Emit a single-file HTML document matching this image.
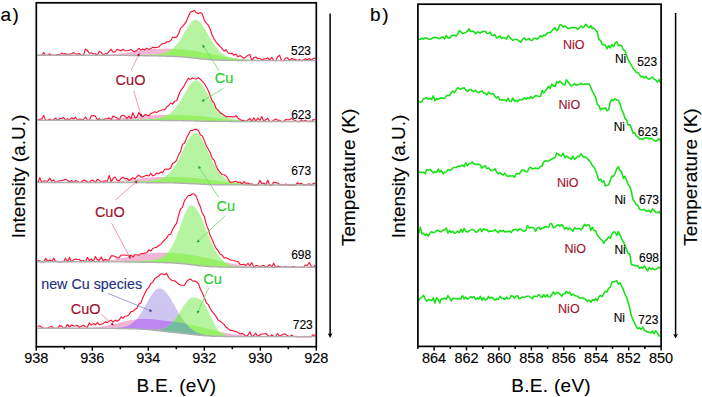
<!DOCTYPE html>
<html><head><meta charset="utf-8"><style>
html,body{margin:0;padding:0;background:#fff;}
svg{display:block;}
text{font-family:"Liberation Sans", sans-serif;stroke:currentColor;stroke-width:0.12px;}
</style></head><body>
<svg width="702" height="397" viewBox="0 0 702 397">
<defs><pattern id="dots" width="3" height="3" patternUnits="userSpaceOnUse" patternTransform="rotate(30)"><circle cx="1" cy="1" r="0.55" fill="#d89a98" fill-opacity="0.55"/></pattern></defs>
<rect width="702" height="397" fill="#fff"/>
<polygon points="88.4,55.3 89.4,55.3 90.3,55.3 91.2,55.2 92.2,55.2 93.1,55.2 94,55.2 94.9,55.2 95.9,55.2 96.8,55.2 97.7,55.1 98.7,55.1 99.6,55.1 100.5,55.1 101.5,55 102.4,55 103.3,54.9 104.2,54.9 105.2,54.9 106.1,54.8 107,54.8 108,54.7 108.9,54.6 109.8,54.6 110.8,54.5 111.7,54.4 112.6,54.3 113.5,54.2 114.5,54.2 115.4,54.1 116.3,54 117.3,53.9 118.2,53.8 119.1,53.6 120,53.5 121,53.4 121.9,53.3 122.8,53.1 123.8,53 124.7,52.9 125.6,52.7 126.6,52.6 127.5,52.5 128.4,52.3 129.3,52.2 130.3,52 131.2,51.9 132.1,51.7 133.1,51.6 134,51.4 134.9,51.3 135.9,51.1 136.8,51 137.7,50.9 138.6,50.7 139.6,50.6 140.5,50.5 141.4,50.3 142.4,50.2 143.3,50.1 144.2,50 145.2,49.9 146.1,49.8 147,49.7 147.9,49.6 148.9,49.5 149.8,49.4 150.7,49.3 151.7,49.2 152.6,49.2 153.5,49.1 154.5,49 155.4,49 156.3,48.9 157.2,48.9 158.2,48.9 159.1,48.8 160,48.8 161,48.8 161.9,48.8 162.8,48.7 163.7,48.7 164.7,48.7 165.6,48.7 166.5,48.7 167.5,48.8 168.4,48.8 169.3,48.8 170.3,48.8 171.2,48.8 172.1,48.9 173,48.9 174,48.9 174.9,49 175.8,49 176.8,49.1 177.7,49.1 178.6,49.2 179.6,49.2 180.5,49.3 181.4,49.3 182.3,49.4 183.3,49.5 184.2,49.6 185.1,49.7 186.1,49.7 187,49.8 187.9,49.9 188.9,50.1 189.8,50.2 190.7,50.3 191.6,50.4 192.6,50.6 193.5,50.7 194.4,50.8 195.4,51 196.3,51.2 197.2,51.3 198.1,51.5 199.1,51.6 200,51.8 200.9,52 201.9,52.2 202.8,52.3 203.7,52.5 204.7,52.7 205.6,52.9 206.5,53 207.4,53.2 208.4,53.4 209.3,53.6 210.2,53.8 211.2,54 212.1,54.1 213,54.3 214,54.5 214.9,54.7 215.8,54.9 216.7,55.1 217.7,55.3 218.6,55.5 219.5,55.6 220.5,55.8 221.4,56 222.3,56.2 223.3,56.4 224.2,56.5 225.1,56.7 226,56.9 227,57.1 227.9,57.2 228.8,57.4 229.8,57.6 230.7,57.7 231.6,57.9 232.6,58 233.5,58.2 234.4,58.3 235.3,58.5 236.3,58.6 237.2,58.7 238.1,58.9 239.1,59 240,59.1 240.9,59.2 241.8,59.3 242.8,59.4 243.7,59.5 244.6,59.6 245.6,59.7 246.5,59.7 247.4,59.8 248.4,59.9 249.3,60 250.2,60 251.1,60.1 252.1,60.1 253,60.2 253.9,60.2 254.9,60.2 255.8,60.3 256.7,60.3 257.7,60.3 258.6,60.4 259.5,60.4 260.4,60.4 261.4,60.4 262.3,60.4 263.2,60.5 264.2,60.5 265.1,60.5 266,60.5 267,60.5 267,60.6 266,60.6 265.1,60.6 264.2,60.6 263.2,60.6 262.3,60.6 261.4,60.6 260.4,60.5 259.5,60.5 258.6,60.5 257.7,60.5 256.7,60.5 255.8,60.5 254.9,60.5 253.9,60.5 253,60.5 252.1,60.5 251.1,60.5 250.2,60.5 249.3,60.5 248.4,60.5 247.4,60.5 246.5,60.5 245.6,60.5 244.6,60.5 243.7,60.5 242.8,60.5 241.8,60.5 240.9,60.5 240,60.5 239.1,60.5 238.1,60.5 237.2,60.5 236.3,60.4 235.3,60.4 234.4,60.4 233.5,60.4 232.6,60.4 231.6,60.4 230.7,60.4 229.8,60.4 228.8,60.4 227.9,60.3 227,60.3 226,60.3 225.1,60.3 224.2,60.3 223.3,60.2 222.3,60.2 221.4,60.2 220.5,60.2 219.5,60.1 218.6,60.1 217.7,60.1 216.7,60 215.8,60 214.9,60 214,59.9 213,59.9 212.1,59.8 211.2,59.7 210.2,59.7 209.3,59.6 208.4,59.5 207.4,59.5 206.5,59.4 205.6,59.3 204.7,59.2 203.7,59.1 202.8,59.1 201.9,59 200.9,58.9 200,58.8 199.1,58.7 198.1,58.5 197.2,58.4 196.3,58.3 195.4,58.2 194.4,58.1 193.5,58 192.6,57.9 191.6,57.8 190.7,57.7 189.8,57.6 188.9,57.5 187.9,57.4 187,57.3 186.1,57.2 185.1,57.1 184.2,57.1 183.3,57 182.3,56.9 181.4,56.8 180.5,56.8 179.6,56.7 178.6,56.7 177.7,56.6 176.8,56.6 175.8,56.5 174.9,56.5 174,56.4 173,56.4 172.1,56.4 171.2,56.3 170.3,56.3 169.3,56.3 168.4,56.2 167.5,56.2 166.5,56.2 165.6,56.1 164.7,56.1 163.7,56.1 162.8,56.1 161.9,56 161,56 160,56 159.1,56 158.2,55.9 157.2,55.9 156.3,55.9 155.4,55.9 154.5,55.9 153.5,55.8 152.6,55.8 151.7,55.8 150.7,55.8 149.8,55.8 148.9,55.8 147.9,55.7 147,55.7 146.1,55.7 145.2,55.7 144.2,55.7 143.3,55.7 142.4,55.6 141.4,55.6 140.5,55.6 139.6,55.6 138.6,55.6 137.7,55.6 136.8,55.6 135.9,55.5 134.9,55.5 134,55.5 133.1,55.5 132.1,55.5 131.2,55.5 130.3,55.5 129.3,55.5 128.4,55.5 127.5,55.5 126.6,55.4 125.6,55.4 124.7,55.4 123.8,55.4 122.8,55.4 121.9,55.4 121,55.4 120,55.4 119.1,55.4 118.2,55.4 117.3,55.4 116.3,55.4 115.4,55.4 114.5,55.4 113.5,55.4 112.6,55.4 111.7,55.4 110.8,55.4 109.8,55.4 108.9,55.3 108,55.3 107,55.3 106.1,55.3 105.2,55.3 104.2,55.3 103.3,55.3 102.4,55.3 101.5,55.3 100.5,55.3 99.6,55.3 98.7,55.3 97.7,55.3 96.8,55.3 95.9,55.3 94.9,55.3 94,55.3 93.1,55.3 92.2,55.3 91.2,55.3 90.3,55.3 89.4,55.3 88.4,55.3" fill="#f2b6d4" />
<polygon points="37.3,55.2 38.2,55.2 39.2,55.2 40.1,55.2 41,55.2 41.9,55.2 42.9,55.2 43.8,55.2 44.7,55.2 45.7,55.2 46.6,55.2 47.5,55.2 48.5,55.2 49.4,55.2 50.3,55.2 51.2,55.2 52.2,55.2 53.1,55.2 54,55.2 55,55.2 55.9,55.2 56.8,55.2 57.8,55.2 58.7,55.2 59.6,55.2 60.5,55.2 61.5,55.2 62.4,55.2 63.3,55.2 64.3,55.2 65.2,55.2 66.1,55.2 67.1,55.2 68,55.2 68.9,55.2 69.8,55.2 70.8,55.2 71.7,55.2 72.6,55.2 73.6,55.2 74.5,55.2 75.4,55.1 76.4,55.1 77.3,55.1 78.2,55.1 79.1,55.1 80.1,55.1 81,55.1 81.9,55.1 82.9,55.1 83.8,55.1 84.7,55.1 85.6,55.1 86.6,55.1 87.5,55.1 88.4,55.1 89.4,55.1 90.3,55.1 91.2,55.1 92.2,55.1 93.1,55.1 94,55.1 94.9,55.1 95.9,55.1 96.8,55.1 97.7,55.1 98.7,55.1 99.6,55.1 100.5,55.1 101.5,55.1 102.4,55.1 103.3,55.1 104.2,55.1 105.2,55.1 106.1,55 107,55 108,55 108.9,55 109.8,55 110.8,55 111.7,55 112.6,55 113.5,55 114.5,55 115.4,55 116.3,55 117.3,55 118.2,55 119.1,55 120,55 121,55 121.9,55 122.8,55 123.8,55 124.7,55 125.6,55 126.6,55 127.5,55 128.4,55 129.3,54.9 130.3,54.9 131.2,54.9 132.1,54.9 133.1,54.9 134,54.9 134.9,54.9 135.9,54.9 136.8,54.9 137.7,54.9 138.6,54.9 139.6,54.9 140.5,54.9 141.4,54.9 142.4,54.9 143.3,54.8 144.2,54.8 145.2,54.8 146.1,54.8 147,54.8 147.9,54.8 148.9,54.7 149.8,54.7 150.7,54.7 151.7,54.7 152.6,54.6 153.5,54.6 154.5,54.5 155.4,54.5 156.3,54.4 157.2,54.3 158.2,54.2 159.1,54.1 160,54 161,53.9 161.9,53.7 162.8,53.5 163.7,53.3 164.7,53 165.6,52.7 166.5,52.4 167.5,52 168.4,51.5 169.3,51 170.3,50.5 171.2,49.8 172.1,49.1 173,48.3 174,47.5 174.9,46.5 175.8,45.5 176.8,44.4 177.7,43.2 178.6,42 179.6,40.6 180.5,39.2 181.4,37.7 182.3,36.2 183.3,34.7 184.2,33.1 185.1,31.5 186.1,29.9 187,28.3 187.9,26.8 188.9,25.4 189.8,24.1 190.7,22.9 191.6,21.9 192.6,21 193.5,20.4 194.4,20 195.4,19.8 196.3,19.8 197.2,20.1 198.1,20.6 199.1,21.3 200,22.2 200.9,23.3 201.9,24.5 202.8,25.8 203.7,27.2 204.7,28.7 205.6,30.3 206.5,31.9 207.4,33.5 208.4,35.2 209.3,36.8 210.2,38.4 211.2,40 212.1,41.5 213,42.9 214,44.3 214.9,45.7 215.8,46.9 216.7,48.1 217.7,49.2 218.6,50.2 219.5,51.2 220.5,52.1 221.4,52.9 222.3,53.6 223.3,54.3 224.2,54.9 225.1,55.4 226,55.9 227,56.3 227.9,56.7 228.8,57 229.8,57.4 230.7,57.6 231.6,57.9 232.6,58.1 233.5,58.3 234.4,58.4 235.3,58.6 236.3,58.7 237.2,58.8 238.1,58.9 239.1,59 240,59.1 240.9,59.2 241.8,59.2 242.8,59.3 243.7,59.4 244.6,59.4 245.6,59.5 246.5,59.5 247.4,59.5 248.4,59.6 249.3,59.6 250.2,59.6 251.1,59.7 252.1,59.7 253,59.7 253.9,59.8 254.9,59.8 255.8,59.8 256.7,59.8 257.7,59.9 258.6,59.9 259.5,59.9 260.4,59.9 261.4,59.9 262.3,60 263.2,60 264.2,60 265.1,60 266,60 267,60 267.9,60 268.8,60.1 269.7,60.1 270.7,60.1 271.6,60.1 272.5,60.1 273.5,60.1 274.4,60.1 275.3,60.1 276.2,60.2 277.2,60.2 278.1,60.2 279,60.2 280,60.2 280.9,60.2 281.8,60.2 282.8,60.2 283.7,60.2 284.6,60.2 285.5,60.2 286.5,60.3 287.4,60.3 288.3,60.3 289.3,60.3 290.2,60.3 291.1,60.3 292.1,60.3 293,60.3 293.9,60.3 294.8,60.3 295.8,60.3 296.7,60.3 297.6,60.3 298.6,60.3 299.5,60.3 300.4,60.3 301.4,60.3 302.3,60.4 303.2,60.4 304.1,60.4 305.1,60.4 306,60.4 306.9,60.4 307.9,60.4 308.8,60.4 309.7,60.4 310.7,60.4 311.6,60.4 312.5,60.4 313.4,60.4 314.4,60.4 315.3,60.4 315.3,60.6 314.4,60.6 313.4,60.6 312.5,60.6 311.6,60.6 310.7,60.6 309.7,60.6 308.8,60.6 307.9,60.6 306.9,60.6 306,60.6 305.1,60.6 304.1,60.6 303.2,60.6 302.3,60.6 301.4,60.6 300.4,60.6 299.5,60.6 298.6,60.6 297.6,60.6 296.7,60.6 295.8,60.6 294.8,60.6 293.9,60.6 293,60.6 292.1,60.6 291.1,60.6 290.2,60.6 289.3,60.6 288.3,60.6 287.4,60.6 286.5,60.6 285.5,60.6 284.6,60.6 283.7,60.6 282.8,60.6 281.8,60.6 280.9,60.6 280,60.6 279,60.6 278.1,60.6 277.2,60.6 276.2,60.6 275.3,60.6 274.4,60.6 273.5,60.6 272.5,60.6 271.6,60.6 270.7,60.6 269.7,60.6 268.8,60.6 267.9,60.6 267,60.6 266,60.6 265.1,60.6 264.2,60.6 263.2,60.6 262.3,60.6 261.4,60.6 260.4,60.5 259.5,60.5 258.6,60.5 257.7,60.5 256.7,60.5 255.8,60.5 254.9,60.5 253.9,60.5 253,60.5 252.1,60.5 251.1,60.5 250.2,60.5 249.3,60.5 248.4,60.5 247.4,60.5 246.5,60.5 245.6,60.5 244.6,60.5 243.7,60.5 242.8,60.5 241.8,60.5 240.9,60.5 240,60.5 239.1,60.5 238.1,60.5 237.2,60.5 236.3,60.4 235.3,60.4 234.4,60.4 233.5,60.4 232.6,60.4 231.6,60.4 230.7,60.4 229.8,60.4 228.8,60.4 227.9,60.3 227,60.3 226,60.3 225.1,60.3 224.2,60.3 223.3,60.2 222.3,60.2 221.4,60.2 220.5,60.2 219.5,60.1 218.6,60.1 217.7,60.1 216.7,60 215.8,60 214.9,60 214,59.9 213,59.9 212.1,59.8 211.2,59.7 210.2,59.7 209.3,59.6 208.4,59.5 207.4,59.5 206.5,59.4 205.6,59.3 204.7,59.2 203.7,59.1 202.8,59.1 201.9,59 200.9,58.9 200,58.8 199.1,58.7 198.1,58.5 197.2,58.4 196.3,58.3 195.4,58.2 194.4,58.1 193.5,58 192.6,57.9 191.6,57.8 190.7,57.7 189.8,57.6 188.9,57.5 187.9,57.4 187,57.3 186.1,57.2 185.1,57.1 184.2,57.1 183.3,57 182.3,56.9 181.4,56.8 180.5,56.8 179.6,56.7 178.6,56.7 177.7,56.6 176.8,56.6 175.8,56.5 174.9,56.5 174,56.4 173,56.4 172.1,56.4 171.2,56.3 170.3,56.3 169.3,56.3 168.4,56.2 167.5,56.2 166.5,56.2 165.6,56.1 164.7,56.1 163.7,56.1 162.8,56.1 161.9,56 161,56 160,56 159.1,56 158.2,55.9 157.2,55.9 156.3,55.9 155.4,55.9 154.5,55.9 153.5,55.8 152.6,55.8 151.7,55.8 150.7,55.8 149.8,55.8 148.9,55.8 147.9,55.7 147,55.7 146.1,55.7 145.2,55.7 144.2,55.7 143.3,55.7 142.4,55.6 141.4,55.6 140.5,55.6 139.6,55.6 138.6,55.6 137.7,55.6 136.8,55.6 135.9,55.5 134.9,55.5 134,55.5 133.1,55.5 132.1,55.5 131.2,55.5 130.3,55.5 129.3,55.5 128.4,55.5 127.5,55.5 126.6,55.4 125.6,55.4 124.7,55.4 123.8,55.4 122.8,55.4 121.9,55.4 121,55.4 120,55.4 119.1,55.4 118.2,55.4 117.3,55.4 116.3,55.4 115.4,55.4 114.5,55.4 113.5,55.4 112.6,55.4 111.7,55.4 110.8,55.4 109.8,55.4 108.9,55.3 108,55.3 107,55.3 106.1,55.3 105.2,55.3 104.2,55.3 103.3,55.3 102.4,55.3 101.5,55.3 100.5,55.3 99.6,55.3 98.7,55.3 97.7,55.3 96.8,55.3 95.9,55.3 94.9,55.3 94,55.3 93.1,55.3 92.2,55.3 91.2,55.3 90.3,55.3 89.4,55.3 88.4,55.3 87.5,55.3 86.6,55.3 85.6,55.3 84.7,55.3 83.8,55.3 82.9,55.3 81.9,55.3 81,55.3 80.1,55.3 79.1,55.3 78.2,55.3 77.3,55.3 76.4,55.3 75.4,55.3 74.5,55.3 73.6,55.3 72.6,55.3 71.7,55.3 70.8,55.3 69.8,55.3 68.9,55.3 68,55.3 67.1,55.3 66.1,55.3 65.2,55.3 64.3,55.3 63.3,55.3 62.4,55.3 61.5,55.3 60.5,55.3 59.6,55.3 58.7,55.3 57.8,55.3 56.8,55.3 55.9,55.3 55,55.3 54,55.3 53.1,55.3 52.2,55.3 51.2,55.3 50.3,55.3 49.4,55.3 48.5,55.3 47.5,55.3 46.6,55.3 45.7,55.3 44.7,55.3 43.8,55.3 42.9,55.3 41.9,55.3 41,55.3 40.1,55.3 39.2,55.3 38.2,55.3 37.3,55.3" fill="#b6f4a2" />
<polygon points="88.4,55.3 89.4,55.3 90.3,55.3 91.2,55.2 92.2,55.2 93.1,55.2 94,55.2 94.9,55.2 95.9,55.2 96.8,55.2 97.7,55.1 98.7,55.1 99.6,55.1 100.5,55.1 101.5,55.1 102.4,55.1 103.3,55.1 104.2,55.1 105.2,55.1 106.1,55 107,55 108,55 108.9,55 109.8,55 110.8,55 111.7,55 112.6,55 113.5,55 114.5,55 115.4,55 116.3,55 117.3,55 118.2,55 119.1,55 120,55 121,55 121.9,55 122.8,55 123.8,55 124.7,55 125.6,55 126.6,55 127.5,55 128.4,55 129.3,54.9 130.3,54.9 131.2,54.9 132.1,54.9 133.1,54.9 134,54.9 134.9,54.9 135.9,54.9 136.8,54.9 137.7,54.9 138.6,54.9 139.6,54.9 140.5,54.9 141.4,54.9 142.4,54.9 143.3,54.8 144.2,54.8 145.2,54.8 146.1,54.8 147,54.8 147.9,54.8 148.9,54.7 149.8,54.7 150.7,54.7 151.7,54.7 152.6,54.6 153.5,54.6 154.5,54.5 155.4,54.5 156.3,54.4 157.2,54.3 158.2,54.2 159.1,54.1 160,54 161,53.9 161.9,53.7 162.8,53.5 163.7,53.3 164.7,53 165.6,52.7 166.5,52.4 167.5,52 168.4,51.5 169.3,51 170.3,50.5 171.2,49.8 172.1,49.1 173,48.9 174,48.9 174.9,49 175.8,49 176.8,49.1 177.7,49.1 178.6,49.2 179.6,49.2 180.5,49.3 181.4,49.3 182.3,49.4 183.3,49.5 184.2,49.6 185.1,49.7 186.1,49.7 187,49.8 187.9,49.9 188.9,50.1 189.8,50.2 190.7,50.3 191.6,50.4 192.6,50.6 193.5,50.7 194.4,50.8 195.4,51 196.3,51.2 197.2,51.3 198.1,51.5 199.1,51.6 200,51.8 200.9,52 201.9,52.2 202.8,52.3 203.7,52.5 204.7,52.7 205.6,52.9 206.5,53 207.4,53.2 208.4,53.4 209.3,53.6 210.2,53.8 211.2,54 212.1,54.1 213,54.3 214,54.5 214.9,54.7 215.8,54.9 216.7,55.1 217.7,55.3 218.6,55.5 219.5,55.6 220.5,55.8 221.4,56 222.3,56.2 223.3,56.4 224.2,56.5 225.1,56.7 226,56.9 227,57.1 227.9,57.2 228.8,57.4 229.8,57.6 230.7,57.7 231.6,57.9 232.6,58.1 233.5,58.3 234.4,58.4 235.3,58.6 236.3,58.7 237.2,58.8 238.1,58.9 239.1,59 240,59.1 240.9,59.2 241.8,59.3 242.8,59.4 243.7,59.5 244.6,59.6 245.6,59.7 246.5,59.7 247.4,59.8 248.4,59.9 249.3,60 250.2,60 251.1,60.1 252.1,60.1 253,60.2 253.9,60.2 254.9,60.2 255.8,60.3 256.7,60.3 257.7,60.3 258.6,60.4 259.5,60.4 260.4,60.4 261.4,60.4 262.3,60.4 263.2,60.5 264.2,60.5 265.1,60.5 266,60.5 267,60.5 267,60.6 266,60.6 265.1,60.6 264.2,60.6 263.2,60.6 262.3,60.6 261.4,60.6 260.4,60.5 259.5,60.5 258.6,60.5 257.7,60.5 256.7,60.5 255.8,60.5 254.9,60.5 253.9,60.5 253,60.5 252.1,60.5 251.1,60.5 250.2,60.5 249.3,60.5 248.4,60.5 247.4,60.5 246.5,60.5 245.6,60.5 244.6,60.5 243.7,60.5 242.8,60.5 241.8,60.5 240.9,60.5 240,60.5 239.1,60.5 238.1,60.5 237.2,60.5 236.3,60.4 235.3,60.4 234.4,60.4 233.5,60.4 232.6,60.4 231.6,60.4 230.7,60.4 229.8,60.4 228.8,60.4 227.9,60.3 227,60.3 226,60.3 225.1,60.3 224.2,60.3 223.3,60.2 222.3,60.2 221.4,60.2 220.5,60.2 219.5,60.1 218.6,60.1 217.7,60.1 216.7,60 215.8,60 214.9,60 214,59.9 213,59.9 212.1,59.8 211.2,59.7 210.2,59.7 209.3,59.6 208.4,59.5 207.4,59.5 206.5,59.4 205.6,59.3 204.7,59.2 203.7,59.1 202.8,59.1 201.9,59 200.9,58.9 200,58.8 199.1,58.7 198.1,58.5 197.2,58.4 196.3,58.3 195.4,58.2 194.4,58.1 193.5,58 192.6,57.9 191.6,57.8 190.7,57.7 189.8,57.6 188.9,57.5 187.9,57.4 187,57.3 186.1,57.2 185.1,57.1 184.2,57.1 183.3,57 182.3,56.9 181.4,56.8 180.5,56.8 179.6,56.7 178.6,56.7 177.7,56.6 176.8,56.6 175.8,56.5 174.9,56.5 174,56.4 173,56.4 172.1,56.4 171.2,56.3 170.3,56.3 169.3,56.3 168.4,56.2 167.5,56.2 166.5,56.2 165.6,56.1 164.7,56.1 163.7,56.1 162.8,56.1 161.9,56 161,56 160,56 159.1,56 158.2,55.9 157.2,55.9 156.3,55.9 155.4,55.9 154.5,55.9 153.5,55.8 152.6,55.8 151.7,55.8 150.7,55.8 149.8,55.8 148.9,55.8 147.9,55.7 147,55.7 146.1,55.7 145.2,55.7 144.2,55.7 143.3,55.7 142.4,55.6 141.4,55.6 140.5,55.6 139.6,55.6 138.6,55.6 137.7,55.6 136.8,55.6 135.9,55.5 134.9,55.5 134,55.5 133.1,55.5 132.1,55.5 131.2,55.5 130.3,55.5 129.3,55.5 128.4,55.5 127.5,55.5 126.6,55.4 125.6,55.4 124.7,55.4 123.8,55.4 122.8,55.4 121.9,55.4 121,55.4 120,55.4 119.1,55.4 118.2,55.4 117.3,55.4 116.3,55.4 115.4,55.4 114.5,55.4 113.5,55.4 112.6,55.4 111.7,55.4 110.8,55.4 109.8,55.4 108.9,55.3 108,55.3 107,55.3 106.1,55.3 105.2,55.3 104.2,55.3 103.3,55.3 102.4,55.3 101.5,55.3 100.5,55.3 99.6,55.3 98.7,55.3 97.7,55.3 96.8,55.3 95.9,55.3 94.9,55.3 94,55.3 93.1,55.3 92.2,55.3 91.2,55.3 90.3,55.3 89.4,55.3 88.4,55.3" fill="#98f066" />
<polyline points="37.8,55.4 39.8,55.4 41.8,55.4 43.7,52.6 45.7,55.4 47.7,55.4 49.7,53.8 51.7,55.4 53.7,55.3 55.6,55.1 57.6,54.6 59.6,55.4 61.6,53.2 63.6,54.1 65.5,53.5 67.5,55.4 69.5,54.4 71.5,53.7 73.5,52.8 75.5,53.7 77.4,54.1 79.4,53.5 81.4,55.4 83.4,55.4 85.4,49.1 87.4,50.4 89.3,53.3 91.3,52.8 93.3,53.8 95.3,53.7 97.3,55.4 99.2,51.2 101.2,52.4 103.2,55.4 105.2,53.8 107.2,53.7 109.2,51.4 111.1,49.2 113.1,52.2 115.1,51.9 117.1,49.3 119.1,50.1 121,51 123,49.3 125,50.6 127,50.8 129,50.5 131,49.4 132.9,51.2 134.9,51.6 136.9,50.4 138.9,48.3 140.9,50.1 142.9,48.9 144.8,49.9 146.8,48.1 148.8,49.5 150.8,48.5 152.8,47.2 154.7,47.6 156.7,47.5 158.7,47 160.7,44.9 162.7,43.5 164.7,43.5 166.6,42 168.6,41.6 170.6,40.8 172.6,37.2 174.6,37.4 176.6,37.1 178.5,34 180.5,28.4 182.5,26.6 184.5,24.1 186.5,21.1 188.4,16.5 190.4,12 192.4,11.4 194.4,10.4 196.4,12.8 198.4,13.6 200.3,12.5 202.3,13.9 204.3,19.9 206.3,23.2 208.3,25.2 210.2,29.3 212.2,35.4 214.2,39 216.2,42.3 218.2,44.5 220.2,46.7 222.1,48.5 224.1,51.2 226.1,49.7 228.1,52.7 230.1,53.7 232.1,53.1 234,55.3 236,54 238,56.9 240,55.4 242,57.1 243.9,58.3 245.9,57.1 247.9,55.2 249.9,54.5 251.9,60.6 253.9,57.7 255.8,57 257.8,58.7 259.8,58.3 261.8,60.2 263.8,58.9 265.7,59 267.7,57.8 269.7,60 271.7,57.4 273.7,60.5 275.7,60.7 277.6,56.8 279.6,55.3 281.6,60.7 283.6,60.7 285.6,58 287.6,57.7 289.5,60.7 291.5,58.5 293.5,59.1 295.5,59.5 297.5,60.7 299.4,59.4 301.4,60.7 303.4,59.9 305.4,58.8 307.4,59.7 309.4,58.6 311.3,60.3 313.3,58.3 315.3,58.4" fill="none" stroke="#f81438" stroke-width="1.15" stroke-linejoin="round"/>
<polyline points="37.3,55.3 38.2,55.3 39.2,55.3 40.1,55.3 41,55.3 41.9,55.3 42.9,55.3 43.8,55.3 44.7,55.3 45.7,55.3 46.6,55.3 47.5,55.3 48.5,55.3 49.4,55.3 50.3,55.3 51.2,55.3 52.2,55.3 53.1,55.3 54,55.3 55,55.3 55.9,55.3 56.8,55.3 57.8,55.3 58.7,55.3 59.6,55.3 60.5,55.3 61.5,55.3 62.4,55.3 63.3,55.3 64.3,55.3 65.2,55.3 66.1,55.3 67.1,55.3 68,55.3 68.9,55.3 69.8,55.3 70.8,55.3 71.7,55.3 72.6,55.3 73.6,55.3 74.5,55.3 75.4,55.3 76.4,55.3 77.3,55.3 78.2,55.3 79.1,55.3 80.1,55.3 81,55.3 81.9,55.3 82.9,55.3 83.8,55.3 84.7,55.3 85.6,55.3 86.6,55.3 87.5,55.3 88.4,55.3 89.4,55.3 90.3,55.3 91.2,55.3 92.2,55.3 93.1,55.3 94,55.3 94.9,55.3 95.9,55.3 96.8,55.3 97.7,55.3 98.7,55.3 99.6,55.3 100.5,55.3 101.5,55.3 102.4,55.3 103.3,55.3 104.2,55.3 105.2,55.3 106.1,55.3 107,55.3 108,55.3 108.9,55.3 109.8,55.4 110.8,55.4 111.7,55.4 112.6,55.4 113.5,55.4 114.5,55.4 115.4,55.4 116.3,55.4 117.3,55.4 118.2,55.4 119.1,55.4 120,55.4 121,55.4 121.9,55.4 122.8,55.4 123.8,55.4 124.7,55.4 125.6,55.4 126.6,55.4 127.5,55.5 128.4,55.5 129.3,55.5 130.3,55.5 131.2,55.5 132.1,55.5 133.1,55.5 134,55.5 134.9,55.5 135.9,55.5 136.8,55.6 137.7,55.6 138.6,55.6 139.6,55.6 140.5,55.6 141.4,55.6 142.4,55.6 143.3,55.7 144.2,55.7 145.2,55.7 146.1,55.7 147,55.7 147.9,55.7 148.9,55.8 149.8,55.8 150.7,55.8 151.7,55.8 152.6,55.8 153.5,55.8 154.5,55.9 155.4,55.9 156.3,55.9 157.2,55.9 158.2,55.9 159.1,56 160,56 161,56 161.9,56 162.8,56.1 163.7,56.1 164.7,56.1 165.6,56.1 166.5,56.2 167.5,56.2 168.4,56.2 169.3,56.3 170.3,56.3 171.2,56.3 172.1,56.4 173,56.4 174,56.4 174.9,56.5 175.8,56.5 176.8,56.6 177.7,56.6 178.6,56.7 179.6,56.7 180.5,56.8 181.4,56.8 182.3,56.9 183.3,57 184.2,57.1 185.1,57.1 186.1,57.2 187,57.3 187.9,57.4 188.9,57.5 189.8,57.6 190.7,57.7 191.6,57.8 192.6,57.9 193.5,58 194.4,58.1 195.4,58.2 196.3,58.3 197.2,58.4 198.1,58.5 199.1,58.7 200,58.8 200.9,58.9 201.9,59 202.8,59.1 203.7,59.1 204.7,59.2 205.6,59.3 206.5,59.4 207.4,59.5 208.4,59.5 209.3,59.6 210.2,59.7 211.2,59.7 212.1,59.8 213,59.9 214,59.9 214.9,60 215.8,60 216.7,60 217.7,60.1 218.6,60.1 219.5,60.1 220.5,60.2 221.4,60.2 222.3,60.2 223.3,60.2 224.2,60.3 225.1,60.3 226,60.3 227,60.3 227.9,60.3 228.8,60.4 229.8,60.4 230.7,60.4 231.6,60.4 232.6,60.4 233.5,60.4 234.4,60.4 235.3,60.4 236.3,60.4 237.2,60.5 238.1,60.5 239.1,60.5 240,60.5 240.9,60.5 241.8,60.5 242.8,60.5 243.7,60.5 244.6,60.5 245.6,60.5 246.5,60.5 247.4,60.5 248.4,60.5 249.3,60.5 250.2,60.5 251.1,60.5 252.1,60.5 253,60.5 253.9,60.5 254.9,60.5 255.8,60.5 256.7,60.5 257.7,60.5 258.6,60.5 259.5,60.5 260.4,60.5 261.4,60.6 262.3,60.6 263.2,60.6 264.2,60.6 265.1,60.6 266,60.6 267,60.6 267.9,60.6 268.8,60.6 269.7,60.6 270.7,60.6 271.6,60.6 272.5,60.6 273.5,60.6 274.4,60.6 275.3,60.6 276.2,60.6 277.2,60.6 278.1,60.6 279,60.6 280,60.6 280.9,60.6 281.8,60.6 282.8,60.6 283.7,60.6 284.6,60.6 285.5,60.6 286.5,60.6 287.4,60.6 288.3,60.6 289.3,60.6 290.2,60.6 291.1,60.6 292.1,60.6 293,60.6 293.9,60.6 294.8,60.6 295.8,60.6 296.7,60.6 297.6,60.6 298.6,60.6 299.5,60.6 300.4,60.6 301.4,60.6 302.3,60.6 303.2,60.6 304.1,60.6 305.1,60.6 306,60.6 306.9,60.6 307.9,60.6 308.8,60.6 309.7,60.6 310.7,60.6 311.6,60.6 312.5,60.6 313.4,60.6 314.4,60.6 315.3,60.6" fill="none" stroke="#b0b0b0" stroke-width="1.4"/>
<text x="311" y="54.9" font-size="12" text-anchor="end">523</text>
<polygon points="83.8,120.3 84.7,120.3 85.6,120.2 86.6,120.2 87.5,120.2 88.4,120.2 89.4,120.2 90.3,120.2 91.2,120.2 92.2,120.2 93.1,120.1 94,120.1 94.9,120.1 95.9,120.1 96.8,120 97.7,120 98.7,120 99.6,119.9 100.5,119.9 101.5,119.9 102.4,119.8 103.3,119.8 104.2,119.7 105.2,119.7 106.1,119.6 107,119.5 108,119.5 108.9,119.4 109.8,119.3 110.8,119.3 111.7,119.2 112.6,119.1 113.5,119 114.5,118.9 115.4,118.9 116.3,118.8 117.3,118.7 118.2,118.6 119.1,118.5 120,118.4 121,118.3 121.9,118.2 122.8,118.1 123.8,118 124.7,117.9 125.6,117.7 126.6,117.6 127.5,117.5 128.4,117.4 129.3,117.3 130.3,117.2 131.2,117.1 132.1,117 133.1,116.9 134,116.8 134.9,116.7 135.9,116.6 136.8,116.5 137.7,116.4 138.6,116.3 139.6,116.2 140.5,116.1 141.4,116 142.4,116 143.3,115.9 144.2,115.8 145.2,115.7 146.1,115.7 147,115.6 147.9,115.5 148.9,115.5 149.8,115.4 150.7,115.4 151.7,115.3 152.6,115.3 153.5,115.3 154.5,115.2 155.4,115.2 156.3,115.2 157.2,115.1 158.2,115.1 159.1,115.1 160,115.1 161,115 161.9,115 162.8,115 163.7,115 164.7,115 165.6,115 166.5,115 167.5,115 168.4,115 169.3,115 170.3,115 171.2,115 172.1,115 173,115 174,115 174.9,115.1 175.8,115.1 176.8,115.1 177.7,115.1 178.6,115.1 179.6,115.1 180.5,115.1 181.4,115.2 182.3,115.2 183.3,115.2 184.2,115.2 185.1,115.3 186.1,115.3 187,115.3 187.9,115.4 188.9,115.4 189.8,115.4 190.7,115.5 191.6,115.5 192.6,115.6 193.5,115.7 194.4,115.7 195.4,115.8 196.3,115.9 197.2,115.9 198.1,116 199.1,116.1 200,116.2 200.9,116.3 201.9,116.3 202.8,116.4 203.7,116.5 204.7,116.6 205.6,116.7 206.5,116.8 207.4,116.9 208.4,117.1 209.3,117.2 210.2,117.3 211.2,117.4 212.1,117.5 213,117.6 214,117.7 214.9,117.9 215.8,118 216.7,118.1 217.7,118.2 218.6,118.4 219.5,118.5 220.5,118.6 221.4,118.7 222.3,118.8 223.3,119 224.2,119.1 225.1,119.2 226,119.3 227,119.4 227.9,119.5 228.8,119.6 229.8,119.7 230.7,119.8 231.6,119.9 232.6,120 233.5,120.1 234.4,120.2 235.3,120.3 236.3,120.4 237.2,120.5 238.1,120.6 239.1,120.6 240,120.7 240.9,120.8 241.8,120.8 242.8,120.9 243.7,120.9 244.6,121 245.6,121 246.5,121.1 247.4,121.1 248.4,121.2 249.3,121.2 250.2,121.2 251.1,121.2 252.1,121.3 253,121.3 253.9,121.3 254.9,121.3 255.8,121.4 256.7,121.4 257.7,121.4 258.6,121.4 259.5,121.4 260.4,121.4 261.4,121.4 262.3,121.4 262.3,121.5 261.4,121.5 260.4,121.5 259.5,121.5 258.6,121.5 257.7,121.5 256.7,121.5 255.8,121.5 254.9,121.5 253.9,121.5 253,121.5 252.1,121.5 251.1,121.5 250.2,121.5 249.3,121.5 248.4,121.5 247.4,121.5 246.5,121.5 245.6,121.5 244.6,121.5 243.7,121.5 242.8,121.5 241.8,121.5 240.9,121.5 240,121.5 239.1,121.5 238.1,121.5 237.2,121.5 236.3,121.5 235.3,121.5 234.4,121.5 233.5,121.5 232.6,121.5 231.6,121.5 230.7,121.5 229.8,121.5 228.8,121.4 227.9,121.4 227,121.4 226,121.4 225.1,121.4 224.2,121.4 223.3,121.4 222.3,121.4 221.4,121.4 220.5,121.4 219.5,121.4 218.6,121.4 217.7,121.4 216.7,121.4 215.8,121.4 214.9,121.4 214,121.4 213,121.3 212.1,121.3 211.2,121.3 210.2,121.3 209.3,121.3 208.4,121.3 207.4,121.3 206.5,121.2 205.6,121.2 204.7,121.2 203.7,121.2 202.8,121.2 201.9,121.1 200.9,121.1 200,121.1 199.1,121.1 198.1,121 197.2,121 196.3,121 195.4,121 194.4,120.9 193.5,120.9 192.6,120.9 191.6,120.9 190.7,120.8 189.8,120.8 188.9,120.8 187.9,120.8 187,120.8 186.1,120.7 185.1,120.7 184.2,120.7 183.3,120.7 182.3,120.7 181.4,120.6 180.5,120.6 179.6,120.6 178.6,120.6 177.7,120.6 176.8,120.6 175.8,120.6 174.9,120.6 174,120.5 173,120.5 172.1,120.5 171.2,120.5 170.3,120.5 169.3,120.5 168.4,120.5 167.5,120.5 166.5,120.5 165.6,120.5 164.7,120.5 163.7,120.5 162.8,120.5 161.9,120.5 161,120.5 160,120.4 159.1,120.4 158.2,120.4 157.2,120.4 156.3,120.4 155.4,120.4 154.5,120.4 153.5,120.4 152.6,120.4 151.7,120.4 150.7,120.4 149.8,120.4 148.9,120.4 147.9,120.4 147,120.4 146.1,120.4 145.2,120.4 144.2,120.4 143.3,120.4 142.4,120.4 141.4,120.4 140.5,120.4 139.6,120.4 138.6,120.4 137.7,120.4 136.8,120.4 135.9,120.4 134.9,120.4 134,120.4 133.1,120.4 132.1,120.4 131.2,120.3 130.3,120.3 129.3,120.3 128.4,120.3 127.5,120.3 126.6,120.3 125.6,120.3 124.7,120.3 123.8,120.3 122.8,120.3 121.9,120.3 121,120.3 120,120.3 119.1,120.3 118.2,120.3 117.3,120.3 116.3,120.3 115.4,120.3 114.5,120.3 113.5,120.3 112.6,120.3 111.7,120.3 110.8,120.3 109.8,120.3 108.9,120.3 108,120.3 107,120.3 106.1,120.3 105.2,120.3 104.2,120.3 103.3,120.3 102.4,120.3 101.5,120.3 100.5,120.3 99.6,120.3 98.7,120.3 97.7,120.3 96.8,120.3 95.9,120.3 94.9,120.3 94,120.3 93.1,120.3 92.2,120.3 91.2,120.3 90.3,120.3 89.4,120.3 88.4,120.3 87.5,120.3 86.6,120.3 85.6,120.3 84.7,120.3 83.8,120.3" fill="#f2b6d4" />
<polygon points="37.3,120.2 38.2,120.2 39.2,120.2 40.1,120.2 41,120.2 41.9,120.2 42.9,120.2 43.8,120.2 44.7,120.2 45.7,120.2 46.6,120.2 47.5,120.2 48.5,120.2 49.4,120.2 50.3,120.2 51.2,120.2 52.2,120.2 53.1,120.2 54,120.2 55,120.2 55.9,120.2 56.8,120.2 57.8,120.2 58.7,120.1 59.6,120.1 60.5,120.1 61.5,120.1 62.4,120.1 63.3,120.1 64.3,120.1 65.2,120.1 66.1,120.1 67.1,120.1 68,120.1 68.9,120.1 69.8,120.1 70.8,120.1 71.7,120.1 72.6,120.1 73.6,120.1 74.5,120.1 75.4,120.1 76.4,120.1 77.3,120.1 78.2,120.1 79.1,120.1 80.1,120.1 81,120.1 81.9,120.1 82.9,120.1 83.8,120.1 84.7,120.1 85.6,120.1 86.6,120.1 87.5,120.1 88.4,120.1 89.4,120.1 90.3,120.1 91.2,120 92.2,120 93.1,120 94,120 94.9,120 95.9,120 96.8,120 97.7,120 98.7,120 99.6,120 100.5,120 101.5,120 102.4,120 103.3,120 104.2,120 105.2,120 106.1,120 107,120 108,119.9 108.9,119.9 109.8,119.9 110.8,119.9 111.7,119.9 112.6,119.9 113.5,119.9 114.5,119.9 115.4,119.9 116.3,119.9 117.3,119.9 118.2,119.9 119.1,119.9 120,119.8 121,119.8 121.9,119.8 122.8,119.8 123.8,119.8 124.7,119.8 125.6,119.8 126.6,119.8 127.5,119.8 128.4,119.7 129.3,119.7 130.3,119.7 131.2,119.7 132.1,119.7 133.1,119.7 134,119.6 134.9,119.6 135.9,119.6 136.8,119.6 137.7,119.6 138.6,119.5 139.6,119.5 140.5,119.5 141.4,119.5 142.4,119.4 143.3,119.4 144.2,119.4 145.2,119.3 146.1,119.3 147,119.3 147.9,119.2 148.9,119.2 149.8,119.1 150.7,119.1 151.7,119 152.6,118.9 153.5,118.9 154.5,118.8 155.4,118.7 156.3,118.6 157.2,118.4 158.2,118.3 159.1,118.1 160,117.9 161,117.7 161.9,117.4 162.8,117.2 163.7,116.9 164.7,116.5 165.6,116.1 166.5,115.6 167.5,115.1 168.4,114.6 169.3,113.9 170.3,113.2 171.2,112.5 172.1,111.6 173,110.7 174,109.7 174.9,108.7 175.8,107.5 176.8,106.3 177.7,105 178.6,103.7 179.6,102.2 180.5,100.7 181.4,99.2 182.3,97.6 183.3,96 184.2,94.4 185.1,92.8 186.1,91.1 187,89.6 187.9,88.1 188.9,86.6 189.8,85.3 190.7,84.1 191.6,83 192.6,82.1 193.5,81.4 194.4,80.8 195.4,80.6 196.3,80.5 197.2,80.7 198.1,81 199.1,81.6 200,82.4 200.9,83.4 201.9,84.6 202.8,85.9 203.7,87.3 204.7,88.8 205.6,90.3 206.5,92 207.4,93.6 208.4,95.3 209.3,96.9 210.2,98.6 211.2,100.2 212.1,101.7 213,103.2 214,104.7 214.9,106.1 215.8,107.4 216.7,108.6 217.7,109.7 218.6,110.8 219.5,111.8 220.5,112.7 221.4,113.5 222.3,114.3 223.3,115 224.2,115.6 225.1,116.2 226,116.7 227,117.1 227.9,117.5 228.8,117.9 229.8,118.2 230.7,118.5 231.6,118.7 232.6,119 233.5,119.2 234.4,119.3 235.3,119.5 236.3,119.6 237.2,119.7 238.1,119.8 239.1,119.9 240,120 240.9,120.1 241.8,120.1 242.8,120.2 243.7,120.3 244.6,120.3 245.6,120.4 246.5,120.4 247.4,120.4 248.4,120.5 249.3,120.5 250.2,120.6 251.1,120.6 252.1,120.6 253,120.6 253.9,120.7 254.9,120.7 255.8,120.7 256.7,120.7 257.7,120.8 258.6,120.8 259.5,120.8 260.4,120.8 261.4,120.8 262.3,120.9 263.2,120.9 264.2,120.9 265.1,120.9 266,120.9 267,120.9 267.9,120.9 268.8,121 269.7,121 270.7,121 271.6,121 272.5,121 273.5,121 274.4,121 275.3,121 276.2,121.1 277.2,121.1 278.1,121.1 279,121.1 280,121.1 280.9,121.1 281.8,121.1 282.8,121.1 283.7,121.1 284.6,121.1 285.5,121.1 286.5,121.1 287.4,121.2 288.3,121.2 289.3,121.2 290.2,121.2 291.1,121.2 292.1,121.2 293,121.2 293.9,121.2 294.8,121.2 295.8,121.2 296.7,121.2 297.6,121.2 298.6,121.2 299.5,121.2 300.4,121.2 301.4,121.2 302.3,121.2 303.2,121.2 304.1,121.3 305.1,121.3 306,121.3 306.9,121.3 307.9,121.3 308.8,121.3 309.7,121.3 310.7,121.3 311.6,121.3 312.5,121.3 313.4,121.3 314.4,121.3 315.3,121.3 315.3,121.5 314.4,121.5 313.4,121.5 312.5,121.5 311.6,121.5 310.7,121.5 309.7,121.5 308.8,121.5 307.9,121.5 306.9,121.5 306,121.5 305.1,121.5 304.1,121.5 303.2,121.5 302.3,121.5 301.4,121.5 300.4,121.5 299.5,121.5 298.6,121.5 297.6,121.5 296.7,121.5 295.8,121.5 294.8,121.5 293.9,121.5 293,121.5 292.1,121.5 291.1,121.5 290.2,121.5 289.3,121.5 288.3,121.5 287.4,121.5 286.5,121.5 285.5,121.5 284.6,121.5 283.7,121.5 282.8,121.5 281.8,121.5 280.9,121.5 280,121.5 279,121.5 278.1,121.5 277.2,121.5 276.2,121.5 275.3,121.5 274.4,121.5 273.5,121.5 272.5,121.5 271.6,121.5 270.7,121.5 269.7,121.5 268.8,121.5 267.9,121.5 267,121.5 266,121.5 265.1,121.5 264.2,121.5 263.2,121.5 262.3,121.5 261.4,121.5 260.4,121.5 259.5,121.5 258.6,121.5 257.7,121.5 256.7,121.5 255.8,121.5 254.9,121.5 253.9,121.5 253,121.5 252.1,121.5 251.1,121.5 250.2,121.5 249.3,121.5 248.4,121.5 247.4,121.5 246.5,121.5 245.6,121.5 244.6,121.5 243.7,121.5 242.8,121.5 241.8,121.5 240.9,121.5 240,121.5 239.1,121.5 238.1,121.5 237.2,121.5 236.3,121.5 235.3,121.5 234.4,121.5 233.5,121.5 232.6,121.5 231.6,121.5 230.7,121.5 229.8,121.5 228.8,121.4 227.9,121.4 227,121.4 226,121.4 225.1,121.4 224.2,121.4 223.3,121.4 222.3,121.4 221.4,121.4 220.5,121.4 219.5,121.4 218.6,121.4 217.7,121.4 216.7,121.4 215.8,121.4 214.9,121.4 214,121.4 213,121.3 212.1,121.3 211.2,121.3 210.2,121.3 209.3,121.3 208.4,121.3 207.4,121.3 206.5,121.2 205.6,121.2 204.7,121.2 203.7,121.2 202.8,121.2 201.9,121.1 200.9,121.1 200,121.1 199.1,121.1 198.1,121 197.2,121 196.3,121 195.4,121 194.4,120.9 193.5,120.9 192.6,120.9 191.6,120.9 190.7,120.8 189.8,120.8 188.9,120.8 187.9,120.8 187,120.8 186.1,120.7 185.1,120.7 184.2,120.7 183.3,120.7 182.3,120.7 181.4,120.6 180.5,120.6 179.6,120.6 178.6,120.6 177.7,120.6 176.8,120.6 175.8,120.6 174.9,120.6 174,120.5 173,120.5 172.1,120.5 171.2,120.5 170.3,120.5 169.3,120.5 168.4,120.5 167.5,120.5 166.5,120.5 165.6,120.5 164.7,120.5 163.7,120.5 162.8,120.5 161.9,120.5 161,120.5 160,120.4 159.1,120.4 158.2,120.4 157.2,120.4 156.3,120.4 155.4,120.4 154.5,120.4 153.5,120.4 152.6,120.4 151.7,120.4 150.7,120.4 149.8,120.4 148.9,120.4 147.9,120.4 147,120.4 146.1,120.4 145.2,120.4 144.2,120.4 143.3,120.4 142.4,120.4 141.4,120.4 140.5,120.4 139.6,120.4 138.6,120.4 137.7,120.4 136.8,120.4 135.9,120.4 134.9,120.4 134,120.4 133.1,120.4 132.1,120.4 131.2,120.3 130.3,120.3 129.3,120.3 128.4,120.3 127.5,120.3 126.6,120.3 125.6,120.3 124.7,120.3 123.8,120.3 122.8,120.3 121.9,120.3 121,120.3 120,120.3 119.1,120.3 118.2,120.3 117.3,120.3 116.3,120.3 115.4,120.3 114.5,120.3 113.5,120.3 112.6,120.3 111.7,120.3 110.8,120.3 109.8,120.3 108.9,120.3 108,120.3 107,120.3 106.1,120.3 105.2,120.3 104.2,120.3 103.3,120.3 102.4,120.3 101.5,120.3 100.5,120.3 99.6,120.3 98.7,120.3 97.7,120.3 96.8,120.3 95.9,120.3 94.9,120.3 94,120.3 93.1,120.3 92.2,120.3 91.2,120.3 90.3,120.3 89.4,120.3 88.4,120.3 87.5,120.3 86.6,120.3 85.6,120.3 84.7,120.3 83.8,120.3 82.9,120.3 81.9,120.3 81,120.3 80.1,120.3 79.1,120.3 78.2,120.3 77.3,120.3 76.4,120.3 75.4,120.3 74.5,120.3 73.6,120.3 72.6,120.3 71.7,120.3 70.8,120.3 69.8,120.3 68.9,120.3 68,120.3 67.1,120.3 66.1,120.3 65.2,120.3 64.3,120.3 63.3,120.3 62.4,120.3 61.5,120.3 60.5,120.3 59.6,120.3 58.7,120.3 57.8,120.3 56.8,120.3 55.9,120.3 55,120.3 54,120.3 53.1,120.3 52.2,120.3 51.2,120.3 50.3,120.3 49.4,120.3 48.5,120.3 47.5,120.3 46.6,120.3 45.7,120.3 44.7,120.3 43.8,120.3 42.9,120.3 41.9,120.3 41,120.3 40.1,120.3 39.2,120.3 38.2,120.3 37.3,120.3" fill="#b6f4a2" />
<polygon points="83.8,120.3 84.7,120.3 85.6,120.2 86.6,120.2 87.5,120.2 88.4,120.2 89.4,120.2 90.3,120.2 91.2,120.2 92.2,120.2 93.1,120.1 94,120.1 94.9,120.1 95.9,120.1 96.8,120 97.7,120 98.7,120 99.6,120 100.5,120 101.5,120 102.4,120 103.3,120 104.2,120 105.2,120 106.1,120 107,120 108,119.9 108.9,119.9 109.8,119.9 110.8,119.9 111.7,119.9 112.6,119.9 113.5,119.9 114.5,119.9 115.4,119.9 116.3,119.9 117.3,119.9 118.2,119.9 119.1,119.9 120,119.8 121,119.8 121.9,119.8 122.8,119.8 123.8,119.8 124.7,119.8 125.6,119.8 126.6,119.8 127.5,119.8 128.4,119.7 129.3,119.7 130.3,119.7 131.2,119.7 132.1,119.7 133.1,119.7 134,119.6 134.9,119.6 135.9,119.6 136.8,119.6 137.7,119.6 138.6,119.5 139.6,119.5 140.5,119.5 141.4,119.5 142.4,119.4 143.3,119.4 144.2,119.4 145.2,119.3 146.1,119.3 147,119.3 147.9,119.2 148.9,119.2 149.8,119.1 150.7,119.1 151.7,119 152.6,118.9 153.5,118.9 154.5,118.8 155.4,118.7 156.3,118.6 157.2,118.4 158.2,118.3 159.1,118.1 160,117.9 161,117.7 161.9,117.4 162.8,117.2 163.7,116.9 164.7,116.5 165.6,116.1 166.5,115.6 167.5,115.1 168.4,115 169.3,115 170.3,115 171.2,115 172.1,115 173,115 174,115 174.9,115.1 175.8,115.1 176.8,115.1 177.7,115.1 178.6,115.1 179.6,115.1 180.5,115.1 181.4,115.2 182.3,115.2 183.3,115.2 184.2,115.2 185.1,115.3 186.1,115.3 187,115.3 187.9,115.4 188.9,115.4 189.8,115.4 190.7,115.5 191.6,115.5 192.6,115.6 193.5,115.7 194.4,115.7 195.4,115.8 196.3,115.9 197.2,115.9 198.1,116 199.1,116.1 200,116.2 200.9,116.3 201.9,116.3 202.8,116.4 203.7,116.5 204.7,116.6 205.6,116.7 206.5,116.8 207.4,116.9 208.4,117.1 209.3,117.2 210.2,117.3 211.2,117.4 212.1,117.5 213,117.6 214,117.7 214.9,117.9 215.8,118 216.7,118.1 217.7,118.2 218.6,118.4 219.5,118.5 220.5,118.6 221.4,118.7 222.3,118.8 223.3,119 224.2,119.1 225.1,119.2 226,119.3 227,119.4 227.9,119.5 228.8,119.6 229.8,119.7 230.7,119.8 231.6,119.9 232.6,120 233.5,120.1 234.4,120.2 235.3,120.3 236.3,120.4 237.2,120.5 238.1,120.6 239.1,120.6 240,120.7 240.9,120.8 241.8,120.8 242.8,120.9 243.7,120.9 244.6,121 245.6,121 246.5,121.1 247.4,121.1 248.4,121.2 249.3,121.2 250.2,121.2 251.1,121.2 252.1,121.3 253,121.3 253.9,121.3 254.9,121.3 255.8,121.4 256.7,121.4 257.7,121.4 258.6,121.4 259.5,121.4 260.4,121.4 261.4,121.4 262.3,121.4 262.3,121.5 261.4,121.5 260.4,121.5 259.5,121.5 258.6,121.5 257.7,121.5 256.7,121.5 255.8,121.5 254.9,121.5 253.9,121.5 253,121.5 252.1,121.5 251.1,121.5 250.2,121.5 249.3,121.5 248.4,121.5 247.4,121.5 246.5,121.5 245.6,121.5 244.6,121.5 243.7,121.5 242.8,121.5 241.8,121.5 240.9,121.5 240,121.5 239.1,121.5 238.1,121.5 237.2,121.5 236.3,121.5 235.3,121.5 234.4,121.5 233.5,121.5 232.6,121.5 231.6,121.5 230.7,121.5 229.8,121.5 228.8,121.4 227.9,121.4 227,121.4 226,121.4 225.1,121.4 224.2,121.4 223.3,121.4 222.3,121.4 221.4,121.4 220.5,121.4 219.5,121.4 218.6,121.4 217.7,121.4 216.7,121.4 215.8,121.4 214.9,121.4 214,121.4 213,121.3 212.1,121.3 211.2,121.3 210.2,121.3 209.3,121.3 208.4,121.3 207.4,121.3 206.5,121.2 205.6,121.2 204.7,121.2 203.7,121.2 202.8,121.2 201.9,121.1 200.9,121.1 200,121.1 199.1,121.1 198.1,121 197.2,121 196.3,121 195.4,121 194.4,120.9 193.5,120.9 192.6,120.9 191.6,120.9 190.7,120.8 189.8,120.8 188.9,120.8 187.9,120.8 187,120.8 186.1,120.7 185.1,120.7 184.2,120.7 183.3,120.7 182.3,120.7 181.4,120.6 180.5,120.6 179.6,120.6 178.6,120.6 177.7,120.6 176.8,120.6 175.8,120.6 174.9,120.6 174,120.5 173,120.5 172.1,120.5 171.2,120.5 170.3,120.5 169.3,120.5 168.4,120.5 167.5,120.5 166.5,120.5 165.6,120.5 164.7,120.5 163.7,120.5 162.8,120.5 161.9,120.5 161,120.5 160,120.4 159.1,120.4 158.2,120.4 157.2,120.4 156.3,120.4 155.4,120.4 154.5,120.4 153.5,120.4 152.6,120.4 151.7,120.4 150.7,120.4 149.8,120.4 148.9,120.4 147.9,120.4 147,120.4 146.1,120.4 145.2,120.4 144.2,120.4 143.3,120.4 142.4,120.4 141.4,120.4 140.5,120.4 139.6,120.4 138.6,120.4 137.7,120.4 136.8,120.4 135.9,120.4 134.9,120.4 134,120.4 133.1,120.4 132.1,120.4 131.2,120.3 130.3,120.3 129.3,120.3 128.4,120.3 127.5,120.3 126.6,120.3 125.6,120.3 124.7,120.3 123.8,120.3 122.8,120.3 121.9,120.3 121,120.3 120,120.3 119.1,120.3 118.2,120.3 117.3,120.3 116.3,120.3 115.4,120.3 114.5,120.3 113.5,120.3 112.6,120.3 111.7,120.3 110.8,120.3 109.8,120.3 108.9,120.3 108,120.3 107,120.3 106.1,120.3 105.2,120.3 104.2,120.3 103.3,120.3 102.4,120.3 101.5,120.3 100.5,120.3 99.6,120.3 98.7,120.3 97.7,120.3 96.8,120.3 95.9,120.3 94.9,120.3 94,120.3 93.1,120.3 92.2,120.3 91.2,120.3 90.3,120.3 89.4,120.3 88.4,120.3 87.5,120.3 86.6,120.3 85.6,120.3 84.7,120.3 83.8,120.3" fill="#98f066" />
<polyline points="37.8,120.3 39.8,119 41.8,119.1 43.7,115.4 45.7,120.4 47.7,120.4 49.7,118.9 51.7,120.4 53.7,119.8 55.6,118.2 57.6,120.4 59.6,118.6 61.6,118.5 63.6,117.6 65.5,119.8 67.5,118.8 69.5,119.9 71.5,117.8 73.5,119.1 75.5,117.3 77.4,120.3 79.4,119.1 81.4,119.4 83.4,119.5 85.4,117 87.4,120.1 89.3,120.4 91.3,115.8 93.3,115.6 95.3,116 97.3,120 99.2,118.7 101.2,120.4 103.2,119.7 105.2,118.7 107.2,118.7 109.2,117.9 111.1,119.6 113.1,116 115.1,117.1 117.1,118.1 119.1,120.4 121,116.1 123,115.3 125,116.1 127,118.6 129,116.2 131,118.6 132.9,112.7 134.9,117.6 136.9,117.2 138.9,112.6 140.9,115.2 142.9,116.8 144.8,114.6 146.8,115 148.8,115.8 150.8,113.6 152.8,112.7 154.7,111.8 156.7,112.5 158.7,111.1 160.7,110.5 162.7,109.8 164.7,109.6 166.6,107.1 168.6,105.5 170.6,103 172.6,104.1 174.6,101.3 176.6,100.7 178.5,95.7 180.5,90.7 182.5,88.4 184.5,85.1 186.5,81.2 188.4,78.3 190.4,79.4 192.4,77.9 194.4,78.8 196.4,79 198.4,77.6 200.3,79.2 202.3,81.4 204.3,83.4 206.3,87 208.3,90.7 210.2,95.5 212.2,101 214.2,103.2 216.2,108.6 218.2,110 220.2,112.9 222.1,113.6 224.1,115.2 226.1,116.7 228.1,116.6 230.1,116.5 232.1,116.8 234,116.8 236,115.7 238,118.2 240,119.5 242,120.5 243.9,120.2 245.9,121.6 247.9,119.9 249.9,118.6 251.9,121.6 253.9,117.8 255.8,121.4 257.8,118.1 259.8,120.4 261.8,116.4 263.8,121.5 265.7,119.7 267.7,118.4 269.7,121.6 271.7,121.5 273.7,120.3 275.7,119 277.6,120.3 279.6,120.2 281.6,121.6 283.6,121.6 285.6,119.5 287.6,119.7 289.5,119.8 291.5,118.4 293.5,119.8 295.5,120.7 297.5,121.6 299.4,121.6 301.4,119.6 303.4,121.6 305.4,120.3 307.4,121.6 309.4,121 311.3,121.6 313.3,119.5 315.3,119.8" fill="none" stroke="#f81438" stroke-width="1.15" stroke-linejoin="round"/>
<polyline points="37.3,120.3 38.2,120.3 39.2,120.3 40.1,120.3 41,120.3 41.9,120.3 42.9,120.3 43.8,120.3 44.7,120.3 45.7,120.3 46.6,120.3 47.5,120.3 48.5,120.3 49.4,120.3 50.3,120.3 51.2,120.3 52.2,120.3 53.1,120.3 54,120.3 55,120.3 55.9,120.3 56.8,120.3 57.8,120.3 58.7,120.3 59.6,120.3 60.5,120.3 61.5,120.3 62.4,120.3 63.3,120.3 64.3,120.3 65.2,120.3 66.1,120.3 67.1,120.3 68,120.3 68.9,120.3 69.8,120.3 70.8,120.3 71.7,120.3 72.6,120.3 73.6,120.3 74.5,120.3 75.4,120.3 76.4,120.3 77.3,120.3 78.2,120.3 79.1,120.3 80.1,120.3 81,120.3 81.9,120.3 82.9,120.3 83.8,120.3 84.7,120.3 85.6,120.3 86.6,120.3 87.5,120.3 88.4,120.3 89.4,120.3 90.3,120.3 91.2,120.3 92.2,120.3 93.1,120.3 94,120.3 94.9,120.3 95.9,120.3 96.8,120.3 97.7,120.3 98.7,120.3 99.6,120.3 100.5,120.3 101.5,120.3 102.4,120.3 103.3,120.3 104.2,120.3 105.2,120.3 106.1,120.3 107,120.3 108,120.3 108.9,120.3 109.8,120.3 110.8,120.3 111.7,120.3 112.6,120.3 113.5,120.3 114.5,120.3 115.4,120.3 116.3,120.3 117.3,120.3 118.2,120.3 119.1,120.3 120,120.3 121,120.3 121.9,120.3 122.8,120.3 123.8,120.3 124.7,120.3 125.6,120.3 126.6,120.3 127.5,120.3 128.4,120.3 129.3,120.3 130.3,120.3 131.2,120.3 132.1,120.4 133.1,120.4 134,120.4 134.9,120.4 135.9,120.4 136.8,120.4 137.7,120.4 138.6,120.4 139.6,120.4 140.5,120.4 141.4,120.4 142.4,120.4 143.3,120.4 144.2,120.4 145.2,120.4 146.1,120.4 147,120.4 147.9,120.4 148.9,120.4 149.8,120.4 150.7,120.4 151.7,120.4 152.6,120.4 153.5,120.4 154.5,120.4 155.4,120.4 156.3,120.4 157.2,120.4 158.2,120.4 159.1,120.4 160,120.4 161,120.5 161.9,120.5 162.8,120.5 163.7,120.5 164.7,120.5 165.6,120.5 166.5,120.5 167.5,120.5 168.4,120.5 169.3,120.5 170.3,120.5 171.2,120.5 172.1,120.5 173,120.5 174,120.5 174.9,120.6 175.8,120.6 176.8,120.6 177.7,120.6 178.6,120.6 179.6,120.6 180.5,120.6 181.4,120.6 182.3,120.7 183.3,120.7 184.2,120.7 185.1,120.7 186.1,120.7 187,120.8 187.9,120.8 188.9,120.8 189.8,120.8 190.7,120.8 191.6,120.9 192.6,120.9 193.5,120.9 194.4,120.9 195.4,121 196.3,121 197.2,121 198.1,121 199.1,121.1 200,121.1 200.9,121.1 201.9,121.1 202.8,121.2 203.7,121.2 204.7,121.2 205.6,121.2 206.5,121.2 207.4,121.3 208.4,121.3 209.3,121.3 210.2,121.3 211.2,121.3 212.1,121.3 213,121.3 214,121.4 214.9,121.4 215.8,121.4 216.7,121.4 217.7,121.4 218.6,121.4 219.5,121.4 220.5,121.4 221.4,121.4 222.3,121.4 223.3,121.4 224.2,121.4 225.1,121.4 226,121.4 227,121.4 227.9,121.4 228.8,121.4 229.8,121.5 230.7,121.5 231.6,121.5 232.6,121.5 233.5,121.5 234.4,121.5 235.3,121.5 236.3,121.5 237.2,121.5 238.1,121.5 239.1,121.5 240,121.5 240.9,121.5 241.8,121.5 242.8,121.5 243.7,121.5 244.6,121.5 245.6,121.5 246.5,121.5 247.4,121.5 248.4,121.5 249.3,121.5 250.2,121.5 251.1,121.5 252.1,121.5 253,121.5 253.9,121.5 254.9,121.5 255.8,121.5 256.7,121.5 257.7,121.5 258.6,121.5 259.5,121.5 260.4,121.5 261.4,121.5 262.3,121.5 263.2,121.5 264.2,121.5 265.1,121.5 266,121.5 267,121.5 267.9,121.5 268.8,121.5 269.7,121.5 270.7,121.5 271.6,121.5 272.5,121.5 273.5,121.5 274.4,121.5 275.3,121.5 276.2,121.5 277.2,121.5 278.1,121.5 279,121.5 280,121.5 280.9,121.5 281.8,121.5 282.8,121.5 283.7,121.5 284.6,121.5 285.5,121.5 286.5,121.5 287.4,121.5 288.3,121.5 289.3,121.5 290.2,121.5 291.1,121.5 292.1,121.5 293,121.5 293.9,121.5 294.8,121.5 295.8,121.5 296.7,121.5 297.6,121.5 298.6,121.5 299.5,121.5 300.4,121.5 301.4,121.5 302.3,121.5 303.2,121.5 304.1,121.5 305.1,121.5 306,121.5 306.9,121.5 307.9,121.5 308.8,121.5 309.7,121.5 310.7,121.5 311.6,121.5 312.5,121.5 313.4,121.5 314.4,121.5 315.3,121.5" fill="none" stroke="#b0b0b0" stroke-width="1.4"/>
<text x="311.2" y="119.0" font-size="12" text-anchor="end">623</text>
<polygon points="90.3,182.5 91.2,182.5 92.2,182.4 93.1,182.4 94,182.4 94.9,182.4 95.9,182.4 96.8,182.4 97.7,182.4 98.7,182.3 99.6,182.3 100.5,182.3 101.5,182.3 102.4,182.2 103.3,182.2 104.2,182.2 105.2,182.1 106.1,182.1 107,182.1 108,182 108.9,182 109.8,181.9 110.8,181.8 111.7,181.8 112.6,181.7 113.5,181.6 114.5,181.6 115.4,181.5 116.3,181.4 117.3,181.3 118.2,181.2 119.1,181.1 120,181 121,180.9 121.9,180.8 122.8,180.7 123.8,180.6 124.7,180.5 125.6,180.4 126.6,180.3 127.5,180.2 128.4,180 129.3,179.9 130.3,179.8 131.2,179.7 132.1,179.6 133.1,179.4 134,179.3 134.9,179.2 135.9,179.1 136.8,179 137.7,178.8 138.6,178.7 139.6,178.6 140.5,178.5 141.4,178.4 142.4,178.3 143.3,178.2 144.2,178.1 145.2,178 146.1,177.9 147,177.8 147.9,177.7 148.9,177.6 149.8,177.6 150.7,177.5 151.7,177.4 152.6,177.4 153.5,177.3 154.5,177.2 155.4,177.2 156.3,177.1 157.2,177.1 158.2,177.1 159.1,177 160,177 161,177 161.9,177 162.8,176.9 163.7,176.9 164.7,176.9 165.6,176.9 166.5,176.9 167.5,176.9 168.4,176.9 169.3,176.9 170.3,176.9 171.2,176.9 172.1,176.9 173,177 174,177 174.9,177 175.8,177 176.8,177 177.7,177.1 178.6,177.1 179.6,177.1 180.5,177.2 181.4,177.2 182.3,177.2 183.3,177.3 184.2,177.3 185.1,177.4 186.1,177.4 187,177.5 187.9,177.5 188.9,177.6 189.8,177.6 190.7,177.7 191.6,177.8 192.6,177.8 193.5,177.9 194.4,178 195.4,178.1 196.3,178.2 197.2,178.3 198.1,178.4 199.1,178.5 200,178.6 200.9,178.7 201.9,178.8 202.8,178.9 203.7,179 204.7,179.1 205.6,179.2 206.5,179.4 207.4,179.5 208.4,179.6 209.3,179.7 210.2,179.9 211.2,180 212.1,180.1 213,180.2 214,180.4 214.9,180.5 215.8,180.6 216.7,180.8 217.7,180.9 218.6,181.1 219.5,181.2 220.5,181.3 221.4,181.5 222.3,181.6 223.3,181.7 224.2,181.9 225.1,182 226,182.1 227,182.3 227.9,182.4 228.8,182.5 229.8,182.7 230.7,182.8 231.6,182.9 232.6,183 233.5,183.1 234.4,183.2 235.3,183.4 236.3,183.5 237.2,183.6 238.1,183.7 239.1,183.7 240,183.8 240.9,183.9 241.8,184 242.8,184.1 243.7,184.2 244.6,184.2 245.6,184.3 246.5,184.3 247.4,184.4 248.4,184.5 249.3,184.5 250.2,184.5 251.1,184.6 252.1,184.6 253,184.7 253.9,184.7 254.9,184.7 255.8,184.8 256.7,184.8 257.7,184.8 258.6,184.8 259.5,184.8 260.4,184.9 261.4,184.9 262.3,184.9 263.2,184.9 264.2,184.9 265.1,184.9 266,184.9 266,185 265.1,185 264.2,185 263.2,185 262.3,185 261.4,185 260.4,185 259.5,185 258.6,185 257.7,185 256.7,185 255.8,185 254.9,185 253.9,185 253,185 252.1,185 251.1,185 250.2,185 249.3,185 248.4,185 247.4,185 246.5,185 245.6,185 244.6,184.9 243.7,184.9 242.8,184.9 241.8,184.9 240.9,184.9 240,184.9 239.1,184.9 238.1,184.9 237.2,184.9 236.3,184.9 235.3,184.9 234.4,184.9 233.5,184.9 232.6,184.9 231.6,184.9 230.7,184.9 229.8,184.9 228.8,184.9 227.9,184.9 227,184.9 226,184.9 225.1,184.9 224.2,184.8 223.3,184.8 222.3,184.8 221.4,184.8 220.5,184.8 219.5,184.8 218.6,184.8 217.7,184.8 216.7,184.7 215.8,184.7 214.9,184.7 214,184.7 213,184.7 212.1,184.6 211.2,184.6 210.2,184.6 209.3,184.5 208.4,184.5 207.4,184.5 206.5,184.4 205.6,184.4 204.7,184.4 203.7,184.3 202.8,184.3 201.9,184.2 200.9,184.2 200,184.1 199.1,184.1 198.1,184 197.2,184 196.3,183.9 195.4,183.9 194.4,183.8 193.5,183.8 192.6,183.7 191.6,183.7 190.7,183.6 189.8,183.6 188.9,183.5 187.9,183.5 187,183.4 186.1,183.4 185.1,183.3 184.2,183.3 183.3,183.3 182.3,183.2 181.4,183.2 180.5,183.2 179.6,183.1 178.6,183.1 177.7,183.1 176.8,183 175.8,183 174.9,183 174,183 173,182.9 172.1,182.9 171.2,182.9 170.3,182.9 169.3,182.9 168.4,182.9 167.5,182.9 166.5,182.8 165.6,182.8 164.7,182.8 163.7,182.8 162.8,182.8 161.9,182.8 161,182.8 160,182.8 159.1,182.8 158.2,182.7 157.2,182.7 156.3,182.7 155.4,182.7 154.5,182.7 153.5,182.7 152.6,182.7 151.7,182.7 150.7,182.7 149.8,182.7 148.9,182.7 147.9,182.7 147,182.7 146.1,182.7 145.2,182.6 144.2,182.6 143.3,182.6 142.4,182.6 141.4,182.6 140.5,182.6 139.6,182.6 138.6,182.6 137.7,182.6 136.8,182.6 135.9,182.6 134.9,182.6 134,182.6 133.1,182.6 132.1,182.6 131.2,182.6 130.3,182.6 129.3,182.6 128.4,182.6 127.5,182.6 126.6,182.6 125.6,182.6 124.7,182.6 123.8,182.6 122.8,182.6 121.9,182.5 121,182.5 120,182.5 119.1,182.5 118.2,182.5 117.3,182.5 116.3,182.5 115.4,182.5 114.5,182.5 113.5,182.5 112.6,182.5 111.7,182.5 110.8,182.5 109.8,182.5 108.9,182.5 108,182.5 107,182.5 106.1,182.5 105.2,182.5 104.2,182.5 103.3,182.5 102.4,182.5 101.5,182.5 100.5,182.5 99.6,182.5 98.7,182.5 97.7,182.5 96.8,182.5 95.9,182.5 94.9,182.5 94,182.5 93.1,182.5 92.2,182.5 91.2,182.5 90.3,182.5" fill="#f2b6d4" />
<polygon points="37.3,182.3 38.2,182.3 39.2,182.3 40.1,182.3 41,182.3 41.9,182.3 42.9,182.3 43.8,182.3 44.7,182.3 45.7,182.3 46.6,182.3 47.5,182.3 48.5,182.3 49.4,182.3 50.3,182.3 51.2,182.3 52.2,182.3 53.1,182.3 54,182.3 55,182.3 55.9,182.3 56.8,182.3 57.8,182.3 58.7,182.3 59.6,182.3 60.5,182.3 61.5,182.3 62.4,182.3 63.3,182.3 64.3,182.3 65.2,182.3 66.1,182.3 67.1,182.3 68,182.3 68.9,182.3 69.8,182.3 70.8,182.3 71.7,182.3 72.6,182.3 73.6,182.2 74.5,182.2 75.4,182.2 76.4,182.2 77.3,182.2 78.2,182.2 79.1,182.2 80.1,182.2 81,182.2 81.9,182.2 82.9,182.2 83.8,182.2 84.7,182.2 85.6,182.2 86.6,182.2 87.5,182.2 88.4,182.2 89.4,182.2 90.3,182.2 91.2,182.2 92.2,182.2 93.1,182.1 94,182.1 94.9,182.1 95.9,182.1 96.8,182.1 97.7,182.1 98.7,182.1 99.6,182.1 100.5,182.1 101.5,182.1 102.4,182.1 103.3,182.1 104.2,182.1 105.2,182.1 106.1,182 107,182 108,182 108.9,182 109.8,182 110.8,182 111.7,182 112.6,182 113.5,182 114.5,182 115.4,181.9 116.3,181.9 117.3,181.9 118.2,181.9 119.1,181.9 120,181.9 121,181.9 121.9,181.9 122.8,181.8 123.8,181.8 124.7,181.8 125.6,181.8 126.6,181.8 127.5,181.8 128.4,181.7 129.3,181.7 130.3,181.7 131.2,181.7 132.1,181.7 133.1,181.6 134,181.6 134.9,181.6 135.9,181.6 136.8,181.5 137.7,181.5 138.6,181.5 139.6,181.5 140.5,181.4 141.4,181.4 142.4,181.3 143.3,181.3 144.2,181.3 145.2,181.2 146.1,181.2 147,181.1 147.9,181 148.9,181 149.8,180.9 150.7,180.8 151.7,180.7 152.6,180.6 153.5,180.5 154.5,180.3 155.4,180.2 156.3,180 157.2,179.8 158.2,179.6 159.1,179.3 160,179 161,178.7 161.9,178.3 162.8,177.9 163.7,177.4 164.7,176.8 165.6,176.2 166.5,175.6 167.5,174.8 168.4,174 169.3,173.1 170.3,172.2 171.2,171.1 172.1,169.9 173,168.7 174,167.3 174.9,165.9 175.8,164.4 176.8,162.8 177.7,161.1 178.6,159.3 179.6,157.5 180.5,155.6 181.4,153.7 182.3,151.7 183.3,149.8 184.2,147.8 185.1,145.9 186.1,144 187,142.1 187.9,140.4 188.9,138.8 189.8,137.3 190.7,136 191.6,134.9 192.6,134 193.5,133.4 194.4,133 195.4,132.9 196.3,133 197.2,133.4 198.1,134.1 199.1,135 200,136.2 200.9,137.5 201.9,139 202.8,140.7 203.7,142.5 204.7,144.4 205.6,146.4 206.5,148.4 207.4,150.4 208.4,152.4 209.3,154.5 210.2,156.5 211.2,158.4 212.1,160.3 213,162.2 214,163.9 214.9,165.6 215.8,167.2 216.7,168.7 217.7,170.1 218.6,171.4 219.5,172.6 220.5,173.7 221.4,174.8 222.3,175.7 223.3,176.6 224.2,177.4 225.1,178.1 226,178.7 227,179.3 227.9,179.8 228.8,180.3 229.8,180.7 230.7,181 231.6,181.4 232.6,181.6 233.5,181.9 234.4,182.1 235.3,182.3 236.3,182.5 237.2,182.6 238.1,182.8 239.1,182.9 240,183 240.9,183.1 241.8,183.2 242.8,183.3 243.7,183.4 244.6,183.4 245.6,183.5 246.5,183.6 247.4,183.6 248.4,183.7 249.3,183.7 250.2,183.7 251.1,183.8 252.1,183.8 253,183.9 253.9,183.9 254.9,183.9 255.8,184 256.7,184 257.7,184 258.6,184 259.5,184.1 260.4,184.1 261.4,184.1 262.3,184.1 263.2,184.2 264.2,184.2 265.1,184.2 266,184.2 267,184.2 267.9,184.3 268.8,184.3 269.7,184.3 270.7,184.3 271.6,184.3 272.5,184.3 273.5,184.4 274.4,184.4 275.3,184.4 276.2,184.4 277.2,184.4 278.1,184.4 279,184.4 280,184.5 280.9,184.5 281.8,184.5 282.8,184.5 283.7,184.5 284.6,184.5 285.5,184.5 286.5,184.5 287.4,184.5 288.3,184.5 289.3,184.6 290.2,184.6 291.1,184.6 292.1,184.6 293,184.6 293.9,184.6 294.8,184.6 295.8,184.6 296.7,184.6 297.6,184.6 298.6,184.6 299.5,184.6 300.4,184.6 301.4,184.7 302.3,184.7 303.2,184.7 304.1,184.7 305.1,184.7 306,184.7 306.9,184.7 307.9,184.7 308.8,184.7 309.7,184.7 310.7,184.7 311.6,184.7 312.5,184.7 313.4,184.7 314.4,184.7 315.3,184.7 315.3,185 314.4,185 313.4,185 312.5,185 311.6,185 310.7,185 309.7,185 308.8,185 307.9,185 306.9,185 306,185 305.1,185 304.1,185 303.2,185 302.3,185 301.4,185 300.4,185 299.5,185 298.6,185 297.6,185 296.7,185 295.8,185 294.8,185 293.9,185 293,185 292.1,185 291.1,185 290.2,185 289.3,185 288.3,185 287.4,185 286.5,185 285.5,185 284.6,185 283.7,185 282.8,185 281.8,185 280.9,185 280,185 279,185 278.1,185 277.2,185 276.2,185 275.3,185 274.4,185 273.5,185 272.5,185 271.6,185 270.7,185 269.7,185 268.8,185 267.9,185 267,185 266,185 265.1,185 264.2,185 263.2,185 262.3,185 261.4,185 260.4,185 259.5,185 258.6,185 257.7,185 256.7,185 255.8,185 254.9,185 253.9,185 253,185 252.1,185 251.1,185 250.2,185 249.3,185 248.4,185 247.4,185 246.5,185 245.6,185 244.6,184.9 243.7,184.9 242.8,184.9 241.8,184.9 240.9,184.9 240,184.9 239.1,184.9 238.1,184.9 237.2,184.9 236.3,184.9 235.3,184.9 234.4,184.9 233.5,184.9 232.6,184.9 231.6,184.9 230.7,184.9 229.8,184.9 228.8,184.9 227.9,184.9 227,184.9 226,184.9 225.1,184.9 224.2,184.8 223.3,184.8 222.3,184.8 221.4,184.8 220.5,184.8 219.5,184.8 218.6,184.8 217.7,184.8 216.7,184.7 215.8,184.7 214.9,184.7 214,184.7 213,184.7 212.1,184.6 211.2,184.6 210.2,184.6 209.3,184.5 208.4,184.5 207.4,184.5 206.5,184.4 205.6,184.4 204.7,184.4 203.7,184.3 202.8,184.3 201.9,184.2 200.9,184.2 200,184.1 199.1,184.1 198.1,184 197.2,184 196.3,183.9 195.4,183.9 194.4,183.8 193.5,183.8 192.6,183.7 191.6,183.7 190.7,183.6 189.8,183.6 188.9,183.5 187.9,183.5 187,183.4 186.1,183.4 185.1,183.3 184.2,183.3 183.3,183.3 182.3,183.2 181.4,183.2 180.5,183.2 179.6,183.1 178.6,183.1 177.7,183.1 176.8,183 175.8,183 174.9,183 174,183 173,182.9 172.1,182.9 171.2,182.9 170.3,182.9 169.3,182.9 168.4,182.9 167.5,182.9 166.5,182.8 165.6,182.8 164.7,182.8 163.7,182.8 162.8,182.8 161.9,182.8 161,182.8 160,182.8 159.1,182.8 158.2,182.7 157.2,182.7 156.3,182.7 155.4,182.7 154.5,182.7 153.5,182.7 152.6,182.7 151.7,182.7 150.7,182.7 149.8,182.7 148.9,182.7 147.9,182.7 147,182.7 146.1,182.7 145.2,182.6 144.2,182.6 143.3,182.6 142.4,182.6 141.4,182.6 140.5,182.6 139.6,182.6 138.6,182.6 137.7,182.6 136.8,182.6 135.9,182.6 134.9,182.6 134,182.6 133.1,182.6 132.1,182.6 131.2,182.6 130.3,182.6 129.3,182.6 128.4,182.6 127.5,182.6 126.6,182.6 125.6,182.6 124.7,182.6 123.8,182.6 122.8,182.6 121.9,182.5 121,182.5 120,182.5 119.1,182.5 118.2,182.5 117.3,182.5 116.3,182.5 115.4,182.5 114.5,182.5 113.5,182.5 112.6,182.5 111.7,182.5 110.8,182.5 109.8,182.5 108.9,182.5 108,182.5 107,182.5 106.1,182.5 105.2,182.5 104.2,182.5 103.3,182.5 102.4,182.5 101.5,182.5 100.5,182.5 99.6,182.5 98.7,182.5 97.7,182.5 96.8,182.5 95.9,182.5 94.9,182.5 94,182.5 93.1,182.5 92.2,182.5 91.2,182.5 90.3,182.5 89.4,182.5 88.4,182.5 87.5,182.5 86.6,182.5 85.6,182.5 84.7,182.5 83.8,182.5 82.9,182.5 81.9,182.5 81,182.5 80.1,182.5 79.1,182.5 78.2,182.5 77.3,182.5 76.4,182.5 75.4,182.5 74.5,182.5 73.6,182.5 72.6,182.5 71.7,182.5 70.8,182.5 69.8,182.5 68.9,182.5 68,182.5 67.1,182.5 66.1,182.5 65.2,182.5 64.3,182.5 63.3,182.5 62.4,182.5 61.5,182.5 60.5,182.5 59.6,182.5 58.7,182.5 57.8,182.5 56.8,182.5 55.9,182.5 55,182.5 54,182.5 53.1,182.5 52.2,182.5 51.2,182.5 50.3,182.5 49.4,182.5 48.5,182.5 47.5,182.5 46.6,182.5 45.7,182.5 44.7,182.5 43.8,182.5 42.9,182.5 41.9,182.5 41,182.5 40.1,182.5 39.2,182.5 38.2,182.5 37.3,182.5" fill="#b6f4a2" />
<polygon points="90.3,182.5 91.2,182.5 92.2,182.4 93.1,182.4 94,182.4 94.9,182.4 95.9,182.4 96.8,182.4 97.7,182.4 98.7,182.3 99.6,182.3 100.5,182.3 101.5,182.3 102.4,182.2 103.3,182.2 104.2,182.2 105.2,182.1 106.1,182.1 107,182.1 108,182 108.9,182 109.8,182 110.8,182 111.7,182 112.6,182 113.5,182 114.5,182 115.4,181.9 116.3,181.9 117.3,181.9 118.2,181.9 119.1,181.9 120,181.9 121,181.9 121.9,181.9 122.8,181.8 123.8,181.8 124.7,181.8 125.6,181.8 126.6,181.8 127.5,181.8 128.4,181.7 129.3,181.7 130.3,181.7 131.2,181.7 132.1,181.7 133.1,181.6 134,181.6 134.9,181.6 135.9,181.6 136.8,181.5 137.7,181.5 138.6,181.5 139.6,181.5 140.5,181.4 141.4,181.4 142.4,181.3 143.3,181.3 144.2,181.3 145.2,181.2 146.1,181.2 147,181.1 147.9,181 148.9,181 149.8,180.9 150.7,180.8 151.7,180.7 152.6,180.6 153.5,180.5 154.5,180.3 155.4,180.2 156.3,180 157.2,179.8 158.2,179.6 159.1,179.3 160,179 161,178.7 161.9,178.3 162.8,177.9 163.7,177.4 164.7,176.9 165.6,176.9 166.5,176.9 167.5,176.9 168.4,176.9 169.3,176.9 170.3,176.9 171.2,176.9 172.1,176.9 173,177 174,177 174.9,177 175.8,177 176.8,177 177.7,177.1 178.6,177.1 179.6,177.1 180.5,177.2 181.4,177.2 182.3,177.2 183.3,177.3 184.2,177.3 185.1,177.4 186.1,177.4 187,177.5 187.9,177.5 188.9,177.6 189.8,177.6 190.7,177.7 191.6,177.8 192.6,177.8 193.5,177.9 194.4,178 195.4,178.1 196.3,178.2 197.2,178.3 198.1,178.4 199.1,178.5 200,178.6 200.9,178.7 201.9,178.8 202.8,178.9 203.7,179 204.7,179.1 205.6,179.2 206.5,179.4 207.4,179.5 208.4,179.6 209.3,179.7 210.2,179.9 211.2,180 212.1,180.1 213,180.2 214,180.4 214.9,180.5 215.8,180.6 216.7,180.8 217.7,180.9 218.6,181.1 219.5,181.2 220.5,181.3 221.4,181.5 222.3,181.6 223.3,181.7 224.2,181.9 225.1,182 226,182.1 227,182.3 227.9,182.4 228.8,182.5 229.8,182.7 230.7,182.8 231.6,182.9 232.6,183 233.5,183.1 234.4,183.2 235.3,183.4 236.3,183.5 237.2,183.6 238.1,183.7 239.1,183.7 240,183.8 240.9,183.9 241.8,184 242.8,184.1 243.7,184.2 244.6,184.2 245.6,184.3 246.5,184.3 247.4,184.4 248.4,184.5 249.3,184.5 250.2,184.5 251.1,184.6 252.1,184.6 253,184.7 253.9,184.7 254.9,184.7 255.8,184.8 256.7,184.8 257.7,184.8 258.6,184.8 259.5,184.8 260.4,184.9 261.4,184.9 262.3,184.9 263.2,184.9 264.2,184.9 265.1,184.9 266,184.9 266,185 265.1,185 264.2,185 263.2,185 262.3,185 261.4,185 260.4,185 259.5,185 258.6,185 257.7,185 256.7,185 255.8,185 254.9,185 253.9,185 253,185 252.1,185 251.1,185 250.2,185 249.3,185 248.4,185 247.4,185 246.5,185 245.6,185 244.6,184.9 243.7,184.9 242.8,184.9 241.8,184.9 240.9,184.9 240,184.9 239.1,184.9 238.1,184.9 237.2,184.9 236.3,184.9 235.3,184.9 234.4,184.9 233.5,184.9 232.6,184.9 231.6,184.9 230.7,184.9 229.8,184.9 228.8,184.9 227.9,184.9 227,184.9 226,184.9 225.1,184.9 224.2,184.8 223.3,184.8 222.3,184.8 221.4,184.8 220.5,184.8 219.5,184.8 218.6,184.8 217.7,184.8 216.7,184.7 215.8,184.7 214.9,184.7 214,184.7 213,184.7 212.1,184.6 211.2,184.6 210.2,184.6 209.3,184.5 208.4,184.5 207.4,184.5 206.5,184.4 205.6,184.4 204.7,184.4 203.7,184.3 202.8,184.3 201.9,184.2 200.9,184.2 200,184.1 199.1,184.1 198.1,184 197.2,184 196.3,183.9 195.4,183.9 194.4,183.8 193.5,183.8 192.6,183.7 191.6,183.7 190.7,183.6 189.8,183.6 188.9,183.5 187.9,183.5 187,183.4 186.1,183.4 185.1,183.3 184.2,183.3 183.3,183.3 182.3,183.2 181.4,183.2 180.5,183.2 179.6,183.1 178.6,183.1 177.7,183.1 176.8,183 175.8,183 174.9,183 174,183 173,182.9 172.1,182.9 171.2,182.9 170.3,182.9 169.3,182.9 168.4,182.9 167.5,182.9 166.5,182.8 165.6,182.8 164.7,182.8 163.7,182.8 162.8,182.8 161.9,182.8 161,182.8 160,182.8 159.1,182.8 158.2,182.7 157.2,182.7 156.3,182.7 155.4,182.7 154.5,182.7 153.5,182.7 152.6,182.7 151.7,182.7 150.7,182.7 149.8,182.7 148.9,182.7 147.9,182.7 147,182.7 146.1,182.7 145.2,182.6 144.2,182.6 143.3,182.6 142.4,182.6 141.4,182.6 140.5,182.6 139.6,182.6 138.6,182.6 137.7,182.6 136.8,182.6 135.9,182.6 134.9,182.6 134,182.6 133.1,182.6 132.1,182.6 131.2,182.6 130.3,182.6 129.3,182.6 128.4,182.6 127.5,182.6 126.6,182.6 125.6,182.6 124.7,182.6 123.8,182.6 122.8,182.6 121.9,182.5 121,182.5 120,182.5 119.1,182.5 118.2,182.5 117.3,182.5 116.3,182.5 115.4,182.5 114.5,182.5 113.5,182.5 112.6,182.5 111.7,182.5 110.8,182.5 109.8,182.5 108.9,182.5 108,182.5 107,182.5 106.1,182.5 105.2,182.5 104.2,182.5 103.3,182.5 102.4,182.5 101.5,182.5 100.5,182.5 99.6,182.5 98.7,182.5 97.7,182.5 96.8,182.5 95.9,182.5 94.9,182.5 94,182.5 93.1,182.5 92.2,182.5 91.2,182.5 90.3,182.5" fill="#98f066" />
<polyline points="37.8,182.6 39.8,177.6 41.8,182.6 43.7,180.9 45.7,181 47.7,181.3 49.7,178.1 51.7,181.2 53.7,180 55.6,182.6 57.6,181.8 59.6,180.7 61.6,180.8 63.6,180.1 65.5,179.3 67.5,180.5 69.5,182 71.5,180.7 73.5,182.6 75.5,180.7 77.4,181.1 79.4,182.6 81.4,182 83.4,180.1 85.4,180.6 87.4,181.9 89.3,182.6 91.3,180.4 93.3,180.4 95.3,182.6 97.3,179.2 99.2,180.2 101.2,182.2 103.2,181.6 105.2,180.7 107.2,181.6 109.2,175.4 111.1,182 113.1,178.4 115.1,177 117.1,180.2 119.1,180.8 121,178.6 123,177.2 125,178.8 127,178.3 129,180.5 131,179 132.9,177.7 134.9,179 136.9,176.5 138.9,175.1 140.9,177.1 142.9,176.9 144.8,176 146.8,175.3 148.8,176 150.8,173.4 152.8,175.8 154.7,175.2 156.7,173 158.7,173.8 160.7,172.1 162.7,172.6 164.7,169.3 166.6,169.1 168.6,169.3 170.6,168.2 172.6,163.6 174.6,162.6 176.6,160.1 178.5,155.1 180.5,151.8 182.5,144.2 184.5,143.2 186.5,138.1 188.4,134.4 190.4,130.5 192.4,130.5 194.4,129.4 196.4,129.3 198.4,130.6 200.3,134.8 202.3,136 204.3,140.4 206.3,145.7 208.3,149.2 210.2,152.8 212.2,158.4 214.2,160.2 216.2,166.1 218.2,169.9 220.2,172.5 222.1,174.5 224.1,174.7 226.1,176 228.1,179 230.1,182.3 232.1,182.2 234,181.8 236,181.2 238,182.6 240,182 242,184 243.9,181.4 245.9,183.3 247.9,183 249.9,184.3 251.9,183.9 253.9,185.1 255.8,185.1 257.8,185.1 259.8,180.4 261.8,183.4 263.8,183 265.7,185.1 267.7,180.2 269.7,185.1 271.7,185.1 273.7,182 275.7,182.6 277.6,183 279.6,184.5 281.6,185.1 283.6,185.1 285.6,184.1 287.6,185.1 289.5,184.8 291.5,185.1 293.5,185.1 295.5,185.1 297.5,182.7 299.4,184.3 301.4,183.2 303.4,185.1 305.4,185.1 307.4,184.2 309.4,183.9 311.3,185.1 313.3,183.5 315.3,183.1" fill="none" stroke="#f81438" stroke-width="1.15" stroke-linejoin="round"/>
<polyline points="37.3,182.5 38.2,182.5 39.2,182.5 40.1,182.5 41,182.5 41.9,182.5 42.9,182.5 43.8,182.5 44.7,182.5 45.7,182.5 46.6,182.5 47.5,182.5 48.5,182.5 49.4,182.5 50.3,182.5 51.2,182.5 52.2,182.5 53.1,182.5 54,182.5 55,182.5 55.9,182.5 56.8,182.5 57.8,182.5 58.7,182.5 59.6,182.5 60.5,182.5 61.5,182.5 62.4,182.5 63.3,182.5 64.3,182.5 65.2,182.5 66.1,182.5 67.1,182.5 68,182.5 68.9,182.5 69.8,182.5 70.8,182.5 71.7,182.5 72.6,182.5 73.6,182.5 74.5,182.5 75.4,182.5 76.4,182.5 77.3,182.5 78.2,182.5 79.1,182.5 80.1,182.5 81,182.5 81.9,182.5 82.9,182.5 83.8,182.5 84.7,182.5 85.6,182.5 86.6,182.5 87.5,182.5 88.4,182.5 89.4,182.5 90.3,182.5 91.2,182.5 92.2,182.5 93.1,182.5 94,182.5 94.9,182.5 95.9,182.5 96.8,182.5 97.7,182.5 98.7,182.5 99.6,182.5 100.5,182.5 101.5,182.5 102.4,182.5 103.3,182.5 104.2,182.5 105.2,182.5 106.1,182.5 107,182.5 108,182.5 108.9,182.5 109.8,182.5 110.8,182.5 111.7,182.5 112.6,182.5 113.5,182.5 114.5,182.5 115.4,182.5 116.3,182.5 117.3,182.5 118.2,182.5 119.1,182.5 120,182.5 121,182.5 121.9,182.5 122.8,182.6 123.8,182.6 124.7,182.6 125.6,182.6 126.6,182.6 127.5,182.6 128.4,182.6 129.3,182.6 130.3,182.6 131.2,182.6 132.1,182.6 133.1,182.6 134,182.6 134.9,182.6 135.9,182.6 136.8,182.6 137.7,182.6 138.6,182.6 139.6,182.6 140.5,182.6 141.4,182.6 142.4,182.6 143.3,182.6 144.2,182.6 145.2,182.6 146.1,182.7 147,182.7 147.9,182.7 148.9,182.7 149.8,182.7 150.7,182.7 151.7,182.7 152.6,182.7 153.5,182.7 154.5,182.7 155.4,182.7 156.3,182.7 157.2,182.7 158.2,182.7 159.1,182.8 160,182.8 161,182.8 161.9,182.8 162.8,182.8 163.7,182.8 164.7,182.8 165.6,182.8 166.5,182.8 167.5,182.9 168.4,182.9 169.3,182.9 170.3,182.9 171.2,182.9 172.1,182.9 173,182.9 174,183 174.9,183 175.8,183 176.8,183 177.7,183.1 178.6,183.1 179.6,183.1 180.5,183.2 181.4,183.2 182.3,183.2 183.3,183.3 184.2,183.3 185.1,183.3 186.1,183.4 187,183.4 187.9,183.5 188.9,183.5 189.8,183.6 190.7,183.6 191.6,183.7 192.6,183.7 193.5,183.8 194.4,183.8 195.4,183.9 196.3,183.9 197.2,184 198.1,184 199.1,184.1 200,184.1 200.9,184.2 201.9,184.2 202.8,184.3 203.7,184.3 204.7,184.4 205.6,184.4 206.5,184.4 207.4,184.5 208.4,184.5 209.3,184.5 210.2,184.6 211.2,184.6 212.1,184.6 213,184.7 214,184.7 214.9,184.7 215.8,184.7 216.7,184.7 217.7,184.8 218.6,184.8 219.5,184.8 220.5,184.8 221.4,184.8 222.3,184.8 223.3,184.8 224.2,184.8 225.1,184.9 226,184.9 227,184.9 227.9,184.9 228.8,184.9 229.8,184.9 230.7,184.9 231.6,184.9 232.6,184.9 233.5,184.9 234.4,184.9 235.3,184.9 236.3,184.9 237.2,184.9 238.1,184.9 239.1,184.9 240,184.9 240.9,184.9 241.8,184.9 242.8,184.9 243.7,184.9 244.6,184.9 245.6,185 246.5,185 247.4,185 248.4,185 249.3,185 250.2,185 251.1,185 252.1,185 253,185 253.9,185 254.9,185 255.8,185 256.7,185 257.7,185 258.6,185 259.5,185 260.4,185 261.4,185 262.3,185 263.2,185 264.2,185 265.1,185 266,185 267,185 267.9,185 268.8,185 269.7,185 270.7,185 271.6,185 272.5,185 273.5,185 274.4,185 275.3,185 276.2,185 277.2,185 278.1,185 279,185 280,185 280.9,185 281.8,185 282.8,185 283.7,185 284.6,185 285.5,185 286.5,185 287.4,185 288.3,185 289.3,185 290.2,185 291.1,185 292.1,185 293,185 293.9,185 294.8,185 295.8,185 296.7,185 297.6,185 298.6,185 299.5,185 300.4,185 301.4,185 302.3,185 303.2,185 304.1,185 305.1,185 306,185 306.9,185 307.9,185 308.8,185 309.7,185 310.7,185 311.6,185 312.5,185 313.4,185 314.4,185 315.3,185" fill="none" stroke="#b0b0b0" stroke-width="1.4"/>
<text x="311.2" y="175.0" font-size="12" text-anchor="end">673</text>
<polygon points="81.9,261.8 82.9,261.8 83.8,261.8 84.7,261.7 85.6,261.7 86.6,261.7 87.5,261.7 88.4,261.7 89.4,261.7 90.3,261.7 91.2,261.6 92.2,261.6 93.1,261.6 94,261.5 94.9,261.5 95.9,261.5 96.8,261.4 97.7,261.4 98.7,261.3 99.6,261.3 100.5,261.2 101.5,261.1 102.4,261.1 103.3,261 104.2,260.9 105.2,260.8 106.1,260.7 107,260.6 108,260.5 108.9,260.4 109.8,260.3 110.8,260.2 111.7,260 112.6,259.9 113.5,259.8 114.5,259.6 115.4,259.5 116.3,259.3 117.3,259.1 118.2,259 119.1,258.8 120,258.6 121,258.4 121.9,258.3 122.8,258.1 123.8,257.9 124.7,257.7 125.6,257.5 126.6,257.3 127.5,257.1 128.4,256.9 129.3,256.7 130.3,256.5 131.2,256.3 132.1,256.1 133.1,255.9 134,255.8 134.9,255.6 135.9,255.4 136.8,255.2 137.7,255 138.6,254.9 139.6,254.7 140.5,254.6 141.4,254.4 142.4,254.3 143.3,254.1 144.2,254 145.2,253.9 146.1,253.7 147,253.6 147.9,253.5 148.9,253.4 149.8,253.3 150.7,253.3 151.7,253.2 152.6,253.1 153.5,253 154.5,253 155.4,252.9 156.3,252.9 157.2,252.8 158.2,252.8 159.1,252.8 160,252.8 161,252.8 161.9,252.7 162.8,252.7 163.7,252.7 164.7,252.8 165.6,252.8 166.5,252.8 167.5,252.8 168.4,252.8 169.3,252.9 170.3,252.9 171.2,252.9 172.1,253 173,253 174,253.1 174.9,253.1 175.8,253.2 176.8,253.2 177.7,253.3 178.6,253.4 179.6,253.5 180.5,253.5 181.4,253.6 182.3,253.7 183.3,253.8 184.2,253.9 185.1,254.1 186.1,254.2 187,254.3 187.9,254.4 188.9,254.6 189.8,254.7 190.7,254.9 191.6,255 192.6,255.2 193.5,255.3 194.4,255.5 195.4,255.7 196.3,255.9 197.2,256 198.1,256.2 199.1,256.4 200,256.6 200.9,256.8 201.9,257 202.8,257.2 203.7,257.3 204.7,257.5 205.6,257.7 206.5,257.9 207.4,258.1 208.4,258.3 209.3,258.6 210.2,258.8 211.2,259 212.1,259.2 213,259.4 214,259.6 214.9,259.8 215.8,260 216.7,260.2 217.7,260.4 218.6,260.7 219.5,260.9 220.5,261.1 221.4,261.3 222.3,261.5 223.3,261.7 224.2,261.9 225.1,262.1 226,262.4 227,262.6 227.9,262.8 228.8,263 229.8,263.2 230.7,263.4 231.6,263.6 232.6,263.7 233.5,263.9 234.4,264.1 235.3,264.3 236.3,264.4 237.2,264.6 238.1,264.8 239.1,264.9 240,265.1 240.9,265.2 241.8,265.4 242.8,265.5 243.7,265.6 244.6,265.7 245.6,265.9 246.5,266 247.4,266.1 248.4,266.2 249.3,266.3 250.2,266.3 251.1,266.4 252.1,266.5 253,266.6 253.9,266.6 254.9,266.7 255.8,266.8 256.7,266.8 257.7,266.9 258.6,266.9 259.5,266.9 260.4,267 261.4,267 262.3,267 263.2,267.1 264.2,267.1 265.1,267.1 266,267.1 267,267.2 267.9,267.2 268.8,267.2 269.7,267.2 270.7,267.2 271.6,267.2 272.5,267.2 273.5,267.2 274.4,267.3 274.4,267.3 273.5,267.3 272.5,267.3 271.6,267.3 270.7,267.3 269.7,267.3 268.8,267.3 267.9,267.3 267,267.3 266,267.3 265.1,267.3 264.2,267.3 263.2,267.3 262.3,267.3 261.4,267.3 260.4,267.3 259.5,267.3 258.6,267.3 257.7,267.3 256.7,267.3 255.8,267.3 254.9,267.3 253.9,267.3 253,267.3 252.1,267.3 251.1,267.3 250.2,267.3 249.3,267.3 248.4,267.3 247.4,267.3 246.5,267.3 245.6,267.3 244.6,267.3 243.7,267.3 242.8,267.3 241.8,267.3 240.9,267.3 240,267.3 239.1,267.3 238.1,267.2 237.2,267.2 236.3,267.2 235.3,267.2 234.4,267.2 233.5,267.2 232.6,267.2 231.6,267.2 230.7,267.2 229.8,267.2 228.8,267.2 227.9,267.2 227,267.2 226,267.1 225.1,267.1 224.2,267.1 223.3,267.1 222.3,267.1 221.4,267.1 220.5,267 219.5,267 218.6,267 217.7,266.9 216.7,266.9 215.8,266.9 214.9,266.8 214,266.8 213,266.8 212.1,266.7 211.2,266.7 210.2,266.6 209.3,266.5 208.4,266.5 207.4,266.4 206.5,266.3 205.6,266.3 204.7,266.2 203.7,266.1 202.8,266 201.9,265.9 200.9,265.8 200,265.8 199.1,265.7 198.1,265.6 197.2,265.4 196.3,265.3 195.4,265.2 194.4,265.1 193.5,265 192.6,264.9 191.6,264.8 190.7,264.7 189.8,264.5 188.9,264.4 187.9,264.3 187,264.2 186.1,264.1 185.1,264 184.2,263.9 183.3,263.8 182.3,263.7 181.4,263.6 180.5,263.5 179.6,263.5 178.6,263.4 177.7,263.3 176.8,263.2 175.8,263.2 174.9,263.1 174,263.1 173,263 172.1,263 171.2,262.9 170.3,262.9 169.3,262.8 168.4,262.8 167.5,262.8 166.5,262.7 165.6,262.7 164.7,262.7 163.7,262.6 162.8,262.6 161.9,262.6 161,262.6 160,262.5 159.1,262.5 158.2,262.5 157.2,262.5 156.3,262.5 155.4,262.4 154.5,262.4 153.5,262.4 152.6,262.4 151.7,262.4 150.7,262.3 149.8,262.3 148.9,262.3 147.9,262.3 147,262.3 146.1,262.3 145.2,262.2 144.2,262.2 143.3,262.2 142.4,262.2 141.4,262.2 140.5,262.2 139.6,262.1 138.6,262.1 137.7,262.1 136.8,262.1 135.9,262.1 134.9,262.1 134,262.1 133.1,262 132.1,262 131.2,262 130.3,262 129.3,262 128.4,262 127.5,262 126.6,262 125.6,262 124.7,262 123.8,261.9 122.8,261.9 121.9,261.9 121,261.9 120,261.9 119.1,261.9 118.2,261.9 117.3,261.9 116.3,261.9 115.4,261.9 114.5,261.9 113.5,261.9 112.6,261.9 111.7,261.9 110.8,261.9 109.8,261.9 108.9,261.9 108,261.9 107,261.9 106.1,261.9 105.2,261.8 104.2,261.8 103.3,261.8 102.4,261.8 101.5,261.8 100.5,261.8 99.6,261.8 98.7,261.8 97.7,261.8 96.8,261.8 95.9,261.8 94.9,261.8 94,261.8 93.1,261.8 92.2,261.8 91.2,261.8 90.3,261.8 89.4,261.8 88.4,261.8 87.5,261.8 86.6,261.8 85.6,261.8 84.7,261.8 83.8,261.8 82.9,261.8 81.9,261.8" fill="#f2b6d4" />
<polygon points="37.3,261.7 38.2,261.7 39.2,261.7 40.1,261.6 41,261.6 41.9,261.6 42.9,261.6 43.8,261.6 44.7,261.6 45.7,261.6 46.6,261.6 47.5,261.6 48.5,261.6 49.4,261.6 50.3,261.6 51.2,261.6 52.2,261.6 53.1,261.6 54,261.6 55,261.6 55.9,261.6 56.8,261.6 57.8,261.6 58.7,261.6 59.6,261.6 60.5,261.6 61.5,261.6 62.4,261.6 63.3,261.6 64.3,261.6 65.2,261.6 66.1,261.6 67.1,261.6 68,261.6 68.9,261.6 69.8,261.6 70.8,261.6 71.7,261.6 72.6,261.6 73.6,261.6 74.5,261.6 75.4,261.6 76.4,261.6 77.3,261.6 78.2,261.5 79.1,261.5 80.1,261.5 81,261.5 81.9,261.5 82.9,261.5 83.8,261.5 84.7,261.5 85.6,261.5 86.6,261.5 87.5,261.5 88.4,261.5 89.4,261.5 90.3,261.5 91.2,261.5 92.2,261.5 93.1,261.5 94,261.5 94.9,261.5 95.9,261.5 96.8,261.4 97.7,261.4 98.7,261.4 99.6,261.4 100.5,261.4 101.5,261.4 102.4,261.4 103.3,261.4 104.2,261.4 105.2,261.4 106.1,261.4 107,261.4 108,261.4 108.9,261.4 109.8,261.4 110.8,261.3 111.7,261.3 112.6,261.3 113.5,261.3 114.5,261.3 115.4,261.3 116.3,261.3 117.3,261.3 118.2,261.3 119.1,261.3 120,261.3 121,261.3 121.9,261.2 122.8,261.2 123.8,261.2 124.7,261.2 125.6,261.2 126.6,261.2 127.5,261.2 128.4,261.2 129.3,261.1 130.3,261.1 131.2,261.1 132.1,261.1 133.1,261.1 134,261.1 134.9,261 135.9,261 136.8,261 137.7,261 138.6,261 139.6,260.9 140.5,260.9 141.4,260.9 142.4,260.8 143.3,260.8 144.2,260.8 145.2,260.7 146.1,260.7 147,260.6 147.9,260.6 148.9,260.5 149.8,260.4 150.7,260.4 151.7,260.3 152.6,260.2 153.5,260 154.5,259.9 155.4,259.7 156.3,259.5 157.2,259.3 158.2,259 159.1,258.7 160,258.4 161,258 161.9,257.5 162.8,257 163.7,256.4 164.7,255.7 165.6,254.9 166.5,254 167.5,253 168.4,251.8 169.3,250.6 170.3,249.2 171.2,247.7 172.1,246 173,244.2 174,242.3 174.9,240.2 175.8,238 176.8,235.7 177.7,233.3 178.6,230.8 179.6,228.3 180.5,225.7 181.4,223.1 182.3,220.5 183.3,218 184.2,215.6 185.1,213.4 186.1,211.3 187,209.5 187.9,207.9 188.9,206.7 189.8,205.8 190.7,205.3 191.6,205.3 192.6,205.5 193.5,206 194.4,206.7 195.4,207.6 196.3,208.7 197.2,210.1 198.1,211.6 199.1,213.2 200,215.1 200.9,217 201.9,219.1 202.8,221.2 203.7,223.5 204.7,225.7 205.6,228.1 206.5,230.4 207.4,232.7 208.4,235 209.3,237.3 210.2,239.5 211.2,241.6 212.1,243.7 213,245.7 214,247.6 214.9,249.4 215.8,251.1 216.7,252.7 217.7,254.2 218.6,255.6 219.5,256.8 220.5,258 221.4,259.1 222.3,260 223.3,260.9 224.2,261.7 225.1,262.4 226,263.1 227,263.6 227.9,264.2 228.8,264.6 229.8,265 230.7,265.3 231.6,265.6 232.6,265.9 233.5,266.1 234.4,266.3 235.3,266.4 236.3,266.6 237.2,266.7 238.1,266.8 239.1,266.9 240,267 240.9,267 241.8,267.1 242.8,267.1 243.7,267.1 244.6,267.2 245.6,267.2 246.5,267.2 247.4,267.2 248.4,267.2 248.4,267.3 247.4,267.3 246.5,267.3 245.6,267.3 244.6,267.3 243.7,267.3 242.8,267.3 241.8,267.3 240.9,267.3 240,267.3 239.1,267.3 238.1,267.2 237.2,267.2 236.3,267.2 235.3,267.2 234.4,267.2 233.5,267.2 232.6,267.2 231.6,267.2 230.7,267.2 229.8,267.2 228.8,267.2 227.9,267.2 227,267.2 226,267.1 225.1,267.1 224.2,267.1 223.3,267.1 222.3,267.1 221.4,267.1 220.5,267 219.5,267 218.6,267 217.7,266.9 216.7,266.9 215.8,266.9 214.9,266.8 214,266.8 213,266.8 212.1,266.7 211.2,266.7 210.2,266.6 209.3,266.5 208.4,266.5 207.4,266.4 206.5,266.3 205.6,266.3 204.7,266.2 203.7,266.1 202.8,266 201.9,265.9 200.9,265.8 200,265.8 199.1,265.7 198.1,265.6 197.2,265.4 196.3,265.3 195.4,265.2 194.4,265.1 193.5,265 192.6,264.9 191.6,264.8 190.7,264.7 189.8,264.5 188.9,264.4 187.9,264.3 187,264.2 186.1,264.1 185.1,264 184.2,263.9 183.3,263.8 182.3,263.7 181.4,263.6 180.5,263.5 179.6,263.5 178.6,263.4 177.7,263.3 176.8,263.2 175.8,263.2 174.9,263.1 174,263.1 173,263 172.1,263 171.2,262.9 170.3,262.9 169.3,262.8 168.4,262.8 167.5,262.8 166.5,262.7 165.6,262.7 164.7,262.7 163.7,262.6 162.8,262.6 161.9,262.6 161,262.6 160,262.5 159.1,262.5 158.2,262.5 157.2,262.5 156.3,262.5 155.4,262.4 154.5,262.4 153.5,262.4 152.6,262.4 151.7,262.4 150.7,262.3 149.8,262.3 148.9,262.3 147.9,262.3 147,262.3 146.1,262.3 145.2,262.2 144.2,262.2 143.3,262.2 142.4,262.2 141.4,262.2 140.5,262.2 139.6,262.1 138.6,262.1 137.7,262.1 136.8,262.1 135.9,262.1 134.9,262.1 134,262.1 133.1,262 132.1,262 131.2,262 130.3,262 129.3,262 128.4,262 127.5,262 126.6,262 125.6,262 124.7,262 123.8,261.9 122.8,261.9 121.9,261.9 121,261.9 120,261.9 119.1,261.9 118.2,261.9 117.3,261.9 116.3,261.9 115.4,261.9 114.5,261.9 113.5,261.9 112.6,261.9 111.7,261.9 110.8,261.9 109.8,261.9 108.9,261.9 108,261.9 107,261.9 106.1,261.9 105.2,261.8 104.2,261.8 103.3,261.8 102.4,261.8 101.5,261.8 100.5,261.8 99.6,261.8 98.7,261.8 97.7,261.8 96.8,261.8 95.9,261.8 94.9,261.8 94,261.8 93.1,261.8 92.2,261.8 91.2,261.8 90.3,261.8 89.4,261.8 88.4,261.8 87.5,261.8 86.6,261.8 85.6,261.8 84.7,261.8 83.8,261.8 82.9,261.8 81.9,261.8 81,261.8 80.1,261.8 79.1,261.8 78.2,261.8 77.3,261.8 76.4,261.8 75.4,261.8 74.5,261.8 73.6,261.8 72.6,261.8 71.7,261.8 70.8,261.8 69.8,261.8 68.9,261.8 68,261.8 67.1,261.8 66.1,261.8 65.2,261.8 64.3,261.8 63.3,261.8 62.4,261.8 61.5,261.8 60.5,261.8 59.6,261.8 58.7,261.8 57.8,261.8 56.8,261.8 55.9,261.8 55,261.8 54,261.8 53.1,261.8 52.2,261.8 51.2,261.8 50.3,261.8 49.4,261.8 48.5,261.8 47.5,261.8 46.6,261.8 45.7,261.8 44.7,261.8 43.8,261.8 42.9,261.8 41.9,261.8 41,261.8 40.1,261.8 39.2,261.8 38.2,261.8 37.3,261.8" fill="#b6f4a2" />
<polygon points="81.9,261.8 82.9,261.8 83.8,261.8 84.7,261.7 85.6,261.7 86.6,261.7 87.5,261.7 88.4,261.7 89.4,261.7 90.3,261.7 91.2,261.6 92.2,261.6 93.1,261.6 94,261.5 94.9,261.5 95.9,261.5 96.8,261.4 97.7,261.4 98.7,261.4 99.6,261.4 100.5,261.4 101.5,261.4 102.4,261.4 103.3,261.4 104.2,261.4 105.2,261.4 106.1,261.4 107,261.4 108,261.4 108.9,261.4 109.8,261.4 110.8,261.3 111.7,261.3 112.6,261.3 113.5,261.3 114.5,261.3 115.4,261.3 116.3,261.3 117.3,261.3 118.2,261.3 119.1,261.3 120,261.3 121,261.3 121.9,261.2 122.8,261.2 123.8,261.2 124.7,261.2 125.6,261.2 126.6,261.2 127.5,261.2 128.4,261.2 129.3,261.1 130.3,261.1 131.2,261.1 132.1,261.1 133.1,261.1 134,261.1 134.9,261 135.9,261 136.8,261 137.7,261 138.6,261 139.6,260.9 140.5,260.9 141.4,260.9 142.4,260.8 143.3,260.8 144.2,260.8 145.2,260.7 146.1,260.7 147,260.6 147.9,260.6 148.9,260.5 149.8,260.4 150.7,260.4 151.7,260.3 152.6,260.2 153.5,260 154.5,259.9 155.4,259.7 156.3,259.5 157.2,259.3 158.2,259 159.1,258.7 160,258.4 161,258 161.9,257.5 162.8,257 163.7,256.4 164.7,255.7 165.6,254.9 166.5,254 167.5,253 168.4,252.8 169.3,252.9 170.3,252.9 171.2,252.9 172.1,253 173,253 174,253.1 174.9,253.1 175.8,253.2 176.8,253.2 177.7,253.3 178.6,253.4 179.6,253.5 180.5,253.5 181.4,253.6 182.3,253.7 183.3,253.8 184.2,253.9 185.1,254.1 186.1,254.2 187,254.3 187.9,254.4 188.9,254.6 189.8,254.7 190.7,254.9 191.6,255 192.6,255.2 193.5,255.3 194.4,255.5 195.4,255.7 196.3,255.9 197.2,256 198.1,256.2 199.1,256.4 200,256.6 200.9,256.8 201.9,257 202.8,257.2 203.7,257.3 204.7,257.5 205.6,257.7 206.5,257.9 207.4,258.1 208.4,258.3 209.3,258.6 210.2,258.8 211.2,259 212.1,259.2 213,259.4 214,259.6 214.9,259.8 215.8,260 216.7,260.2 217.7,260.4 218.6,260.7 219.5,260.9 220.5,261.1 221.4,261.3 222.3,261.5 223.3,261.7 224.2,261.9 225.1,262.4 226,263.1 227,263.6 227.9,264.2 228.8,264.6 229.8,265 230.7,265.3 231.6,265.6 232.6,265.9 233.5,266.1 234.4,266.3 235.3,266.4 236.3,266.6 237.2,266.7 238.1,266.8 239.1,266.9 240,267 240.9,267 241.8,267.1 242.8,267.1 243.7,267.1 244.6,267.2 245.6,267.2 246.5,267.2 247.4,267.2 248.4,267.2 248.4,267.3 247.4,267.3 246.5,267.3 245.6,267.3 244.6,267.3 243.7,267.3 242.8,267.3 241.8,267.3 240.9,267.3 240,267.3 239.1,267.3 238.1,267.2 237.2,267.2 236.3,267.2 235.3,267.2 234.4,267.2 233.5,267.2 232.6,267.2 231.6,267.2 230.7,267.2 229.8,267.2 228.8,267.2 227.9,267.2 227,267.2 226,267.1 225.1,267.1 224.2,267.1 223.3,267.1 222.3,267.1 221.4,267.1 220.5,267 219.5,267 218.6,267 217.7,266.9 216.7,266.9 215.8,266.9 214.9,266.8 214,266.8 213,266.8 212.1,266.7 211.2,266.7 210.2,266.6 209.3,266.5 208.4,266.5 207.4,266.4 206.5,266.3 205.6,266.3 204.7,266.2 203.7,266.1 202.8,266 201.9,265.9 200.9,265.8 200,265.8 199.1,265.7 198.1,265.6 197.2,265.4 196.3,265.3 195.4,265.2 194.4,265.1 193.5,265 192.6,264.9 191.6,264.8 190.7,264.7 189.8,264.5 188.9,264.4 187.9,264.3 187,264.2 186.1,264.1 185.1,264 184.2,263.9 183.3,263.8 182.3,263.7 181.4,263.6 180.5,263.5 179.6,263.5 178.6,263.4 177.7,263.3 176.8,263.2 175.8,263.2 174.9,263.1 174,263.1 173,263 172.1,263 171.2,262.9 170.3,262.9 169.3,262.8 168.4,262.8 167.5,262.8 166.5,262.7 165.6,262.7 164.7,262.7 163.7,262.6 162.8,262.6 161.9,262.6 161,262.6 160,262.5 159.1,262.5 158.2,262.5 157.2,262.5 156.3,262.5 155.4,262.4 154.5,262.4 153.5,262.4 152.6,262.4 151.7,262.4 150.7,262.3 149.8,262.3 148.9,262.3 147.9,262.3 147,262.3 146.1,262.3 145.2,262.2 144.2,262.2 143.3,262.2 142.4,262.2 141.4,262.2 140.5,262.2 139.6,262.1 138.6,262.1 137.7,262.1 136.8,262.1 135.9,262.1 134.9,262.1 134,262.1 133.1,262 132.1,262 131.2,262 130.3,262 129.3,262 128.4,262 127.5,262 126.6,262 125.6,262 124.7,262 123.8,261.9 122.8,261.9 121.9,261.9 121,261.9 120,261.9 119.1,261.9 118.2,261.9 117.3,261.9 116.3,261.9 115.4,261.9 114.5,261.9 113.5,261.9 112.6,261.9 111.7,261.9 110.8,261.9 109.8,261.9 108.9,261.9 108,261.9 107,261.9 106.1,261.9 105.2,261.8 104.2,261.8 103.3,261.8 102.4,261.8 101.5,261.8 100.5,261.8 99.6,261.8 98.7,261.8 97.7,261.8 96.8,261.8 95.9,261.8 94.9,261.8 94,261.8 93.1,261.8 92.2,261.8 91.2,261.8 90.3,261.8 89.4,261.8 88.4,261.8 87.5,261.8 86.6,261.8 85.6,261.8 84.7,261.8 83.8,261.8 82.9,261.8 81.9,261.8" fill="#98f066" />
<polyline points="37.8,260.3 39.8,261.1 41.8,261.9 43.7,261.9 45.7,258.4 47.7,261.2 49.7,260.1 51.7,261.4 53.7,258.2 55.6,261.4 57.6,261.4 59.6,261.9 61.6,261.4 63.6,261.7 65.5,258.2 67.5,261.9 69.5,257.4 71.5,261.9 73.5,260.1 75.5,259.1 77.4,259.5 79.4,259.5 81.4,261.3 83.4,260.4 85.4,261.9 87.4,257.3 89.3,260.5 91.3,258.9 93.3,261.7 95.3,256.6 97.3,259.6 99.2,260.4 101.2,257.1 103.2,261 105.2,259.2 107.2,260.2 109.2,259.7 111.1,255.9 113.1,255.8 115.1,256.5 117.1,258 119.1,257.9 121,255 123,255 125,255.2 127,255.2 129,255.4 131,255.3 132.9,257 134.9,254.7 136.9,254.7 138.9,255.1 140.9,253.6 142.9,253.6 144.8,253.1 146.8,252.8 148.8,249.9 150.8,251.1 152.8,248.5 154.7,247.8 156.7,247.1 158.7,245.5 160.7,244.4 162.7,242 164.7,239.9 166.6,238.1 168.6,234.7 170.6,234.2 172.6,229.8 174.6,225.9 176.6,223.4 178.5,215.4 180.5,209.2 182.5,207.1 184.5,200.6 186.5,198 188.4,195.5 190.4,195.5 192.4,193.8 194.4,194.2 196.4,196.6 198.4,202.1 200.3,206.8 202.3,213.2 204.3,216.2 206.3,224.6 208.3,229.5 210.2,235.6 212.2,239.8 214.2,244.4 216.2,248.4 218.2,250.9 220.2,254.2 222.1,255.1 224.1,257.8 226.1,257.8 228.1,258.5 230.1,260 232.1,260.2 234,260.5 236,261.2 238,261.7 240,264.4 242,264.5 243.9,264.2 245.9,265.4 247.9,263.4 249.9,265.6 251.9,262.6 253.9,267.4 255.8,265.6 257.8,265.8 259.8,266.7 261.8,265.7 263.8,265.4 265.7,267.4 267.7,266.2 269.7,264.5 271.7,266.9 273.7,263.2 275.7,267.4 277.6,266.1 279.6,266.5 281.6,267.4 283.6,267.4 285.6,266.8 287.6,267.4 289.5,267.4 291.5,267.4 293.5,266.6 295.5,267.1 297.5,267.4 299.4,267.4 301.4,267.4 303.4,267.4 305.4,265 307.4,265.5 309.4,262.4 311.3,266.5 313.3,267.4 315.3,265.1" fill="none" stroke="#f81438" stroke-width="1.15" stroke-linejoin="round"/>
<polyline points="37.3,261.8 38.2,261.8 39.2,261.8 40.1,261.8 41,261.8 41.9,261.8 42.9,261.8 43.8,261.8 44.7,261.8 45.7,261.8 46.6,261.8 47.5,261.8 48.5,261.8 49.4,261.8 50.3,261.8 51.2,261.8 52.2,261.8 53.1,261.8 54,261.8 55,261.8 55.9,261.8 56.8,261.8 57.8,261.8 58.7,261.8 59.6,261.8 60.5,261.8 61.5,261.8 62.4,261.8 63.3,261.8 64.3,261.8 65.2,261.8 66.1,261.8 67.1,261.8 68,261.8 68.9,261.8 69.8,261.8 70.8,261.8 71.7,261.8 72.6,261.8 73.6,261.8 74.5,261.8 75.4,261.8 76.4,261.8 77.3,261.8 78.2,261.8 79.1,261.8 80.1,261.8 81,261.8 81.9,261.8 82.9,261.8 83.8,261.8 84.7,261.8 85.6,261.8 86.6,261.8 87.5,261.8 88.4,261.8 89.4,261.8 90.3,261.8 91.2,261.8 92.2,261.8 93.1,261.8 94,261.8 94.9,261.8 95.9,261.8 96.8,261.8 97.7,261.8 98.7,261.8 99.6,261.8 100.5,261.8 101.5,261.8 102.4,261.8 103.3,261.8 104.2,261.8 105.2,261.8 106.1,261.9 107,261.9 108,261.9 108.9,261.9 109.8,261.9 110.8,261.9 111.7,261.9 112.6,261.9 113.5,261.9 114.5,261.9 115.4,261.9 116.3,261.9 117.3,261.9 118.2,261.9 119.1,261.9 120,261.9 121,261.9 121.9,261.9 122.8,261.9 123.8,261.9 124.7,262 125.6,262 126.6,262 127.5,262 128.4,262 129.3,262 130.3,262 131.2,262 132.1,262 133.1,262 134,262.1 134.9,262.1 135.9,262.1 136.8,262.1 137.7,262.1 138.6,262.1 139.6,262.1 140.5,262.2 141.4,262.2 142.4,262.2 143.3,262.2 144.2,262.2 145.2,262.2 146.1,262.3 147,262.3 147.9,262.3 148.9,262.3 149.8,262.3 150.7,262.3 151.7,262.4 152.6,262.4 153.5,262.4 154.5,262.4 155.4,262.4 156.3,262.5 157.2,262.5 158.2,262.5 159.1,262.5 160,262.5 161,262.6 161.9,262.6 162.8,262.6 163.7,262.6 164.7,262.7 165.6,262.7 166.5,262.7 167.5,262.8 168.4,262.8 169.3,262.8 170.3,262.9 171.2,262.9 172.1,263 173,263 174,263.1 174.9,263.1 175.8,263.2 176.8,263.2 177.7,263.3 178.6,263.4 179.6,263.5 180.5,263.5 181.4,263.6 182.3,263.7 183.3,263.8 184.2,263.9 185.1,264 186.1,264.1 187,264.2 187.9,264.3 188.9,264.4 189.8,264.5 190.7,264.7 191.6,264.8 192.6,264.9 193.5,265 194.4,265.1 195.4,265.2 196.3,265.3 197.2,265.4 198.1,265.6 199.1,265.7 200,265.8 200.9,265.8 201.9,265.9 202.8,266 203.7,266.1 204.7,266.2 205.6,266.3 206.5,266.3 207.4,266.4 208.4,266.5 209.3,266.5 210.2,266.6 211.2,266.7 212.1,266.7 213,266.8 214,266.8 214.9,266.8 215.8,266.9 216.7,266.9 217.7,266.9 218.6,267 219.5,267 220.5,267 221.4,267.1 222.3,267.1 223.3,267.1 224.2,267.1 225.1,267.1 226,267.1 227,267.2 227.9,267.2 228.8,267.2 229.8,267.2 230.7,267.2 231.6,267.2 232.6,267.2 233.5,267.2 234.4,267.2 235.3,267.2 236.3,267.2 237.2,267.2 238.1,267.2 239.1,267.3 240,267.3 240.9,267.3 241.8,267.3 242.8,267.3 243.7,267.3 244.6,267.3 245.6,267.3 246.5,267.3 247.4,267.3 248.4,267.3 249.3,267.3 250.2,267.3 251.1,267.3 252.1,267.3 253,267.3 253.9,267.3 254.9,267.3 255.8,267.3 256.7,267.3 257.7,267.3 258.6,267.3 259.5,267.3 260.4,267.3 261.4,267.3 262.3,267.3 263.2,267.3 264.2,267.3 265.1,267.3 266,267.3 267,267.3 267.9,267.3 268.8,267.3 269.7,267.3 270.7,267.3 271.6,267.3 272.5,267.3 273.5,267.3 274.4,267.3 275.3,267.3 276.2,267.3 277.2,267.3 278.1,267.3 279,267.3 280,267.3 280.9,267.3 281.8,267.3 282.8,267.3 283.7,267.3 284.6,267.3 285.5,267.3 286.5,267.3 287.4,267.3 288.3,267.3 289.3,267.3 290.2,267.3 291.1,267.3 292.1,267.3 293,267.3 293.9,267.3 294.8,267.3 295.8,267.3 296.7,267.3 297.6,267.3 298.6,267.3 299.5,267.3 300.4,267.3 301.4,267.3 302.3,267.3 303.2,267.3 304.1,267.3 305.1,267.3 306,267.3 306.9,267.3 307.9,267.3 308.8,267.3 309.7,267.3 310.7,267.3 311.6,267.3 312.5,267.3 313.4,267.3 314.4,267.3 315.3,267.3" fill="none" stroke="#b0b0b0" stroke-width="1.4"/>
<text x="311.2" y="258.6" font-size="12" text-anchor="end">698</text>
<polygon points="76.4,328.3 77.3,328.3 78.2,328.2 79.1,328.2 80.1,328.2 81,328.2 81.9,328.2 82.9,328.2 83.8,328.1 84.7,328.1 85.6,328.1 86.6,328 87.5,328 88.4,328 89.4,327.9 90.3,327.9 91.2,327.8 92.2,327.7 93.1,327.7 94,327.6 94.9,327.5 95.9,327.4 96.8,327.3 97.7,327.2 98.7,327.1 99.6,327 100.5,326.8 101.5,326.7 102.4,326.5 103.3,326.4 104.2,326.2 105.2,326 106.1,325.9 107,325.7 108,325.5 108.9,325.3 109.8,325.1 110.8,324.9 111.7,324.6 112.6,324.4 113.5,324.2 114.5,324 115.4,323.7 116.3,323.5 117.3,323.3 118.2,323 119.1,322.8 120,322.6 121,322.3 121.9,322.1 122.8,321.9 123.8,321.6 124.7,321.4 125.6,321.2 126.6,321 127.5,320.8 128.4,320.6 129.3,320.4 130.3,320.3 131.2,320.1 132.1,319.9 133.1,319.8 134,319.7 134.9,319.5 135.9,319.4 136.8,319.3 137.7,319.2 138.6,319.2 139.6,319.1 140.5,319 141.4,319 142.4,319 143.3,318.9 144.2,318.9 145.2,318.9 146.1,319 147,319 147.9,319 148.9,319.1 149.8,319.1 150.7,319.2 151.7,319.2 152.6,319.3 153.5,319.4 154.5,319.5 155.4,319.6 156.3,319.7 157.2,319.8 158.2,319.9 159.1,320 160,320.1 161,320.2 161.9,320.3 162.8,320.4 163.7,320.5 164.7,320.7 165.6,320.8 166.5,320.9 167.5,321 168.4,321.1 169.3,321.2 170.3,321.3 171.2,321.4 172.1,321.6 173,321.7 174,321.8 174.9,321.9 175.8,322 176.8,322.2 177.7,322.3 178.6,322.4 179.6,322.6 180.5,322.7 181.4,322.9 182.3,323 183.3,323.2 184.2,323.4 185.1,323.5 186.1,323.7 187,323.9 187.9,324.1 188.9,324.3 189.8,324.5 190.7,324.7 191.6,324.9 192.6,325.1 193.5,325.3 194.4,325.5 195.4,325.7 196.3,325.9 197.2,326.2 198.1,326.4 199.1,326.6 200,326.9 200.9,327.1 201.9,327.3 202.8,327.6 203.7,327.8 204.7,328.1 205.6,328.3 206.5,328.6 207.4,328.8 208.4,329 209.3,329.3 210.2,329.5 211.2,329.7 212.1,330 213,330.2 214,330.4 214.9,330.7 215.8,330.9 216.7,331.1 217.7,331.3 218.6,331.5 219.5,331.7 220.5,331.9 221.4,332.1 222.3,332.3 223.3,332.5 224.2,332.7 225.1,332.8 226,333 227,333.2 227.9,333.4 228.8,333.5 229.8,333.7 230.7,333.8 231.6,334 232.6,334.1 233.5,334.3 234.4,334.4 235.3,334.5 236.3,334.7 237.2,334.8 238.1,334.9 239.1,335 240,335.1 240.9,335.2 241.8,335.3 242.8,335.4 243.7,335.5 244.6,335.6 245.6,335.7 246.5,335.7 247.4,335.8 248.4,335.9 249.3,335.9 250.2,336 251.1,336 252.1,336.1 253,336.1 253.9,336.2 254.9,336.2 255.8,336.3 256.7,336.3 257.7,336.3 258.6,336.3 259.5,336.4 260.4,336.4 261.4,336.4 262.3,336.4 263.2,336.5 264.2,336.5 265.1,336.5 266,336.5 267,336.5 267.9,336.5 268.8,336.5 269.7,336.5 270.7,336.5 271.6,336.6 271.6,336.6 270.7,336.6 269.7,336.6 268.8,336.6 267.9,336.6 267,336.6 266,336.6 265.1,336.6 264.2,336.6 263.2,336.6 262.3,336.6 261.4,336.6 260.4,336.6 259.5,336.6 258.6,336.6 257.7,336.6 256.7,336.6 255.8,336.6 254.9,336.6 253.9,336.6 253,336.6 252.1,336.6 251.1,336.6 250.2,336.6 249.3,336.6 248.4,336.6 247.4,336.6 246.5,336.6 245.6,336.6 244.6,336.6 243.7,336.6 242.8,336.6 241.8,336.6 240.9,336.6 240,336.6 239.1,336.6 238.1,336.6 237.2,336.6 236.3,336.5 235.3,336.5 234.4,336.5 233.5,336.5 232.6,336.5 231.6,336.5 230.7,336.5 229.8,336.5 228.8,336.5 227.9,336.5 227,336.5 226,336.5 225.1,336.5 224.2,336.5 223.3,336.5 222.3,336.4 221.4,336.4 220.5,336.4 219.5,336.4 218.6,336.4 217.7,336.4 216.7,336.3 215.8,336.3 214.9,336.3 214,336.2 213,336.2 212.1,336.2 211.2,336.1 210.2,336.1 209.3,336 208.4,335.9 207.4,335.9 206.5,335.8 205.6,335.7 204.7,335.7 203.7,335.6 202.8,335.5 201.9,335.4 200.9,335.3 200,335.3 199.1,335.2 198.1,335.1 197.2,335 196.3,334.9 195.4,334.8 194.4,334.7 193.5,334.6 192.6,334.5 191.6,334.4 190.7,334.3 189.8,334.2 188.9,334.1 187.9,334 187,333.9 186.1,333.8 185.1,333.7 184.2,333.6 183.3,333.5 182.3,333.4 181.4,333.3 180.5,333.2 179.6,333.1 178.6,333 177.7,332.9 176.8,332.8 175.8,332.7 174.9,332.6 174,332.5 173,332.4 172.1,332.3 171.2,332.2 170.3,332.1 169.3,332 168.4,331.9 167.5,331.8 166.5,331.7 165.6,331.6 164.7,331.4 163.7,331.3 162.8,331.2 161.9,331.1 161,331 160,330.9 159.1,330.8 158.2,330.7 157.2,330.6 156.3,330.5 155.4,330.4 154.5,330.3 153.5,330.2 152.6,330.1 151.7,330 150.7,329.9 149.8,329.8 148.9,329.7 147.9,329.6 147,329.6 146.1,329.5 145.2,329.4 144.2,329.4 143.3,329.3 142.4,329.2 141.4,329.2 140.5,329.1 139.6,329.1 138.6,329 137.7,329 136.8,328.9 135.9,328.9 134.9,328.9 134,328.8 133.1,328.8 132.1,328.8 131.2,328.7 130.3,328.7 129.3,328.7 128.4,328.7 127.5,328.6 126.6,328.6 125.6,328.6 124.7,328.6 123.8,328.6 122.8,328.5 121.9,328.5 121,328.5 120,328.5 119.1,328.5 118.2,328.5 117.3,328.5 116.3,328.5 115.4,328.4 114.5,328.4 113.5,328.4 112.6,328.4 111.7,328.4 110.8,328.4 109.8,328.4 108.9,328.4 108,328.4 107,328.4 106.1,328.4 105.2,328.4 104.2,328.4 103.3,328.3 102.4,328.3 101.5,328.3 100.5,328.3 99.6,328.3 98.7,328.3 97.7,328.3 96.8,328.3 95.9,328.3 94.9,328.3 94,328.3 93.1,328.3 92.2,328.3 91.2,328.3 90.3,328.3 89.4,328.3 88.4,328.3 87.5,328.3 86.6,328.3 85.6,328.3 84.7,328.3 83.8,328.3 82.9,328.3 81.9,328.3 81,328.3 80.1,328.3 79.1,328.3 78.2,328.3 77.3,328.3 76.4,328.3" fill="#f2b6d4" />
<polygon points="56.8,328.3 57.8,328.3 58.7,328.3 59.6,328.2 60.5,328.2 61.5,328.2 62.4,328.2 63.3,328.2 64.3,328.2 65.2,328.2 66.1,328.2 67.1,328.2 68,328.2 68.9,328.2 69.8,328.2 70.8,328.2 71.7,328.2 72.6,328.2 73.6,328.2 74.5,328.2 75.4,328.2 76.4,328.2 77.3,328.2 78.2,328.2 79.1,328.2 80.1,328.2 81,328.2 81.9,328.2 82.9,328.2 83.8,328.2 84.7,328.2 85.6,328.2 86.6,328.2 87.5,328.2 88.4,328.2 89.4,328.2 90.3,328.2 91.2,328.2 92.2,328.2 93.1,328.2 94,328.2 94.9,328.2 95.9,328.2 96.8,328.2 97.7,328.2 98.7,328.2 99.6,328.2 100.5,328.2 101.5,328.2 102.4,328.2 103.3,328.2 104.2,328.2 105.2,328.2 106.1,328.2 107,328.2 108,328.2 108.9,328.2 109.8,328.1 110.8,328.1 111.7,328.1 112.6,328.1 113.5,328.1 114.5,328.1 115.4,328 116.3,328 117.3,327.9 118.2,327.8 119.1,327.8 120,327.7 121,327.6 121.9,327.4 122.8,327.3 123.8,327.1 124.7,326.8 125.6,326.6 126.6,326.3 127.5,325.9 128.4,325.5 129.3,325.1 130.3,324.5 131.2,324 132.1,323.3 133.1,322.6 134,321.8 134.9,320.9 135.9,319.9 136.8,318.9 137.7,317.7 138.6,316.5 139.6,315.2 140.5,313.8 141.4,312.4 142.4,310.9 143.3,309.3 144.2,307.7 145.2,306 146.1,304.4 147,302.7 147.9,301 148.9,299.4 149.8,297.8 150.7,296.3 151.7,294.9 152.6,293.5 153.5,292.3 154.5,291.2 155.4,290.3 156.3,289.5 157.2,289 158.2,288.6 159.1,288.4 160,288.4 161,288.6 161.9,289 162.8,289.5 163.7,290.1 164.7,290.9 165.6,291.9 166.5,292.9 167.5,294.1 168.4,295.4 169.3,296.8 170.3,298.2 171.2,299.8 172.1,301.3 173,302.9 174,304.6 174.9,306.2 175.8,307.9 176.8,309.5 177.7,311.1 178.6,312.7 179.6,314.3 180.5,315.8 181.4,317.2 182.3,318.7 183.3,320 184.2,321.3 185.1,322.5 186.1,323.6 187,324.7 187.9,325.7 188.9,326.7 189.8,327.6 190.7,328.4 191.6,329.1 192.6,329.8 193.5,330.5 194.4,331 195.4,331.6 196.3,332 197.2,332.5 198.1,332.9 199.1,333.3 200,333.6 200.9,333.9 201.9,334.1 202.8,334.4 203.7,334.6 204.7,334.8 205.6,335 206.5,335.1 207.4,335.3 208.4,335.4 209.3,335.5 210.2,335.6 211.2,335.7 212.1,335.8 213,335.9 214,335.9 214.9,336 215.8,336.1 216.7,336.1 217.7,336.1 218.6,336.2 219.5,336.2 220.5,336.2 221.4,336.2 222.3,336.3 223.3,336.3 224.2,336.3 225.1,336.3 226,336.3 227,336.3 227.9,336.4 228.8,336.4 229.8,336.4 230.7,336.4 231.6,336.4 232.6,336.4 233.5,336.4 234.4,336.4 235.3,336.4 236.3,336.4 237.2,336.4 238.1,336.4 239.1,336.5 240,336.5 240.9,336.5 241.8,336.5 242.8,336.5 243.7,336.5 244.6,336.5 245.6,336.5 246.5,336.5 247.4,336.5 248.4,336.5 249.3,336.5 250.2,336.5 251.1,336.5 252.1,336.5 253,336.5 253.9,336.5 254.9,336.5 255.8,336.5 256.7,336.5 257.7,336.5 258.6,336.5 259.5,336.5 260.4,336.5 261.4,336.5 262.3,336.5 263.2,336.5 264.2,336.5 265.1,336.5 266,336.5 267,336.5 267.9,336.5 268.8,336.5 269.7,336.5 270.7,336.5 271.6,336.5 272.5,336.5 273.5,336.5 274.4,336.5 275.3,336.5 276.2,336.5 276.2,336.6 275.3,336.6 274.4,336.6 273.5,336.6 272.5,336.6 271.6,336.6 270.7,336.6 269.7,336.6 268.8,336.6 267.9,336.6 267,336.6 266,336.6 265.1,336.6 264.2,336.6 263.2,336.6 262.3,336.6 261.4,336.6 260.4,336.6 259.5,336.6 258.6,336.6 257.7,336.6 256.7,336.6 255.8,336.6 254.9,336.6 253.9,336.6 253,336.6 252.1,336.6 251.1,336.6 250.2,336.6 249.3,336.6 248.4,336.6 247.4,336.6 246.5,336.6 245.6,336.6 244.6,336.6 243.7,336.6 242.8,336.6 241.8,336.6 240.9,336.6 240,336.6 239.1,336.6 238.1,336.6 237.2,336.6 236.3,336.5 235.3,336.5 234.4,336.5 233.5,336.5 232.6,336.5 231.6,336.5 230.7,336.5 229.8,336.5 228.8,336.5 227.9,336.5 227,336.5 226,336.5 225.1,336.5 224.2,336.5 223.3,336.5 222.3,336.4 221.4,336.4 220.5,336.4 219.5,336.4 218.6,336.4 217.7,336.4 216.7,336.3 215.8,336.3 214.9,336.3 214,336.2 213,336.2 212.1,336.2 211.2,336.1 210.2,336.1 209.3,336 208.4,335.9 207.4,335.9 206.5,335.8 205.6,335.7 204.7,335.7 203.7,335.6 202.8,335.5 201.9,335.4 200.9,335.3 200,335.3 199.1,335.2 198.1,335.1 197.2,335 196.3,334.9 195.4,334.8 194.4,334.7 193.5,334.6 192.6,334.5 191.6,334.4 190.7,334.3 189.8,334.2 188.9,334.1 187.9,334 187,333.9 186.1,333.8 185.1,333.7 184.2,333.6 183.3,333.5 182.3,333.4 181.4,333.3 180.5,333.2 179.6,333.1 178.6,333 177.7,332.9 176.8,332.8 175.8,332.7 174.9,332.6 174,332.5 173,332.4 172.1,332.3 171.2,332.2 170.3,332.1 169.3,332 168.4,331.9 167.5,331.8 166.5,331.7 165.6,331.6 164.7,331.4 163.7,331.3 162.8,331.2 161.9,331.1 161,331 160,330.9 159.1,330.8 158.2,330.7 157.2,330.6 156.3,330.5 155.4,330.4 154.5,330.3 153.5,330.2 152.6,330.1 151.7,330 150.7,329.9 149.8,329.8 148.9,329.7 147.9,329.6 147,329.6 146.1,329.5 145.2,329.4 144.2,329.4 143.3,329.3 142.4,329.2 141.4,329.2 140.5,329.1 139.6,329.1 138.6,329 137.7,329 136.8,328.9 135.9,328.9 134.9,328.9 134,328.8 133.1,328.8 132.1,328.8 131.2,328.7 130.3,328.7 129.3,328.7 128.4,328.7 127.5,328.6 126.6,328.6 125.6,328.6 124.7,328.6 123.8,328.6 122.8,328.5 121.9,328.5 121,328.5 120,328.5 119.1,328.5 118.2,328.5 117.3,328.5 116.3,328.5 115.4,328.4 114.5,328.4 113.5,328.4 112.6,328.4 111.7,328.4 110.8,328.4 109.8,328.4 108.9,328.4 108,328.4 107,328.4 106.1,328.4 105.2,328.4 104.2,328.4 103.3,328.3 102.4,328.3 101.5,328.3 100.5,328.3 99.6,328.3 98.7,328.3 97.7,328.3 96.8,328.3 95.9,328.3 94.9,328.3 94,328.3 93.1,328.3 92.2,328.3 91.2,328.3 90.3,328.3 89.4,328.3 88.4,328.3 87.5,328.3 86.6,328.3 85.6,328.3 84.7,328.3 83.8,328.3 82.9,328.3 81.9,328.3 81,328.3 80.1,328.3 79.1,328.3 78.2,328.3 77.3,328.3 76.4,328.3 75.4,328.3 74.5,328.3 73.6,328.3 72.6,328.3 71.7,328.3 70.8,328.3 69.8,328.3 68.9,328.3 68,328.3 67.1,328.3 66.1,328.3 65.2,328.3 64.3,328.3 63.3,328.3 62.4,328.3 61.5,328.3 60.5,328.3 59.6,328.3 58.7,328.3 57.8,328.3 56.8,328.3" fill="#cec8f6" />
<polygon points="76.4,328.3 77.3,328.3 78.2,328.2 79.1,328.2 80.1,328.2 81,328.2 81.9,328.2 82.9,328.2 83.8,328.2 84.7,328.2 85.6,328.2 86.6,328.2 87.5,328.2 88.4,328.2 89.4,328.2 90.3,328.2 91.2,328.2 92.2,328.2 93.1,328.2 94,328.2 94.9,328.2 95.9,328.2 96.8,328.2 97.7,328.2 98.7,328.2 99.6,328.2 100.5,328.2 101.5,328.2 102.4,328.2 103.3,328.2 104.2,328.2 105.2,328.2 106.1,328.2 107,328.2 108,328.2 108.9,328.2 109.8,328.1 110.8,328.1 111.7,328.1 112.6,328.1 113.5,328.1 114.5,328.1 115.4,328 116.3,328 117.3,327.9 118.2,327.8 119.1,327.8 120,327.7 121,327.6 121.9,327.4 122.8,327.3 123.8,327.1 124.7,326.8 125.6,326.6 126.6,326.3 127.5,325.9 128.4,325.5 129.3,325.1 130.3,324.5 131.2,324 132.1,323.3 133.1,322.6 134,321.8 134.9,320.9 135.9,319.9 136.8,319.3 137.7,319.2 138.6,319.2 139.6,319.1 140.5,319 141.4,319 142.4,319 143.3,318.9 144.2,318.9 145.2,318.9 146.1,319 147,319 147.9,319 148.9,319.1 149.8,319.1 150.7,319.2 151.7,319.2 152.6,319.3 153.5,319.4 154.5,319.5 155.4,319.6 156.3,319.7 157.2,319.8 158.2,319.9 159.1,320 160,320.1 161,320.2 161.9,320.3 162.8,320.4 163.7,320.5 164.7,320.7 165.6,320.8 166.5,320.9 167.5,321 168.4,321.1 169.3,321.2 170.3,321.3 171.2,321.4 172.1,321.6 173,321.7 174,321.8 174.9,321.9 175.8,322 176.8,322.2 177.7,322.3 178.6,322.4 179.6,322.6 180.5,322.7 181.4,322.9 182.3,323 183.3,323.2 184.2,323.4 185.1,323.5 186.1,323.7 187,324.7 187.9,325.7 188.9,326.7 189.8,327.6 190.7,328.4 191.6,329.1 192.6,329.8 193.5,330.5 194.4,331 195.4,331.6 196.3,332 197.2,332.5 198.1,332.9 199.1,333.3 200,333.6 200.9,333.9 201.9,334.1 202.8,334.4 203.7,334.6 204.7,334.8 205.6,335 206.5,335.1 207.4,335.3 208.4,335.4 209.3,335.5 210.2,335.6 211.2,335.7 212.1,335.8 213,335.9 214,335.9 214.9,336 215.8,336.1 216.7,336.1 217.7,336.1 218.6,336.2 219.5,336.2 220.5,336.2 221.4,336.2 222.3,336.3 223.3,336.3 224.2,336.3 225.1,336.3 226,336.3 227,336.3 227.9,336.4 228.8,336.4 229.8,336.4 230.7,336.4 231.6,336.4 232.6,336.4 233.5,336.4 234.4,336.4 235.3,336.4 236.3,336.4 237.2,336.4 238.1,336.4 239.1,336.5 240,336.5 240.9,336.5 241.8,336.5 242.8,336.5 243.7,336.5 244.6,336.5 245.6,336.5 246.5,336.5 247.4,336.5 248.4,336.5 249.3,336.5 250.2,336.5 251.1,336.5 252.1,336.5 253,336.5 253.9,336.5 254.9,336.5 255.8,336.5 256.7,336.5 257.7,336.5 258.6,336.5 259.5,336.5 260.4,336.5 261.4,336.5 262.3,336.5 263.2,336.5 264.2,336.5 265.1,336.5 266,336.5 267,336.5 267.9,336.5 268.8,336.5 269.7,336.5 270.7,336.5 271.6,336.6 271.6,336.6 270.7,336.6 269.7,336.6 268.8,336.6 267.9,336.6 267,336.6 266,336.6 265.1,336.6 264.2,336.6 263.2,336.6 262.3,336.6 261.4,336.6 260.4,336.6 259.5,336.6 258.6,336.6 257.7,336.6 256.7,336.6 255.8,336.6 254.9,336.6 253.9,336.6 253,336.6 252.1,336.6 251.1,336.6 250.2,336.6 249.3,336.6 248.4,336.6 247.4,336.6 246.5,336.6 245.6,336.6 244.6,336.6 243.7,336.6 242.8,336.6 241.8,336.6 240.9,336.6 240,336.6 239.1,336.6 238.1,336.6 237.2,336.6 236.3,336.5 235.3,336.5 234.4,336.5 233.5,336.5 232.6,336.5 231.6,336.5 230.7,336.5 229.8,336.5 228.8,336.5 227.9,336.5 227,336.5 226,336.5 225.1,336.5 224.2,336.5 223.3,336.5 222.3,336.4 221.4,336.4 220.5,336.4 219.5,336.4 218.6,336.4 217.7,336.4 216.7,336.3 215.8,336.3 214.9,336.3 214,336.2 213,336.2 212.1,336.2 211.2,336.1 210.2,336.1 209.3,336 208.4,335.9 207.4,335.9 206.5,335.8 205.6,335.7 204.7,335.7 203.7,335.6 202.8,335.5 201.9,335.4 200.9,335.3 200,335.3 199.1,335.2 198.1,335.1 197.2,335 196.3,334.9 195.4,334.8 194.4,334.7 193.5,334.6 192.6,334.5 191.6,334.4 190.7,334.3 189.8,334.2 188.9,334.1 187.9,334 187,333.9 186.1,333.8 185.1,333.7 184.2,333.6 183.3,333.5 182.3,333.4 181.4,333.3 180.5,333.2 179.6,333.1 178.6,333 177.7,332.9 176.8,332.8 175.8,332.7 174.9,332.6 174,332.5 173,332.4 172.1,332.3 171.2,332.2 170.3,332.1 169.3,332 168.4,331.9 167.5,331.8 166.5,331.7 165.6,331.6 164.7,331.4 163.7,331.3 162.8,331.2 161.9,331.1 161,331 160,330.9 159.1,330.8 158.2,330.7 157.2,330.6 156.3,330.5 155.4,330.4 154.5,330.3 153.5,330.2 152.6,330.1 151.7,330 150.7,329.9 149.8,329.8 148.9,329.7 147.9,329.6 147,329.6 146.1,329.5 145.2,329.4 144.2,329.4 143.3,329.3 142.4,329.2 141.4,329.2 140.5,329.1 139.6,329.1 138.6,329 137.7,329 136.8,328.9 135.9,328.9 134.9,328.9 134,328.8 133.1,328.8 132.1,328.8 131.2,328.7 130.3,328.7 129.3,328.7 128.4,328.7 127.5,328.6 126.6,328.6 125.6,328.6 124.7,328.6 123.8,328.6 122.8,328.5 121.9,328.5 121,328.5 120,328.5 119.1,328.5 118.2,328.5 117.3,328.5 116.3,328.5 115.4,328.4 114.5,328.4 113.5,328.4 112.6,328.4 111.7,328.4 110.8,328.4 109.8,328.4 108.9,328.4 108,328.4 107,328.4 106.1,328.4 105.2,328.4 104.2,328.4 103.3,328.3 102.4,328.3 101.5,328.3 100.5,328.3 99.6,328.3 98.7,328.3 97.7,328.3 96.8,328.3 95.9,328.3 94.9,328.3 94,328.3 93.1,328.3 92.2,328.3 91.2,328.3 90.3,328.3 89.4,328.3 88.4,328.3 87.5,328.3 86.6,328.3 85.6,328.3 84.7,328.3 83.8,328.3 82.9,328.3 81.9,328.3 81,328.3 80.1,328.3 79.1,328.3 78.2,328.3 77.3,328.3 76.4,328.3" fill="#bc84f4" />
<polygon points="146.1,329.4 147,329.5 147.9,329.6 148.9,329.6 149.8,329.7 150.7,329.7 151.7,329.8 152.6,329.8 153.5,329.9 154.5,329.9 155.4,329.9 156.3,329.9 157.2,329.8 158.2,329.8 159.1,329.7 160,329.6 161,329.4 161.9,329.2 162.8,329 163.7,328.7 164.7,328.3 165.6,327.9 166.5,327.4 167.5,326.9 168.4,326.2 169.3,325.5 170.3,324.7 171.2,323.8 172.1,322.8 173,321.8 174,320.7 174.9,319.4 175.8,318.2 176.8,316.8 177.7,315.4 178.6,313.9 179.6,312.5 180.5,311 181.4,309.4 182.3,308 183.3,306.5 184.2,305.1 185.1,303.7 186.1,302.5 187,301.3 187.9,300.3 188.9,299.4 189.8,298.6 190.7,298 191.6,297.6 192.6,297.4 193.5,297.3 194.4,297.4 195.4,297.5 196.3,297.7 197.2,297.9 198.1,298.3 199.1,298.8 200,299.3 200.9,300.1 201.9,301 202.8,302 203.7,303.2 204.7,304.6 205.6,306.1 206.5,307.7 207.4,309.5 208.4,311.3 209.3,313.2 210.2,315.2 211.2,317.2 212.1,319.1 213,321.1 214,322.9 214.9,324.7 215.8,326.3 216.7,327.8 217.7,329.2 218.6,330.5 219.5,331.6 220.5,332.5 221.4,333.3 222.3,334 223.3,334.6 224.2,335 225.1,335.4 226,335.7 227,335.9 227.9,336.1 228.8,336.2 229.8,336.3 230.7,336.4 231.6,336.4 232.6,336.5 233.5,336.5 233.5,336.5 232.6,336.5 231.6,336.5 230.7,336.5 229.8,336.5 228.8,336.5 227.9,336.5 227,336.5 226,336.5 225.1,336.5 224.2,336.5 223.3,336.5 222.3,336.4 221.4,336.4 220.5,336.4 219.5,336.4 218.6,336.4 217.7,336.4 216.7,336.3 215.8,336.3 214.9,336.3 214,336.2 213,336.2 212.1,336.2 211.2,336.1 210.2,336.1 209.3,336 208.4,335.9 207.4,335.9 206.5,335.8 205.6,335.7 204.7,335.7 203.7,335.6 202.8,335.5 201.9,335.4 200.9,335.3 200,335.3 199.1,335.2 198.1,335.1 197.2,335 196.3,334.9 195.4,334.8 194.4,334.7 193.5,334.6 192.6,334.5 191.6,334.4 190.7,334.3 189.8,334.2 188.9,334.1 187.9,334 187,333.9 186.1,333.8 185.1,333.7 184.2,333.6 183.3,333.5 182.3,333.4 181.4,333.3 180.5,333.2 179.6,333.1 178.6,333 177.7,332.9 176.8,332.8 175.8,332.7 174.9,332.6 174,332.5 173,332.4 172.1,332.3 171.2,332.2 170.3,332.1 169.3,332 168.4,331.9 167.5,331.8 166.5,331.7 165.6,331.6 164.7,331.4 163.7,331.3 162.8,331.2 161.9,331.1 161,331 160,330.9 159.1,330.8 158.2,330.7 157.2,330.6 156.3,330.5 155.4,330.4 154.5,330.3 153.5,330.2 152.6,330.1 151.7,330 150.7,329.9 149.8,329.8 148.9,329.7 147.9,329.6 147,329.6 146.1,329.5" fill="#b6f4a2" />
<polygon points="146.1,329.4 147,329.5 147.9,329.6 148.9,329.6 149.8,329.7 150.7,329.7 151.7,329.8 152.6,329.8 153.5,329.9 154.5,329.9 155.4,329.9 156.3,329.9 157.2,329.8 158.2,329.8 159.1,329.7 160,329.6 161,329.4 161.9,329.2 162.8,329 163.7,328.7 164.7,328.3 165.6,327.9 166.5,327.4 167.5,326.9 168.4,326.2 169.3,325.5 170.3,324.7 171.2,323.8 172.1,322.8 173,321.8 174,321.8 174.9,321.9 175.8,322 176.8,322.2 177.7,322.3 178.6,322.4 179.6,322.6 180.5,322.7 181.4,322.9 182.3,323 183.3,323.2 184.2,323.4 185.1,323.5 186.1,323.7 187,323.9 187.9,324.1 188.9,324.3 189.8,324.5 190.7,324.7 191.6,324.9 192.6,325.1 193.5,325.3 194.4,325.5 195.4,325.7 196.3,325.9 197.2,326.2 198.1,326.4 199.1,326.6 200,326.9 200.9,327.1 201.9,327.3 202.8,327.6 203.7,327.8 204.7,328.1 205.6,328.3 206.5,328.6 207.4,328.8 208.4,329 209.3,329.3 210.2,329.5 211.2,329.7 212.1,330 213,330.2 214,330.4 214.9,330.7 215.8,330.9 216.7,331.1 217.7,331.3 218.6,331.5 219.5,331.7 220.5,332.5 221.4,333.3 222.3,334 223.3,334.6 224.2,335 225.1,335.4 226,335.7 227,335.9 227.9,336.1 228.8,336.2 229.8,336.3 230.7,336.4 231.6,336.4 232.6,336.5 233.5,336.5 233.5,336.5 232.6,336.5 231.6,336.5 230.7,336.5 229.8,336.5 228.8,336.5 227.9,336.5 227,336.5 226,336.5 225.1,336.5 224.2,336.5 223.3,336.5 222.3,336.4 221.4,336.4 220.5,336.4 219.5,336.4 218.6,336.4 217.7,336.4 216.7,336.3 215.8,336.3 214.9,336.3 214,336.2 213,336.2 212.1,336.2 211.2,336.1 210.2,336.1 209.3,336 208.4,335.9 207.4,335.9 206.5,335.8 205.6,335.7 204.7,335.7 203.7,335.6 202.8,335.5 201.9,335.4 200.9,335.3 200,335.3 199.1,335.2 198.1,335.1 197.2,335 196.3,334.9 195.4,334.8 194.4,334.7 193.5,334.6 192.6,334.5 191.6,334.4 190.7,334.3 189.8,334.2 188.9,334.1 187.9,334 187,333.9 186.1,333.8 185.1,333.7 184.2,333.6 183.3,333.5 182.3,333.4 181.4,333.3 180.5,333.2 179.6,333.1 178.6,333 177.7,332.9 176.8,332.8 175.8,332.7 174.9,332.6 174,332.5 173,332.4 172.1,332.3 171.2,332.2 170.3,332.1 169.3,332 168.4,331.9 167.5,331.8 166.5,331.7 165.6,331.6 164.7,331.4 163.7,331.3 162.8,331.2 161.9,331.1 161,331 160,330.9 159.1,330.8 158.2,330.7 157.2,330.6 156.3,330.5 155.4,330.4 154.5,330.3 153.5,330.2 152.6,330.1 151.7,330 150.7,329.9 149.8,329.8 148.9,329.7 147.9,329.6 147,329.6 146.1,329.5" fill="#98f066" />
<polygon points="146.1,329.4 147,329.5 147.9,329.6 148.9,329.6 149.8,329.7 150.7,329.7 151.7,329.8 152.6,329.8 153.5,329.9 154.5,329.9 155.4,329.9 156.3,329.9 157.2,329.8 158.2,329.8 159.1,329.7 160,329.6 161,329.4 161.9,329.2 162.8,329 163.7,328.7 164.7,328.3 165.6,327.9 166.5,327.4 167.5,326.9 168.4,326.2 169.3,325.5 170.3,324.7 171.2,323.8 172.1,322.8 173,321.8 174,320.7 174.9,319.4 175.8,318.2 176.8,316.8 177.7,315.4 178.6,313.9 179.6,314.3 180.5,315.8 181.4,317.2 182.3,318.7 183.3,320 184.2,321.3 185.1,322.5 186.1,323.6 187,324.7 187.9,325.7 188.9,326.7 189.8,327.6 190.7,328.4 191.6,329.1 192.6,329.8 193.5,330.5 194.4,331 195.4,331.6 196.3,332 197.2,332.5 198.1,332.9 199.1,333.3 200,333.6 200.9,333.9 201.9,334.1 202.8,334.4 203.7,334.6 204.7,334.8 205.6,335 206.5,335.1 207.4,335.3 208.4,335.4 209.3,335.5 210.2,335.6 211.2,335.7 212.1,335.8 213,335.9 214,335.9 214.9,336 215.8,336.1 216.7,336.1 217.7,336.1 218.6,336.2 219.5,336.2 220.5,336.2 221.4,336.2 222.3,336.3 223.3,336.3 224.2,336.3 225.1,336.3 226,336.3 227,336.3 227.9,336.4 228.8,336.4 229.8,336.4 230.7,336.4 231.6,336.4 232.6,336.5 233.5,336.5 233.5,336.5 232.6,336.5 231.6,336.5 230.7,336.5 229.8,336.5 228.8,336.5 227.9,336.5 227,336.5 226,336.5 225.1,336.5 224.2,336.5 223.3,336.5 222.3,336.4 221.4,336.4 220.5,336.4 219.5,336.4 218.6,336.4 217.7,336.4 216.7,336.3 215.8,336.3 214.9,336.3 214,336.2 213,336.2 212.1,336.2 211.2,336.1 210.2,336.1 209.3,336 208.4,335.9 207.4,335.9 206.5,335.8 205.6,335.7 204.7,335.7 203.7,335.6 202.8,335.5 201.9,335.4 200.9,335.3 200,335.3 199.1,335.2 198.1,335.1 197.2,335 196.3,334.9 195.4,334.8 194.4,334.7 193.5,334.6 192.6,334.5 191.6,334.4 190.7,334.3 189.8,334.2 188.9,334.1 187.9,334 187,333.9 186.1,333.8 185.1,333.7 184.2,333.6 183.3,333.5 182.3,333.4 181.4,333.3 180.5,333.2 179.6,333.1 178.6,333 177.7,332.9 176.8,332.8 175.8,332.7 174.9,332.6 174,332.5 173,332.4 172.1,332.3 171.2,332.2 170.3,332.1 169.3,332 168.4,331.9 167.5,331.8 166.5,331.7 165.6,331.6 164.7,331.4 163.7,331.3 162.8,331.2 161.9,331.1 161,331 160,330.9 159.1,330.8 158.2,330.7 157.2,330.6 156.3,330.5 155.4,330.4 154.5,330.3 153.5,330.2 152.6,330.1 151.7,330 150.7,329.9 149.8,329.8 148.9,329.7 147.9,329.6 147,329.6 146.1,329.5" fill="#8ee07a" />
<polygon points="146.1,329.4 147,329.5 147.9,329.6 148.9,329.6 149.8,329.7 150.7,329.7 151.7,329.8 152.6,329.8 153.5,329.9 154.5,329.9 155.4,329.9 156.3,329.9 157.2,329.8 158.2,329.8 159.1,329.7 160,329.6 161,329.4 161.9,329.2 162.8,329 163.7,328.7 164.7,328.3 165.6,327.9 166.5,327.4 167.5,326.9 168.4,326.2 169.3,325.5 170.3,324.7 171.2,323.8 172.1,322.8 173,321.8 174,321.8 174.9,321.9 175.8,322 176.8,322.2 177.7,322.3 178.6,322.4 179.6,322.6 180.5,322.7 181.4,322.9 182.3,323 183.3,323.2 184.2,323.4 185.1,323.5 186.1,323.7 187,324.7 187.9,325.7 188.9,326.7 189.8,327.6 190.7,328.4 191.6,329.1 192.6,329.8 193.5,330.5 194.4,331 195.4,331.6 196.3,332 197.2,332.5 198.1,332.9 199.1,333.3 200,333.6 200.9,333.9 201.9,334.1 202.8,334.4 203.7,334.6 204.7,334.8 205.6,335 206.5,335.1 207.4,335.3 208.4,335.4 209.3,335.5 210.2,335.6 211.2,335.7 212.1,335.8 213,335.9 214,335.9 214.9,336 215.8,336.1 216.7,336.1 217.7,336.1 218.6,336.2 219.5,336.2 220.5,336.2 221.4,336.2 222.3,336.3 223.3,336.3 224.2,336.3 225.1,336.3 226,336.3 227,336.3 227.9,336.4 228.8,336.4 229.8,336.4 230.7,336.4 231.6,336.4 232.6,336.5 233.5,336.5 233.5,336.5 232.6,336.5 231.6,336.5 230.7,336.5 229.8,336.5 228.8,336.5 227.9,336.5 227,336.5 226,336.5 225.1,336.5 224.2,336.5 223.3,336.5 222.3,336.4 221.4,336.4 220.5,336.4 219.5,336.4 218.6,336.4 217.7,336.4 216.7,336.3 215.8,336.3 214.9,336.3 214,336.2 213,336.2 212.1,336.2 211.2,336.1 210.2,336.1 209.3,336 208.4,335.9 207.4,335.9 206.5,335.8 205.6,335.7 204.7,335.7 203.7,335.6 202.8,335.5 201.9,335.4 200.9,335.3 200,335.3 199.1,335.2 198.1,335.1 197.2,335 196.3,334.9 195.4,334.8 194.4,334.7 193.5,334.6 192.6,334.5 191.6,334.4 190.7,334.3 189.8,334.2 188.9,334.1 187.9,334 187,333.9 186.1,333.8 185.1,333.7 184.2,333.6 183.3,333.5 182.3,333.4 181.4,333.3 180.5,333.2 179.6,333.1 178.6,333 177.7,332.9 176.8,332.8 175.8,332.7 174.9,332.6 174,332.5 173,332.4 172.1,332.3 171.2,332.2 170.3,332.1 169.3,332 168.4,331.9 167.5,331.8 166.5,331.7 165.6,331.6 164.7,331.4 163.7,331.3 162.8,331.2 161.9,331.1 161,331 160,330.9 159.1,330.8 158.2,330.7 157.2,330.6 156.3,330.5 155.4,330.4 154.5,330.3 153.5,330.2 152.6,330.1 151.7,330 150.7,329.9 149.8,329.8 148.9,329.7 147.9,329.6 147,329.6 146.1,329.5" fill="#6ebca0" />
<polygon points="56.8,328.3 57.8,328.3 58.7,328.3 59.6,328.2 60.5,328.2 61.5,328.2 62.4,328.2 63.3,328.2 64.3,328.2 65.2,328.2 66.1,328.2 67.1,328.2 68,328.2 68.9,328.2 69.8,328.2 70.8,328.2 71.7,328.2 72.6,328.2 73.6,328.2 74.5,328.2 75.4,328.2 76.4,328.2 77.3,328.2 78.2,328.2 79.1,328.2 80.1,328.2 81,328.2 81.9,328.2 82.9,328.2 83.8,328.2 84.7,328.2 85.6,328.2 86.6,328.2 87.5,328.2 88.4,328.2 89.4,328.2 90.3,328.2 91.2,328.2 92.2,328.2 93.1,328.2 94,328.2 94.9,328.2 95.9,328.2 96.8,328.2 97.7,328.2 98.7,328.2 99.6,328.2 100.5,328.2 101.5,328.2 102.4,328.2 103.3,328.2 104.2,328.2 105.2,328.2 106.1,328.2 107,328.2 108,328.2 108.9,328.2 109.8,328.1 110.8,328.1 111.7,328.1 112.6,328.1 113.5,328.1 114.5,328.1 115.4,328 116.3,328 117.3,327.9 118.2,327.8 119.1,327.8 120,327.7 121,327.6 121.9,327.4 122.8,327.3 123.8,327.1 124.7,326.8 125.6,326.6 126.6,326.3 127.5,325.9 128.4,325.5 129.3,325.1 130.3,324.5 131.2,324 132.1,323.3 133.1,322.6 134,321.8 134.9,320.9 135.9,319.9 136.8,318.9 137.7,317.7 138.6,316.5 139.6,315.2 140.5,313.8 141.4,312.4 142.4,310.9 143.3,309.3 144.2,307.7 145.2,306 146.1,304.4 147,302.7 147.9,301 148.9,299.4 149.8,297.8 150.7,296.3 151.7,294.9 152.6,293.5 153.5,292.3 154.5,291.2 155.4,290.3 156.3,289.5 157.2,289 158.2,288.6 159.1,288.4 160,288.4 161,288.6 161.9,289 162.8,289.5 163.7,290.1 164.7,290.9 165.6,291.9 166.5,292.9 167.5,294.1 168.4,295.4 169.3,296.8 170.3,298.2 171.2,299.8 172.1,301.3 173,302.9 174,304.6 174.9,306.2 175.8,307.9 176.8,309.5 177.7,311.1 178.6,312.7 179.6,314.3 180.5,315.8 181.4,317.2 182.3,318.7 183.3,320 184.2,321.3 185.1,322.5 186.1,323.6 187,324.7 187.9,325.7 188.9,326.7 189.8,327.6 190.7,328.4 191.6,329.1 192.6,329.8 193.5,330.5 194.4,331 195.4,331.6 196.3,332 197.2,332.5 198.1,332.9 199.1,333.3 200,333.6 200.9,333.9 201.9,334.1 202.8,334.4 203.7,334.6 204.7,334.8 205.6,335 206.5,335.1 207.4,335.3 208.4,335.4 209.3,335.5 210.2,335.6 211.2,335.7 212.1,335.8 213,335.9 214,335.9 214.9,336 215.8,336.1 216.7,336.1 217.7,336.1 218.6,336.2 219.5,336.2 220.5,336.2 221.4,336.2 222.3,336.3 223.3,336.3 224.2,336.3 225.1,336.3 226,336.3 227,336.3 227.9,336.4 228.8,336.4 229.8,336.4 230.7,336.4 231.6,336.4 232.6,336.4 233.5,336.4 234.4,336.4 235.3,336.4 236.3,336.4 237.2,336.4 238.1,336.4 239.1,336.5 240,336.5 240.9,336.5 241.8,336.5 242.8,336.5 243.7,336.5 244.6,336.5 245.6,336.5 246.5,336.5 247.4,336.5 248.4,336.5 249.3,336.5 250.2,336.5 251.1,336.5 252.1,336.5 253,336.5 253.9,336.5 254.9,336.5 255.8,336.5 256.7,336.5 257.7,336.5 258.6,336.5 259.5,336.5 260.4,336.5 261.4,336.5 262.3,336.5 263.2,336.5 264.2,336.5 265.1,336.5 266,336.5 267,336.5 267.9,336.5 268.8,336.5 269.7,336.5 270.7,336.5 271.6,336.5 272.5,336.5 273.5,336.5 274.4,336.5 275.3,336.5 276.2,336.5 276.2,336.6 275.3,336.6 274.4,336.6 273.5,336.6 272.5,336.6 271.6,336.6 270.7,336.6 269.7,336.6 268.8,336.6 267.9,336.6 267,336.6 266,336.6 265.1,336.6 264.2,336.6 263.2,336.6 262.3,336.6 261.4,336.6 260.4,336.6 259.5,336.6 258.6,336.6 257.7,336.6 256.7,336.6 255.8,336.6 254.9,336.6 253.9,336.6 253,336.6 252.1,336.6 251.1,336.6 250.2,336.6 249.3,336.6 248.4,336.6 247.4,336.6 246.5,336.6 245.6,336.6 244.6,336.6 243.7,336.6 242.8,336.6 241.8,336.6 240.9,336.6 240,336.6 239.1,336.6 238.1,336.6 237.2,336.6 236.3,336.5 235.3,336.5 234.4,336.5 233.5,336.5 232.6,336.5 231.6,336.5 230.7,336.5 229.8,336.5 228.8,336.5 227.9,336.5 227,336.5 226,336.5 225.1,336.5 224.2,336.5 223.3,336.5 222.3,336.4 221.4,336.4 220.5,336.4 219.5,336.4 218.6,336.4 217.7,336.4 216.7,336.3 215.8,336.3 214.9,336.3 214,336.2 213,336.2 212.1,336.2 211.2,336.1 210.2,336.1 209.3,336 208.4,335.9 207.4,335.9 206.5,335.8 205.6,335.7 204.7,335.7 203.7,335.6 202.8,335.5 201.9,335.4 200.9,335.3 200,335.3 199.1,335.2 198.1,335.1 197.2,335 196.3,334.9 195.4,334.8 194.4,334.7 193.5,334.6 192.6,334.5 191.6,334.4 190.7,334.3 189.8,334.2 188.9,334.1 187.9,334 187,333.9 186.1,333.8 185.1,333.7 184.2,333.6 183.3,333.5 182.3,333.4 181.4,333.3 180.5,333.2 179.6,333.1 178.6,333 177.7,332.9 176.8,332.8 175.8,332.7 174.9,332.6 174,332.5 173,332.4 172.1,332.3 171.2,332.2 170.3,332.1 169.3,332 168.4,331.9 167.5,331.8 166.5,331.7 165.6,331.6 164.7,331.4 163.7,331.3 162.8,331.2 161.9,331.1 161,331 160,330.9 159.1,330.8 158.2,330.7 157.2,330.6 156.3,330.5 155.4,330.4 154.5,330.3 153.5,330.2 152.6,330.1 151.7,330 150.7,329.9 149.8,329.8 148.9,329.7 147.9,329.6 147,329.6 146.1,329.5 145.2,329.4 144.2,329.4 143.3,329.3 142.4,329.2 141.4,329.2 140.5,329.1 139.6,329.1 138.6,329 137.7,329 136.8,328.9 135.9,328.9 134.9,328.9 134,328.8 133.1,328.8 132.1,328.8 131.2,328.7 130.3,328.7 129.3,328.7 128.4,328.7 127.5,328.6 126.6,328.6 125.6,328.6 124.7,328.6 123.8,328.6 122.8,328.5 121.9,328.5 121,328.5 120,328.5 119.1,328.5 118.2,328.5 117.3,328.5 116.3,328.5 115.4,328.4 114.5,328.4 113.5,328.4 112.6,328.4 111.7,328.4 110.8,328.4 109.8,328.4 108.9,328.4 108,328.4 107,328.4 106.1,328.4 105.2,328.4 104.2,328.4 103.3,328.3 102.4,328.3 101.5,328.3 100.5,328.3 99.6,328.3 98.7,328.3 97.7,328.3 96.8,328.3 95.9,328.3 94.9,328.3 94,328.3 93.1,328.3 92.2,328.3 91.2,328.3 90.3,328.3 89.4,328.3 88.4,328.3 87.5,328.3 86.6,328.3 85.6,328.3 84.7,328.3 83.8,328.3 82.9,328.3 81.9,328.3 81,328.3 80.1,328.3 79.1,328.3 78.2,328.3 77.3,328.3 76.4,328.3 75.4,328.3 74.5,328.3 73.6,328.3 72.6,328.3 71.7,328.3 70.8,328.3 69.8,328.3 68.9,328.3 68,328.3 67.1,328.3 66.1,328.3 65.2,328.3 64.3,328.3 63.3,328.3 62.4,328.3 61.5,328.3 60.5,328.3 59.6,328.3 58.7,328.3 57.8,328.3 56.8,328.3" fill="url(#dots)" />
<polyline points="37.8,326.6 39.8,325.7 41.8,327.6 43.7,328.4 45.7,328.4 47.7,328.1 49.7,327 51.7,326.5 53.7,328.4 55.6,328.4 57.6,328.3 59.6,325.6 61.6,326.1 63.6,328.4 65.5,327.9 67.5,324.4 69.5,327.2 71.5,325.1 73.5,325.9 75.5,326 77.4,325.4 79.4,327.5 81.4,326.3 83.4,325.2 85.4,326.8 87.4,327.3 89.3,322.8 91.3,325.1 93.3,323.6 95.3,324.8 97.3,322.6 99.2,324.6 101.2,324.3 103.2,323.5 105.2,321.9 107.2,322.7 109.2,321.1 111.1,320.2 113.1,322.1 115.1,320.1 117.1,321.2 119.1,320.1 121,317.1 123,318.2 125,316.2 127,316 129,314.8 131,311.6 132.9,311.4 134.9,309.5 136.9,308.3 138.9,304.1 140.9,302.9 142.9,297.4 144.8,293.6 146.8,289.4 148.8,287.6 150.8,283.4 152.8,282.2 154.7,278.8 156.7,277.3 158.7,276 160.7,274 162.7,273.9 164.7,274.8 166.6,273.2 168.6,277.6 170.6,279.4 172.6,280.7 174.6,280.8 176.6,282.2 178.5,283.9 180.5,285.1 182.5,285.3 184.5,285.5 186.5,281.4 188.4,280 190.4,278.9 192.4,280.9 194.4,281.1 196.4,281.7 198.4,283.5 200.3,289 202.3,292.7 204.3,297.4 206.3,302.8 208.3,304.6 210.2,308.5 212.2,311.6 214.2,313.8 216.2,316.6 218.2,320.2 220.2,321.2 222.1,322.9 224.1,324.4 226.1,327.3 228.1,328.6 230.1,330.3 232.1,330.3 234,331.1 236,331.5 238,332.5 240,334.1 242,333.4 243.9,334.4 245.9,336.7 247.9,335.3 249.9,331.8 251.9,336.7 253.9,335.4 255.8,333.2 257.8,336.5 259.8,335 261.8,334 263.8,334 265.7,333.5 267.7,335.4 269.7,336.7 271.7,334.9 273.7,336.2 275.7,336.7 277.6,333.5 279.6,336.2 281.6,335.2 283.6,334 285.6,334.1 287.6,335.9 289.5,336.7 291.5,335.1 293.5,336.2 295.5,336.7 297.5,336.7 299.4,336.7 301.4,336.7 303.4,336.7 305.4,336.7 307.4,336.7 309.4,336.5 311.3,336.7 313.3,334.7 315.3,335.7" fill="none" stroke="#f81438" stroke-width="1.15" stroke-linejoin="round"/>
<polyline points="37.3,328.3 38.2,328.3 39.2,328.3 40.1,328.3 41,328.3 41.9,328.3 42.9,328.3 43.8,328.3 44.7,328.3 45.7,328.3 46.6,328.3 47.5,328.3 48.5,328.3 49.4,328.3 50.3,328.3 51.2,328.3 52.2,328.3 53.1,328.3 54,328.3 55,328.3 55.9,328.3 56.8,328.3 57.8,328.3 58.7,328.3 59.6,328.3 60.5,328.3 61.5,328.3 62.4,328.3 63.3,328.3 64.3,328.3 65.2,328.3 66.1,328.3 67.1,328.3 68,328.3 68.9,328.3 69.8,328.3 70.8,328.3 71.7,328.3 72.6,328.3 73.6,328.3 74.5,328.3 75.4,328.3 76.4,328.3 77.3,328.3 78.2,328.3 79.1,328.3 80.1,328.3 81,328.3 81.9,328.3 82.9,328.3 83.8,328.3 84.7,328.3 85.6,328.3 86.6,328.3 87.5,328.3 88.4,328.3 89.4,328.3 90.3,328.3 91.2,328.3 92.2,328.3 93.1,328.3 94,328.3 94.9,328.3 95.9,328.3 96.8,328.3 97.7,328.3 98.7,328.3 99.6,328.3 100.5,328.3 101.5,328.3 102.4,328.3 103.3,328.3 104.2,328.4 105.2,328.4 106.1,328.4 107,328.4 108,328.4 108.9,328.4 109.8,328.4 110.8,328.4 111.7,328.4 112.6,328.4 113.5,328.4 114.5,328.4 115.4,328.4 116.3,328.5 117.3,328.5 118.2,328.5 119.1,328.5 120,328.5 121,328.5 121.9,328.5 122.8,328.5 123.8,328.6 124.7,328.6 125.6,328.6 126.6,328.6 127.5,328.6 128.4,328.7 129.3,328.7 130.3,328.7 131.2,328.7 132.1,328.8 133.1,328.8 134,328.8 134.9,328.9 135.9,328.9 136.8,328.9 137.7,329 138.6,329 139.6,329.1 140.5,329.1 141.4,329.2 142.4,329.2 143.3,329.3 144.2,329.4 145.2,329.4 146.1,329.5 147,329.6 147.9,329.6 148.9,329.7 149.8,329.8 150.7,329.9 151.7,330 152.6,330.1 153.5,330.2 154.5,330.3 155.4,330.4 156.3,330.5 157.2,330.6 158.2,330.7 159.1,330.8 160,330.9 161,331 161.9,331.1 162.8,331.2 163.7,331.3 164.7,331.4 165.6,331.6 166.5,331.7 167.5,331.8 168.4,331.9 169.3,332 170.3,332.1 171.2,332.2 172.1,332.3 173,332.4 174,332.5 174.9,332.6 175.8,332.7 176.8,332.8 177.7,332.9 178.6,333 179.6,333.1 180.5,333.2 181.4,333.3 182.3,333.4 183.3,333.5 184.2,333.6 185.1,333.7 186.1,333.8 187,333.9 187.9,334 188.9,334.1 189.8,334.2 190.7,334.3 191.6,334.4 192.6,334.5 193.5,334.6 194.4,334.7 195.4,334.8 196.3,334.9 197.2,335 198.1,335.1 199.1,335.2 200,335.3 200.9,335.3 201.9,335.4 202.8,335.5 203.7,335.6 204.7,335.7 205.6,335.7 206.5,335.8 207.4,335.9 208.4,335.9 209.3,336 210.2,336.1 211.2,336.1 212.1,336.2 213,336.2 214,336.2 214.9,336.3 215.8,336.3 216.7,336.3 217.7,336.4 218.6,336.4 219.5,336.4 220.5,336.4 221.4,336.4 222.3,336.4 223.3,336.5 224.2,336.5 225.1,336.5 226,336.5 227,336.5 227.9,336.5 228.8,336.5 229.8,336.5 230.7,336.5 231.6,336.5 232.6,336.5 233.5,336.5 234.4,336.5 235.3,336.5 236.3,336.5 237.2,336.6 238.1,336.6 239.1,336.6 240,336.6 240.9,336.6 241.8,336.6 242.8,336.6 243.7,336.6 244.6,336.6 245.6,336.6 246.5,336.6 247.4,336.6 248.4,336.6 249.3,336.6 250.2,336.6 251.1,336.6 252.1,336.6 253,336.6 253.9,336.6 254.9,336.6 255.8,336.6 256.7,336.6 257.7,336.6 258.6,336.6 259.5,336.6 260.4,336.6 261.4,336.6 262.3,336.6 263.2,336.6 264.2,336.6 265.1,336.6 266,336.6 267,336.6 267.9,336.6 268.8,336.6 269.7,336.6 270.7,336.6 271.6,336.6 272.5,336.6 273.5,336.6 274.4,336.6 275.3,336.6 276.2,336.6 277.2,336.6 278.1,336.6 279,336.6 280,336.6 280.9,336.6 281.8,336.6 282.8,336.6 283.7,336.6 284.6,336.6 285.5,336.6 286.5,336.6 287.4,336.6 288.3,336.6 289.3,336.6 290.2,336.6 291.1,336.6 292.1,336.6 293,336.6 293.9,336.6 294.8,336.6 295.8,336.6 296.7,336.6 297.6,336.6 298.6,336.6 299.5,336.6 300.4,336.6 301.4,336.6 302.3,336.6 303.2,336.6 304.1,336.6 305.1,336.6 306,336.6 306.9,336.6 307.9,336.6 308.8,336.6 309.7,336.6 310.7,336.6 311.6,336.6 312.5,336.6 313.4,336.6 314.4,336.6 315.3,336.6" fill="none" stroke="#b0b0b0" stroke-width="1.4"/>
<text x="312.8" y="329.0" font-size="12" text-anchor="end">723</text>
<rect x="36.3" y="2.8" width="280.0" height="343.9" fill="none" stroke="#000" stroke-width="1.7"/>
<line x1="36.3" y1="346.7" x2="36.3" y2="350.7" stroke="#000" stroke-width="1.5"/>
<text x="36.3" y="363.1" font-size="14.5" text-anchor="middle">938</text>
<line x1="64.3" y1="346.7" x2="64.3" y2="349.2" stroke="#000" stroke-width="1.5"/>
<line x1="92.3" y1="346.7" x2="92.3" y2="350.7" stroke="#000" stroke-width="1.5"/>
<text x="92.3" y="363.1" font-size="14.5" text-anchor="middle">936</text>
<line x1="120.3" y1="346.7" x2="120.3" y2="349.2" stroke="#000" stroke-width="1.5"/>
<line x1="148.3" y1="346.7" x2="148.3" y2="350.7" stroke="#000" stroke-width="1.5"/>
<text x="148.3" y="363.1" font-size="14.5" text-anchor="middle">934</text>
<line x1="176.3" y1="346.7" x2="176.3" y2="349.2" stroke="#000" stroke-width="1.5"/>
<line x1="204.3" y1="346.7" x2="204.3" y2="350.7" stroke="#000" stroke-width="1.5"/>
<text x="204.3" y="363.1" font-size="14.5" text-anchor="middle">932</text>
<line x1="232.3" y1="346.7" x2="232.3" y2="349.2" stroke="#000" stroke-width="1.5"/>
<line x1="260.3" y1="346.7" x2="260.3" y2="350.7" stroke="#000" stroke-width="1.5"/>
<text x="260.3" y="363.1" font-size="14.5" text-anchor="middle">930</text>
<line x1="288.3" y1="346.7" x2="288.3" y2="349.2" stroke="#000" stroke-width="1.5"/>
<line x1="316.3" y1="346.7" x2="316.3" y2="350.7" stroke="#000" stroke-width="1.5"/>
<text x="316.3" y="363.1" font-size="14.5" text-anchor="middle">928</text>
<polyline points="418.7,39.6 420.3,39.2 421.9,38.3 423.6,39.1 425.2,37.8 426.8,38.1 428.4,39.1 430.1,39.2 431.7,38.8 433.3,37.6 434.9,37.4 436.6,37.5 438.2,38.3 439.8,38.7 441.4,37.4 443.1,37 444.7,38.9 446.3,35.5 447.9,37.7 449.5,38.2 451.2,35.8 452.8,35.2 454.4,35.1 456,36.2 457.7,34.1 459.3,30.6 460.9,31.8 462.5,33.4 464.2,33.1 465.8,32.5 467.4,31.2 469,28.8 470.7,31.7 472.3,31.1 473.9,31.5 475.5,33.8 477.1,32 478.8,32.3 480.4,33 482,31.8 483.6,31.3 485.3,31.3 486.9,33.5 488.5,33.3 490.1,32.1 491.8,35.5 493.4,35.5 495,34.5 496.6,38 498.3,37.2 499.9,35.8 501.5,38.6 503.1,37.6 504.7,37.7 506.4,39.3 508,35.5 509.6,37.2 511.2,38.9 512.9,40.4 514.5,39.6 516.1,39.5 517.7,39.8 519.4,41.2 521,42.3 522.6,39 524.2,37.8 525.9,40 527.5,39.5 529.1,38.4 530.7,40.3 532.3,40.4 534,38.2 535.6,38.3 537.2,39.3 538.8,37.6 540.5,35.7 542.1,37 543.7,34.9 545.3,35.6 547,33.2 548.6,32.6 550.2,32.7 551.8,30.9 553.4,29.2 555.1,27.7 556.7,30.8 558.3,29.1 559.9,24.7 561.6,25 563.2,27.3 564.8,25.8 566.4,27.1 568.1,28.7 569.7,28.1 571.3,28 572.9,27.4 574.6,27.6 576.2,27.9 577.8,29.3 579.4,28 581,26.1 582.7,27.7 584.3,26.6 585.9,24.3 587.5,26.2 589.2,27.8 590.8,25.6 592.4,28.6 594,28.1 595.7,30.4 597.3,31.9 598.9,39.5 600.5,40.4 602.2,44.4 603.8,44.9 605.4,44.9 607,48.8 608.6,45.5 610.3,48 611.9,44.5 613.5,46.6 615.1,43.2 616.8,41.8 618.4,45.7 620,45 621.6,45.8 623.3,49.8 624.9,50.5 626.5,55.1 628.1,59.6 629.8,62.5 631.4,65.3 633,68.2 634.6,70.3 636.2,72.4 637.9,72.4 639.5,74.9 641.1,77 642.7,76.3 644.4,77.8 646,76.4 647.6,78.6 649.2,79.3 650.9,78 652.5,77.1 654.1,79.3 655.7,79.8 657.4,82.1 659,79.6 660.6,82.7" fill="none" stroke="#14e214" stroke-width="1.55" stroke-linejoin="round"/>
<text x="562.9" y="49.0" font-size="12.5" fill="#a20e2c" style="color:#a20e2c">NiO</text>
<text x="614.9" y="63.1" font-size="12">Ni</text>
<text x="657.2" y="66.1" font-size="12" text-anchor="end">523</text>
<polyline points="418.7,101.2 420.3,102.4 421.9,101.6 423.6,98.5 425.2,98.4 426.8,97.8 428.4,99.3 430.1,98.4 431.7,99.6 433.3,95.8 434.9,100.8 436.6,98.4 438.2,99.5 439.8,98.3 441.4,97.7 443.1,98.5 444.7,98.3 446.3,96.1 447.9,95.3 449.5,95.7 451.2,92.7 452.8,90.9 454.4,92.7 456,90.2 457.7,87.6 459.3,88.8 460.9,89.2 462.5,88.2 464.2,87.8 465.8,90.1 467.4,91.4 469,89.9 470.7,89.3 472.3,91.1 473.9,91.7 475.5,90.4 477.1,91.8 478.8,92.9 480.4,91.4 482,90.9 483.6,93 485.3,93.2 486.9,95 488.5,92.1 490.1,93.7 491.8,94.1 493.4,93.5 495,96.7 496.6,97.9 498.3,96.6 499.9,100.2 501.5,99.8 503.1,99.9 504.7,99.9 506.4,101.1 508,98.1 509.6,101.2 511.2,101.5 512.9,98.2 514.5,101.3 516.1,100.3 517.7,101.6 519.4,99.5 521,99.7 522.6,99.8 524.2,97.6 525.9,99.3 527.5,97.9 529.1,98.4 530.7,96.5 532.3,98.3 534,97.1 535.6,95.5 537.2,96.1 538.8,96.3 540.5,96.4 542.1,90.5 543.7,92.9 545.3,90.9 547,88.8 548.6,86.2 550.2,88.5 551.8,84.1 553.4,86 555.1,86.4 556.7,81.6 558.3,82.9 559.9,81 561.6,82.9 563.2,84.5 564.8,85.1 566.4,79.8 568.1,81.9 569.7,84.2 571.3,86.1 572.9,84.9 574.6,83.6 576.2,85.3 577.8,84.8 579.4,84.3 581,83.2 582.7,84.6 584.3,84.3 585.9,83.7 587.5,84.2 589.2,84 590.8,87 592.4,91.6 594,94 595.7,97.6 597.3,104.7 598.9,105.7 600.5,109.9 602.2,108.4 603.8,108.7 605.4,107.8 607,110.9 608.6,109.9 610.3,102 611.9,99.3 613.5,100.6 615.1,98.7 616.8,99.9 618.4,100.4 620,103.7 621.6,109.6 623.3,112.8 624.9,118.1 626.5,120.1 628.1,125 629.8,124.7 631.4,127.9 633,133.1 634.6,132.7 636.2,135.8 637.9,136.9 639.5,138.9 641.1,138.8 642.7,139.5 644.4,138.3 646,137.8 647.6,138.1 649.2,138.8 650.9,138.2 652.5,139.4 654.1,140.4 655.7,141.2 657.4,140.6 659,138.6 660.6,141.5" fill="none" stroke="#14e214" stroke-width="1.55" stroke-linejoin="round"/>
<text x="558.6" y="108.8" font-size="12.5" fill="#a20e2c" style="color:#a20e2c">NiO</text>
<text x="613.7" y="130.7" font-size="12">Ni</text>
<text x="657.9" y="135.5" font-size="12" text-anchor="end">623</text>
<polyline points="418.7,171.3 420.3,172.8 421.9,172.3 423.6,172.3 425.2,173.6 426.8,169.5 428.4,170.3 430.1,169.3 431.7,171.2 433.3,172.9 434.9,171.6 436.6,172.5 438.2,169.1 439.8,172.1 441.4,170.4 443.1,174 444.7,172.3 446.3,171.9 447.9,169.8 449.5,170.3 451.2,169.9 452.8,168.1 454.4,167.4 456,167.6 457.7,166.5 459.3,166.1 460.9,166.1 462.5,165.1 464.2,166.8 465.8,162.8 467.4,165.9 469,163.4 470.7,163.2 472.3,162.1 473.9,163.9 475.5,163.9 477.1,164.8 478.8,164 480.4,165.2 482,168.1 483.6,166.6 485.3,165.8 486.9,168.7 488.5,167.9 490.1,169.7 491.8,170.6 493.4,170.1 495,168.8 496.6,171.9 498.3,173.8 499.9,172.7 501.5,174.1 503.1,175.1 504.7,173 506.4,175.7 508,176.4 509.6,175.7 511.2,175.9 512.9,175.8 514.5,177.3 516.1,174 517.7,173.4 519.4,173.9 521,171.3 522.6,169.9 524.2,170.4 525.9,171.8 527.5,171.5 529.1,168.2 530.7,167.2 532.3,168.9 534,168.6 535.6,168.1 537.2,168.5 538.8,168.6 540.5,166.4 542.1,165.9 543.7,162.1 545.3,160.6 547,161.3 548.6,160.8 550.2,160 551.8,158.8 553.4,158.2 555.1,157.5 556.7,153.1 558.3,154.1 559.9,155.6 561.6,155.9 563.2,153.2 564.8,157.8 566.4,156.1 568.1,157.1 569.7,158.4 571.3,159.4 572.9,156.2 574.6,159.5 576.2,157.8 577.8,156.2 579.4,156.6 581,153.7 582.7,155.9 584.3,157.6 585.9,157.1 587.5,158.9 589.2,160.6 590.8,162.6 592.4,165.7 594,167 595.7,170.5 597.3,175.4 598.9,180.5 600.5,179 602.2,182.1 603.8,180.7 605.4,186 607,185.3 608.6,185.1 610.3,180.4 611.9,176.1 613.5,176.4 615.1,173.3 616.8,168.6 618.4,166.9 620,170.6 621.6,171.7 623.3,178.2 624.9,176.2 626.5,179.9 628.1,184.6 629.8,186.5 631.4,191.6 633,199.8 634.6,201.8 636.2,204.7 637.9,205.5 639.5,209.1 641.1,209.9 642.7,209.8 644.4,209.4 646,210.8 647.6,211.3 649.2,210.2 650.9,212.5 652.5,208.9 654.1,210.5 655.7,212.2 657.4,212.8 659,211.5 660.6,213.9" fill="none" stroke="#14e214" stroke-width="1.55" stroke-linejoin="round"/>
<text x="557.0" y="186.7" font-size="12.5" fill="#a20e2c" style="color:#a20e2c">NiO</text>
<text x="614.4" y="203.7" font-size="12">Ni</text>
<text x="659.0" y="204.4" font-size="12" text-anchor="end">673</text>
<polyline points="418.7,233.2 420.3,227.1 421.9,233.9 423.6,233.2 425.2,235.4 426.8,234 428.4,235.9 430.1,233 431.7,231.7 433.3,232.8 434.9,232.1 436.6,230.5 438.2,230.4 439.8,231.6 441.4,231.6 443.1,229.9 444.7,230.1 446.3,228 447.9,233 449.5,230.3 451.2,232.5 452.8,231.2 454.4,233.4 456,232.8 457.7,231.1 459.3,232.7 460.9,229.2 462.5,232.4 464.2,228.5 465.8,231.1 467.4,232.1 469,230.9 470.7,230.1 472.3,229.4 473.9,230.1 475.5,232.1 477.1,231.9 478.8,230.2 480.4,228.8 482,231.6 483.6,228.5 485.3,229.8 486.9,229.5 488.5,231.7 490.1,230.9 491.8,231.3 493.4,231 495,229.6 496.6,231.4 498.3,232.6 499.9,230.5 501.5,231.5 503.1,230.4 504.7,232 506.4,231.5 508,231.7 509.6,230.9 511.2,232.7 512.9,229.8 514.5,229.7 516.1,229.3 517.7,230.9 519.4,229 521,228.9 522.6,230.8 524.2,231.3 525.9,230.3 527.5,225.5 529.1,227.9 530.7,227.6 532.3,227.2 534,228.3 535.6,231.3 537.2,228.1 538.8,227.3 540.5,229.3 542.1,228.1 543.7,227.9 545.3,226.4 547,227 548.6,227.3 550.2,223.6 551.8,223.8 553.4,227.7 555.1,227.3 556.7,225.4 558.3,224.8 559.9,226.1 561.6,224.7 563.2,226.1 564.8,229.2 566.4,227.3 568.1,229.4 569.7,228 571.3,229.5 572.9,231.4 574.6,227.5 576.2,228.8 577.8,228.6 579.4,228.7 581,230 582.7,228.1 584.3,224.4 585.9,225.9 587.5,224.8 589.2,225.1 590.8,230.4 592.4,227.3 594,230.6 595.7,230.8 597.3,235.3 598.9,237 600.5,239 602.2,240.6 603.8,243.5 605.4,240.5 607,239.5 608.6,236.9 610.3,238.2 611.9,234.1 613.5,232 615.1,232 616.8,235.5 618.4,231.6 620,235.1 621.6,238.6 623.3,241.8 624.9,244.9 626.5,249.6 628.1,253.3 629.8,254 631.4,264.4 633,264.9 634.6,265.6 636.2,265.9 637.9,265.5 639.5,268.5 641.1,267.2 642.7,268.4 644.4,265.9 646,268.5 647.6,270.9 649.2,267.6 650.9,269.2 652.5,268.1 654.1,269.6 655.7,269.5 657.4,268.1 659,267.2 660.6,268.4" fill="none" stroke="#14e214" stroke-width="1.55" stroke-linejoin="round"/>
<text x="564.5" y="252.8" font-size="12.5" fill="#a20e2c" style="color:#a20e2c">NiO</text>
<text x="614.4" y="254.0" font-size="12">Ni</text>
<text x="659.0" y="261.7" font-size="12" text-anchor="end">698</text>
<polyline points="418.7,300.6 420.3,298.1 421.9,297.2 423.6,295.2 425.2,298.9 426.8,301.2 428.4,299.4 430.1,300 431.7,300.7 433.3,297.9 434.9,303 436.6,297.8 438.2,299.6 439.8,303 441.4,298.8 443.1,299.1 444.7,298.1 446.3,299.3 447.9,295.6 449.5,297.7 451.2,301 452.8,298.8 454.4,298.1 456,298.9 457.7,298.9 459.3,298.4 460.9,299 462.5,295.7 464.2,298.9 465.8,297.1 467.4,299.2 469,298 470.7,296.6 472.3,297.9 473.9,296.5 475.5,299.5 477.1,298 478.8,299.2 480.4,296.4 482,300.3 483.6,297.6 485.3,300 486.9,299.2 488.5,296.4 490.1,298.5 491.8,297.2 493.4,298.6 495,300.1 496.6,299 498.3,299.5 499.9,296.3 501.5,298.3 503.1,298.5 504.7,299.5 506.4,297 508,298.7 509.6,298.5 511.2,295.6 512.9,296.3 514.5,298.4 516.1,295.9 517.7,295.8 519.4,298.8 521,297.8 522.6,297 524.2,297.4 525.9,296.6 527.5,296.3 529.1,296.3 530.7,297.5 532.3,298.7 534,296 535.6,296.5 537.2,296.2 538.8,294.5 540.5,296.6 542.1,297.4 543.7,294.7 545.3,297 547,294.7 548.6,297 550.2,297 551.8,294.5 553.4,292 555.1,294.3 556.7,292.6 558.3,292.6 559.9,294 561.6,296.2 563.2,294 564.8,293.7 566.4,291.3 568.1,293.1 569.7,292.2 571.3,295.3 572.9,294.2 574.6,295.4 576.2,296 577.8,296.2 579.4,298.3 581,298.1 582.7,297.5 584.3,298.7 585.9,299.7 587.5,301.4 589.2,300 590.8,302.3 592.4,299.7 594,300.5 595.7,298.4 597.3,300.8 598.9,296.8 600.5,295.4 602.2,296.7 603.8,293.3 605.4,291.3 607,292 608.6,288.4 610.3,287.2 611.9,282.3 613.5,281.7 615.1,281.6 616.8,280.7 618.4,284.2 620,282.8 621.6,285.8 623.3,289.4 624.9,294.4 626.5,297.2 628.1,302.2 629.8,308.5 631.4,316 633,319.9 634.6,323.2 636.2,326.5 637.9,328.7 639.5,327.8 641.1,329.4 642.7,327.1 644.4,330.4 646,331 647.6,332.1 649.2,332 650.9,333.1 652.5,330.9 654.1,333.8 655.7,330.9 657.4,332.9 659,335.9 660.6,336.1" fill="none" stroke="#14e214" stroke-width="1.55" stroke-linejoin="round"/>
<text x="558.1" y="312.6" font-size="12.5" fill="#a20e2c" style="color:#a20e2c">NiO</text>
<text x="613.7" y="321.7" font-size="12">Ni</text>
<text x="658.4" y="324.2" font-size="12" text-anchor="end">723</text>
<rect x="417.9" y="4.2" width="243.20000000000005" height="342.2" fill="none" stroke="#000" stroke-width="1.7"/>
<line x1="417.9" y1="346.4" x2="417.9" y2="348.9" stroke="#000" stroke-width="1.5"/>
<line x1="434.1" y1="346.4" x2="434.1" y2="350.4" stroke="#000" stroke-width="1.5"/>
<text x="434.1" y="362.9" font-size="14.5" text-anchor="middle">864</text>
<line x1="450.3" y1="346.4" x2="450.3" y2="348.9" stroke="#000" stroke-width="1.5"/>
<line x1="466.5" y1="346.4" x2="466.5" y2="350.4" stroke="#000" stroke-width="1.5"/>
<text x="466.5" y="362.9" font-size="14.5" text-anchor="middle">862</text>
<line x1="482.8" y1="346.4" x2="482.8" y2="348.9" stroke="#000" stroke-width="1.5"/>
<line x1="499" y1="346.4" x2="499" y2="350.4" stroke="#000" stroke-width="1.5"/>
<text x="499" y="362.9" font-size="14.5" text-anchor="middle">860</text>
<line x1="515.2" y1="346.4" x2="515.2" y2="348.9" stroke="#000" stroke-width="1.5"/>
<line x1="531.4" y1="346.4" x2="531.4" y2="350.4" stroke="#000" stroke-width="1.5"/>
<text x="531.4" y="362.9" font-size="14.5" text-anchor="middle">858</text>
<line x1="547.6" y1="346.4" x2="547.6" y2="348.9" stroke="#000" stroke-width="1.5"/>
<line x1="563.8" y1="346.4" x2="563.8" y2="350.4" stroke="#000" stroke-width="1.5"/>
<text x="563.8" y="362.9" font-size="14.5" text-anchor="middle">856</text>
<line x1="580" y1="346.4" x2="580" y2="348.9" stroke="#000" stroke-width="1.5"/>
<line x1="596.2" y1="346.4" x2="596.2" y2="350.4" stroke="#000" stroke-width="1.5"/>
<text x="596.2" y="362.9" font-size="14.5" text-anchor="middle">854</text>
<line x1="612.5" y1="346.4" x2="612.5" y2="348.9" stroke="#000" stroke-width="1.5"/>
<line x1="628.7" y1="346.4" x2="628.7" y2="350.4" stroke="#000" stroke-width="1.5"/>
<text x="628.7" y="362.9" font-size="14.5" text-anchor="middle">852</text>
<line x1="644.9" y1="346.4" x2="644.9" y2="348.9" stroke="#000" stroke-width="1.5"/>
<line x1="661.1" y1="346.4" x2="661.1" y2="350.4" stroke="#000" stroke-width="1.5"/>
<text x="661.1" y="362.9" font-size="14.5" text-anchor="middle">850</text>
<text x="0.6" y="20.9" font-size="19" letter-spacing="1.4">a)</text>
<text x="370.0" y="21.1" font-size="19" letter-spacing="1.7">b)</text>
<text x="176.4" y="392" font-size="19" letter-spacing="0.3" text-anchor="middle">B.E. (eV)</text>
<text x="551.1" y="392" font-size="19" letter-spacing="0.3" text-anchor="middle">B.E. (eV)</text>
<text transform="translate(25.1,176.5) rotate(-90)" font-size="19" text-anchor="middle">Intensity (a.U.)</text>
<text transform="translate(405.2,176.4) rotate(-90)" font-size="19" text-anchor="middle">Intensity (a.U.)</text>
<text transform="translate(355.4,177.4) rotate(-90)" font-size="19" text-anchor="middle">Temperature (K)</text>
<text transform="translate(697.2,177.0) rotate(-90)" font-size="19" text-anchor="middle">Temperature (K)</text>
<line x1="330.1" y1="13.4" x2="330.1" y2="334.9" stroke="#000" stroke-width="1.5"/>
<polygon points="327.70000000000005,333.29999999999995 330.1,334.29999999999995 332.5,333.29999999999995 330.1,337.9" fill="#000"/>
<line x1="675.6" y1="13.1" x2="675.6" y2="335.5" stroke="#000" stroke-width="1.5"/>
<polygon points="673.2,333.9 675.6,334.9 678.0,333.9 675.6,338.5" fill="#000"/>
<text x="115.6" y="84.9" font-size="14.5" fill="#9e0c2a" style="color:#9e0c2a">CuO</text>
<text x="214.8" y="82.7" font-size="14.6" fill="#22cc22" style="color:#22cc22">Cu</text>
<line x1="131.2" y1="70.2" x2="138.2" y2="55.8" stroke="#f08cb4" stroke-width="0.9"/>
<polygon points="139.6,52.9 139.5,56.4 136.9,55.2" fill="#802040"/>
<line x1="133.8" y1="91.0" x2="140.7" y2="114.2" stroke="#f08cb4" stroke-width="0.9"/>
<polygon points="141.6,117.3 139.3,114.6 142,113.8" fill="#802040"/>
<line x1="219.0" y1="70.8" x2="204" y2="47.1" stroke="#6ee06e" stroke-width="0.9"/>
<polygon points="202.3,44.4 205.2,46.4 202.8,47.9" fill="#20a020"/>
<line x1="223.5" y1="88.4" x2="204.1" y2="100" stroke="#6ee06e" stroke-width="0.9"/>
<polygon points="201.4,101.6 203.4,98.8 204.9,101.2" fill="#20a020"/>
<text x="94.9" y="216.7" font-size="14.5" fill="#9e0c2a" style="color:#9e0c2a">CuO</text>
<text x="216.5" y="210.9" font-size="14.6" fill="#22cc22" style="color:#22cc22">Cu</text>
<line x1="115.2" y1="200.2" x2="135.4" y2="182.7" stroke="#f08cb4" stroke-width="0.9"/>
<polygon points="137.8,180.6 136.3,183.8 134.5,181.6" fill="#802040"/>
<line x1="111.4" y1="222.8" x2="129.2" y2="256.2" stroke="#f08cb4" stroke-width="0.9"/>
<polygon points="130.7,259 128,256.8 130.4,255.5" fill="#802040"/>
<line x1="218.7" y1="197.4" x2="199.8" y2="168.4" stroke="#6ee06e" stroke-width="0.9"/>
<polygon points="198.1,165.7 201,167.6 198.7,169.1" fill="#20a020"/>
<line x1="225.3" y1="215.5" x2="198.9" y2="240.5" stroke="#6ee06e" stroke-width="0.9"/>
<polygon points="196.6,242.7 198,239.5 199.9,241.5" fill="#20a020"/>
<text x="41.2" y="289.0" font-size="14.3" fill="#22307e" style="color:#22307e">new Cu species</text>
<text x="70.8" y="313.9" font-size="14.5" fill="#9e0c2a" style="color:#9e0c2a">CuO</text>
<text x="203.2" y="284.4" font-size="14.6" fill="#22cc22" style="color:#22cc22">Cu</text>
<line x1="101.3" y1="314.4" x2="111.5" y2="323.5" stroke="#f08cb4" stroke-width="0.9"/>
<polygon points="113.9,325.6 110.6,324.5 112.4,322.4" fill="#802040"/>
<line x1="107.9" y1="293.4" x2="149.4" y2="310.2" stroke="#8c94c8" stroke-width="0.9"/>
<polygon points="152.4,311.4 148.9,311.5 150,308.9" fill="#26347e"/>
<line x1="208.6" y1="287.9" x2="198.4" y2="310.9" stroke="#6ee06e" stroke-width="0.9"/>
<polygon points="197.1,313.8 197.1,310.3 199.7,311.4" fill="#20a020"/>
</svg></body></html>
